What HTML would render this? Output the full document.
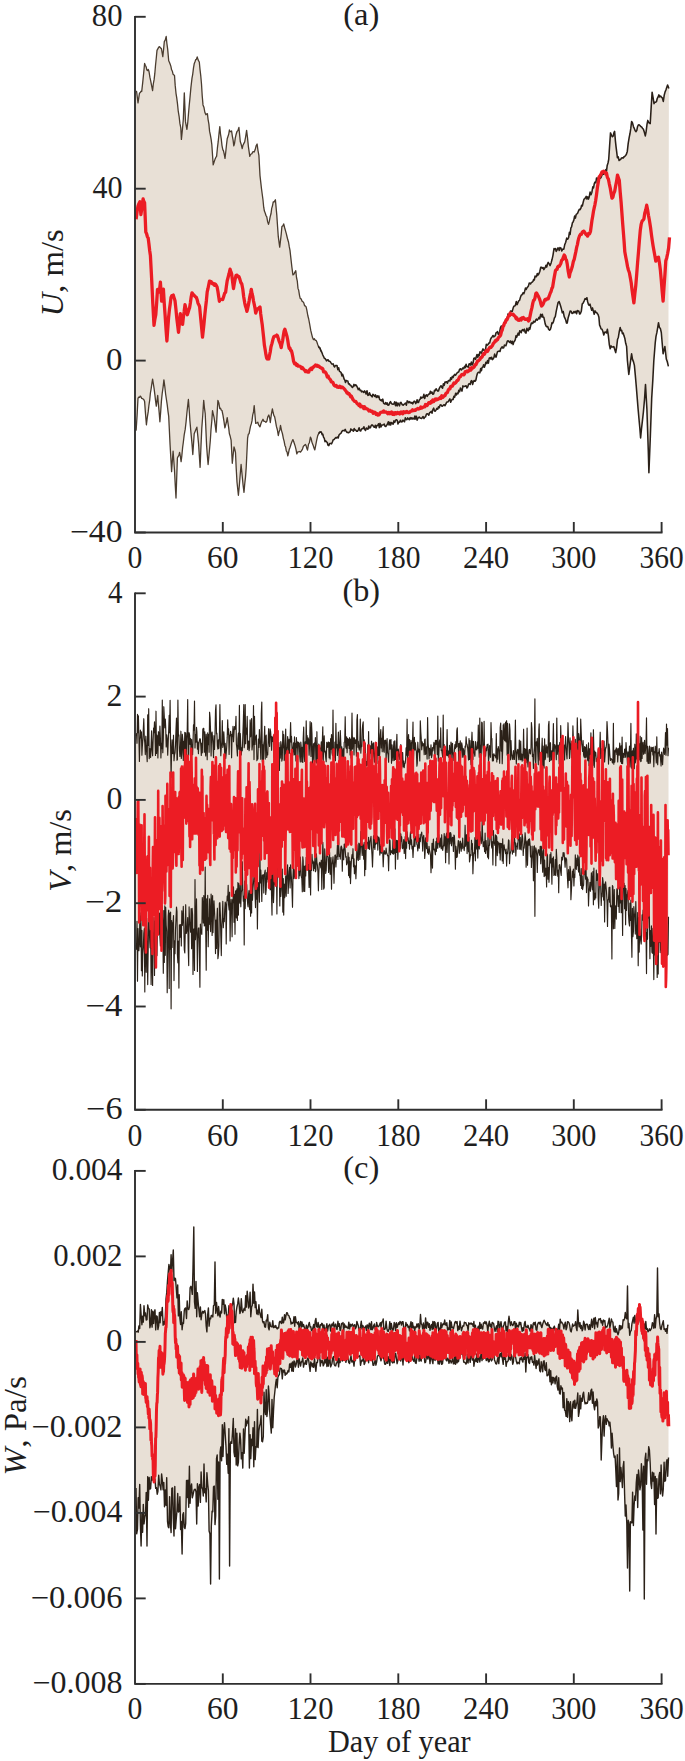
<!DOCTYPE html>
<html><head><meta charset="utf-8"><title>Figure</title>
<style>
html,body{margin:0;padding:0;background:#fff;}
svg{display:block;}
text{font-family:"Liberation Serif","Times New Roman",serif;font-size:31px;fill:#1e1e1e;}
</style></head>
<body>
<svg width="685" height="1761" viewBox="0 0 685 1761">
<rect width="685" height="1761" fill="#fff"/>
<path d="M136,91.5 136.6,91.5 138,102.8 138.8,97.7 139.5,93 140.2,92.7 141,91.2 141.7,91.5 142.7,82.6 143.6,73.7 144.6,63.5 145.3,65.3 146.1,66.7 146.8,69.8 147.5,70.6 148.3,69.5 149,71.5 149.9,77.2 150.8,81.3 151.7,86.2 152.6,90.5 153.3,84 154.1,79.7 154.8,73.7 155.5,65.5 156.3,57.8 157,50.4 157.7,49.1 158.5,47.6 159.2,46.6 159.9,47.1 160.7,48.1 161.4,48.5 162.8,56.6 163.6,49.1 164.3,41.7 165.2,40.2 166.2,36.5 166.9,43.5 167.7,49.4 168.7,60.8 169.4,62.2 170.2,64.2 170.9,66.4 171.6,69.8 172.4,71.3 173.1,74.3 174.5,75.4 175.2,85.4 176,93.3 176.7,97.6 177.5,103.9 178.2,110.8 179.1,116.3 179.9,123.4 180.8,127.9 181.4,139.4 182.4,129.8 183.3,119.5 184.3,92.8 185.5,121.9 186.9,129.4 187.7,123 188.4,114.8 189.2,105.5 189.9,98.6 190.9,87.6 192,78.1 192.7,74.3 193.5,67.9 194.2,63.8 194.9,62 195.7,59.7 196.4,59.4 197.2,56.9 198.2,60.1 199.3,62 200,69.4 200.8,76.2 201.5,84 202.2,95.6 203,104.9 204,107.6 204.9,112.5 205.9,114.7 206.7,113.9 207.4,113.7 208.1,119.6 208.9,124.1 209.6,131.4 210.3,134.6 211.1,139.1 211.8,144.3 213.2,164.9 214,162.3 214.9,159.6 215.8,157.4 216.6,156.4 217.4,148.2 218.2,141.7 219,133.7 219.8,126.6 220.5,134.1 221.3,139.2 222,145.6 222.8,149.6 223.5,150.9 224.2,154 225,158.3 225.7,152.5 226.5,144.7 227.2,138.8 227.9,136.7 228.7,134.3 229.4,130 230.1,131.6 230.9,131.7 231.6,131 232.3,135.8 233.1,140.1 233.8,145.9 234.5,143.6 235.3,137.8 236,134.8 237,131.5 237.9,130.6 238.9,127.4 240.3,141.7 241.2,144.3 242.2,148.7 243,145.2 243.9,143.4 244.7,141.9 245.6,137 246.6,130.3 247.5,137.7 248.4,146.6 249.8,156.3 250.5,154.3 251.3,154 252,153.6 252.7,151.9 253.5,151.7 254.2,152 255.2,149.6 256.1,145.8 257.1,144 258,150.6 258.9,155.4 260,175.6 260.8,182.6 261.5,188.7 262.2,194 263,200 263.7,207.2 264.4,211.1 265.2,213 265.9,215.3 266.8,216.8 267.6,221.6 268.5,224.4 269.3,221.4 270.2,216.6 271,213.8 271.7,208.4 272.5,205.8 273.2,202 273.9,202.1 274.7,201 275.4,199.8 276.8,215.1 277.6,227 278.3,236.7 279.7,247.2 280.4,241.3 281.2,234.4 281.9,226.5 282.8,225.9 283.7,223.9 284.6,227.5 285.6,231.1 286.3,233.6 287.1,237 287.8,239.8 288.5,242 289.3,246.9 290,250.4 291,259.4 291.9,267.3 292.9,274.9 293.9,274.2 294.8,272.4 295.8,270.7 296.5,277.5 297.3,281.2 298,288.4 298.7,290.3 299.5,295.3 300.2,298.4 301.1,298.8 302,301.1 302.9,301.7 303.8,302.9 304.6,305.8 305.3,305.8 306.1,306.9 306.8,309.9 307.8,315.5 308.7,319 309.7,324.4 310.7,330.2 311.6,333.9 312.6,337.8 313.5,339.6 314.4,338.8 315.3,340.4 316.2,340.4 316.9,342 317.7,344.5 318.4,346.2 319.2,347.6 319.9,347.9 320.9,350.7 321.8,352.3 322.8,355 323.5,356.3 324.3,358.2 325,358.5 325.8,359.5 326.5,360.9 327.3,359.9 328,359.7 328.8,361.2 329.5,361.2 330.2,361.6 331,362.9 331.7,363.9 332.4,364.1 333.2,363.9 333.9,366.1 334.6,367 335.4,365.5 336.1,365.5 337,365.5 337.8,369.7 338.7,367.8 339.5,371.4 340.4,371.9 341.1,372.5 341.9,375.9 342.6,374.3 343.3,376.2 344.1,379 344.8,380 345.5,382.5 346.3,380.6 347,380.8 347.8,380.9 348.5,383.9 349.2,383.7 350,385 350.7,385.2 351.5,386.5 352.4,387.4 353.2,386.4 354,384.4 354.8,385.9 355.7,384.7 356.5,385.7 357.4,387.4 358.3,389.6 359.2,388.2 360.1,390.5 360.8,390.2 361.6,391.9 362.3,391.2 363.1,391.7 363.8,392.5 364.6,390.9 365.3,391.9 366.1,394.1 367,390.7 367.9,395.4 368.7,395 369.5,392.8 370.4,395.1 371.2,395.7 372.1,396.9 372.9,394.3 373.8,395.1 374.6,396.4 375.5,394.9 376.3,397.4 377.2,395.8 378,397.4 378.8,396 379.6,399.2 380.5,400.4 381.3,399.8 382,401.1 382.8,399.1 383.5,402.9 384.2,403.7 385,404.2 385.7,402.5 386.5,404.2 387.2,402.9 388,405.3 388.9,405.1 389.7,402.8 390.5,401.6 391.3,403.4 392.2,404 393,404.3 393.8,404 394.7,401.8 395.5,405.7 396.3,402.2 397.1,405.9 398,403 398.8,404.5 399.5,405.9 400.3,402.6 401,402.4 401.8,404 402.5,404.9 403.2,405.2 404,404.3 404.7,403.9 405.5,403.1 406.4,405.2 407.2,400.9 408,401.4 408.8,402.8 409.7,401.6 410.5,402.8 411.2,403.1 412,402.4 412.7,403.9 413.4,402.4 414.2,401.1 414.9,401.4 415.7,403.6 416.4,402.4 417.1,399.8 417.9,402.4 418.6,402.4 419.4,399.7 420.1,399.4 420.8,397 421.6,398.1 422.3,397.4 423.1,397.5 423.9,394.3 424.7,398.5 425.5,395.8 426.4,394.9 427.2,396.4 428,394.8 428.8,394.1 429.6,394 430.4,391.2 431.2,393.1 432,392.1 432.8,394.3 433.7,393.8 434.5,390.2 435.3,390.8 436.1,388.7 436.9,390 437.7,391.1 438.5,390.9 439.3,388.3 440.1,386.9 441,385.7 441.8,387.3 442.6,388.2 443.4,383.7 444.2,385.4 445,382 445.8,382.2 446.6,381.7 447.4,383.3 448.3,380.8 449.1,380.4 449.9,381 450.7,377.8 451.5,379.4 452.3,376.4 453.1,377.5 453.9,375.4 454.7,374.4 455.6,375.2 456.4,373.9 457.2,372.8 458,372.2 458.8,371.8 459.6,369.3 460.5,368.7 461.3,370 462.1,369.2 462.9,367.8 463.8,368.6 464.6,366.2 465.3,367.6 466.1,364.3 466.8,366.6 467.6,366.8 468.3,367.1 469,364 469.8,363.8 470.5,365.1 471.3,362.1 472.2,364.9 473,363.3 473.8,358.5 474.6,358 475.5,359.4 476.3,356.8 477,354.5 477.8,357.4 478.5,354.6 479.2,355.7 480,351.7 480.7,352.4 481.5,353.1 482.2,350.7 483,348.9 483.9,350.2 484.7,350.3 485.5,349.6 486.3,344.3 487.2,345.2 488,344.5 488.8,343.1 489.7,342.9 490.5,339.4 491.3,337.8 492.1,336.9 493,335.5 493.8,336.9 494.5,336.1 495.3,335.7 496,332.8 496.8,332.3 497.5,331.6 498.2,334.1 499,334.1 499.7,331.5 500.5,327.5 501.2,326 502,329.2 502.7,325.4 503.5,325.6 504.3,322 505,321.4 505.8,320.3 506.5,318.6 507.3,317.8 508.1,313.9 508.9,316.2 509.7,315.7 510.5,311.1 511.4,311.3 512.2,311.5 513,308.6 513.8,306.3 514.6,306.1 515.4,305.3 516.3,301.5 517.1,304.6 517.9,302.8 518.7,300.9 519.6,300.4 520.4,297.4 521.2,295.2 522.1,294.8 523,292.8 523.8,293.8 524.6,291.4 525.5,288 526.2,289.5 527,287.7 527.7,286.9 528.4,286.1 529.2,283.1 529.9,283.2 530.6,283.9 531.4,282.4 532.1,282.2 532.9,281.5 533.6,279.5 534.3,280 535.1,276 535.8,276.6 536.5,276.6 537.3,273.5 538,275.1 538.9,273.8 539.8,271.5 540.7,267.3 541.6,267.2 542.3,268.3 543.1,267.6 543.8,269.6 544.5,268.5 545.3,267.1 546,265.2 546.7,267.1 547.5,264 548.2,262.4 549.2,263.9 550.1,265.6 551.1,262.9 552.1,259.3 553,255.1 554,248.6 554.7,249.5 555.5,248.6 556.2,251.4 556.9,250.4 557.7,248.1 558.4,248 559.2,250.5 559.9,247.6 560.9,248 561.8,250.9 562.8,249.1 563.8,249.1 564.7,244.8 565.7,242.2 566.7,238.1 567.6,239.3 568.6,237.7 569.4,232.4 570.1,234.4 570.9,227.9 571.6,226.9 572.4,222.8 573.1,221.9 573.9,219.9 574.6,216.1 575.4,218.1 576.2,214.3 577,213.8 577.7,213.1 578.5,210.9 579.3,209.4 580.1,209.7 580.9,208.2 581.6,205.2 582.4,205.9 583.2,202.2 584,199.1 584.7,198.8 585.5,197.8 586.2,196.4 587,199.1 587.7,196.9 588.5,199.1 589.2,197.1 590.1,192.1 591,194.7 591.9,192.2 592.8,186.9 593.5,187.9 594.3,183.6 595,182 595.8,182.8 596.5,178.1 597.3,178.1 598.1,179.7 598.9,178.1 599.6,176.2 600.4,178.3 601.2,177 602,175 602.8,172.3 603.5,174.2 604.2,172.8 605,170.9 605.8,169.6 606.5,171.2 607.2,165.4 608,163 608.7,159.5 609.6,146 610.5,132.9 611.5,135.4 612.4,136.8 613.1,136.1 613.9,132.9 614.6,131.4 615.4,140.8 616.1,147.1 617.4,157.7 618.2,156.8 619.1,160.5 619.9,159.7 620.7,159.4 621.5,157.9 622.3,157.7 623.1,158.1 623.8,157 624.6,156.5 625.4,155.7 626.3,154.6 627.3,151.4 628.2,143.4 629.2,137.4 630,133.5 630.8,128.4 631.6,121.5 632.5,122.9 633.5,126.8 634.3,128.4 635.2,130.8 636,131.6 636.8,130.3 637.5,126.8 638.3,125 639.1,124.7 639.9,125.5 640.8,126.6 641.6,126.9 642.5,128.2 643.4,129.2 644.3,132.1 645.3,135.9 646.1,131.8 647,124.4 647.8,120.4 648.6,122.6 649.4,122.9 650.2,123.6 651.2,106.9 652.1,92.2 653,97.1 654,103.7 654.8,102.2 655.7,102.3 656.5,101.5 657.3,98.3 658.1,97 658.9,94.9 659.7,96.9 660.6,96.1 661.4,97.1 662.3,97.8 663.3,101.4 664.2,95.3 665.1,91.9 665.9,90 666.8,87.3 667.6,85 668.9,88.5 668.4,366.4 667.3,361.8 666.3,359 664.9,346.5 664,350.1 663.1,353.7 662.2,343.2 661.3,332.5 660.4,328.6 659.4,327.4 658.5,322.7 657.7,327.7 656.9,332.4 656,336.3 655.2,343.2 653.8,361 652.8,380.4 651.7,398.2 650.3,437.5 648.9,472.8 648.3,450.9 646.9,409.1 645.5,384.6 644.5,399.6 643.4,412 642.5,420.1 641.5,428.7 640.6,438 639.8,427.7 638.9,418 638.1,409 637.2,397.9 636.3,386.8 635.3,375.1 634.4,365.4 633.5,361.9 632.5,359.4 631.6,353.8 630.7,360.1 629.7,367.6 628.8,374.4 627.4,360.5 626.6,346.4 625.7,343.3 624.8,338.2 623.9,335.6 623.2,333 622.4,333.7 621.7,330.4 620.9,330.7 620.2,327.5 619.3,331.4 618.4,337.2 617.5,339.6 616.6,347.5 615.7,352.6 614.8,349.8 613.8,346.6 612.9,347 612,347 611.1,345.9 610.2,348.8 609.3,344.5 608.3,335.1 607.4,329.3 606.5,333 605.6,332 604.7,332.3 603.8,335 602.9,331.5 602,329.3 601.1,328.9 600.4,326.9 599.6,325.2 598.9,317.3 598.1,314.6 597.4,313.8 596.6,312.4 595.8,312.5 595,310.8 594.2,314.2 593.4,311.4 592.5,307.9 591.7,310.2 590.8,307.2 590,304.1 589.1,305.3 588.4,304.4 587.6,301.5 586.9,297.7 586.1,299.3 585.1,298.6 584.2,300.8 583.2,302.9 582.2,304.1 581.3,311.3 580.3,313.7 579.6,314 578.8,311 578.1,311.2 577.4,310.6 576.6,313.7 575.9,311.2 574.9,312.7 574,311.5 573,313.2 572,313.4 571.1,311.3 570.1,311.1 569.1,314.7 568.2,317.7 567.2,323 566.5,323.1 565.7,320 565,318.3 564.2,316.7 563.2,311.5 562.3,312.8 561.3,308.4 560.6,306.1 559.8,303.6 559.1,301.5 558.1,302.5 557.2,306.6 556.2,311.3 555.3,316.6 554.4,318 553.5,321.6 552.6,323.5 551.9,322.8 551.1,327 550.4,329.3 549.6,330.3 548.6,329.2 547.7,326.5 546.7,326.8 546,325.9 545.2,323.9 544.5,320.4 543.8,317.2 543,317.2 542.3,314.2 541.5,316.8 540.6,314.3 539.8,318.9 539,317.3 538.2,318.8 537.3,320.2 536.5,319.1 535.8,319.9 535,322 534.3,322.1 533.6,321.3 532.8,323.4 532.1,323.5 531.4,323 530.6,325.8 529.9,329.2 529.2,327.7 528.4,330.8 527.7,330.6 526.9,328.3 526,333.2 525.2,332.7 524.4,329.1 523.6,330.9 522.7,329.6 521.9,330.3 521.2,332.7 520.4,331.1 519.7,330.8 519,335.2 518.2,333.1 517.5,334.8 516.8,337.1 516,335.7 515.3,339.7 514.6,341.1 513.8,342.1 513.1,344.6 512.2,341.2 511.4,343.4 510.5,341 509.7,342.4 508.8,341.6 508.1,340.7 507.3,341.1 506.6,343.6 505.9,345.8 505.1,345.4 504.4,345.1 503.7,347.7 502.9,348.1 502.2,346.9 501.5,347.6 500.7,348.7 500,351.5 499.2,351 498.4,351.4 497.6,351.4 496.8,354.2 496.1,357.1 495.3,356.4 494.6,354.1 493.9,357.6 493.1,358.9 492.4,359.6 491.6,357.2 490.9,359 490.1,357.6 489.2,358.1 488.4,363.1 487.6,360.5 486.8,363.5 485.9,362.2 485.1,365.2 484.4,367.3 483.6,364.7 482.9,367.1 482.1,367.4 481.4,370.8 480.7,368.5 479.9,372.9 479.2,372.4 478.4,372.2 477.5,373.2 476.7,376 475.9,380 475.1,381.3 474.2,380.5 473.4,381.7 472.6,384.5 471.8,380.6 471,381.2 470.2,384.4 469.3,383.7 468.5,384.4 467.7,387 466.9,387.9 466.1,385.7 465.3,386 464.5,386.4 463.7,386.6 462.9,385.9 462,391.1 461.2,389.5 460.4,388 459.6,391.8 458.8,390.2 458,393.8 457.2,393.1 456.4,395 455.6,393.3 454.7,397.2 453.9,396.3 453.1,399.5 452.3,399.4 451.5,400.3 450.7,402.3 449.9,398.8 449.1,400.2 448.3,401.7 447.4,401.9 446.6,402.2 445.8,404.2 445,405.7 444.2,404.7 443.4,405.2 442.6,406.1 441.8,406.1 441,404.8 440.1,404.9 439.3,407.8 438.5,406.7 437.7,409.2 436.9,408.4 436.1,409.9 435.3,411.2 434.5,410.9 433.7,408.1 432.8,409.9 432,413.2 431.2,411.4 430.4,412.3 429.6,412.7 428.8,415.2 428,414 427.2,413.8 426.4,414.2 425.5,416.9 424.7,417.3 423.9,418.5 423.1,416.5 422.3,417.5 421.6,418.5 420.8,418.3 420.1,418.1 419.3,417.1 418.6,417.5 417.9,418.3 417.1,420.2 416.4,416.3 415.6,419 414.9,416 414.1,419.1 413.4,418.3 412.6,419 411.8,417.7 411,419.1 410.2,417.6 409.3,419.7 408.5,418.9 407.7,417.9 406.9,419.7 406.1,419.6 405.3,417.8 404.5,421.8 403.7,420.9 402.9,420.1 402,422 401.2,421.8 400.4,420.2 399.6,422.1 398.8,422.1 398,424 397.2,420.3 396.4,419.7 395.6,420.1 394.7,422.5 393.9,420.9 393.1,424.2 392.3,423.1 391.5,422.5 390.7,425 389.9,422.2 389.1,425 388.3,421.7 387.4,424.2 386.6,425.4 385.8,426.5 385,426.2 384.2,424.1 383.4,424.8 382.6,425 381.8,425.1 381,427 380.1,423.4 379.3,427.6 378.5,423.7 377.7,425.5 376.9,425.6 376.1,428 375.3,425.3 374.5,427.3 373.7,426.8 372.8,425.4 372,424.8 371.2,425.5 370.4,427.7 369.6,427.9 368.8,426 368,429.2 367.2,428.8 366.4,428 365.5,430.5 364.7,429.3 363.9,426.7 363.1,428.6 362.3,428.6 361.5,429.2 360.7,431 359.9,430.5 359.1,427.8 358.2,430.1 357.4,431.3 356.6,431.2 355.8,430.1 355,430 354.2,428.6 353.4,431.2 352.6,430 351.8,430.1 350.9,428.9 350.1,431.7 349.3,432.1 348.5,432.8 347.7,432.3 346.9,432.4 346,431.1 345.2,429.4 344.4,430.9 343.6,430.5 342.7,430.6 341.9,431.3 341.2,433 340.4,433.7 339.7,434.2 339,435 338.2,438 337.5,437 336.6,437.9 335.8,437.6 334.9,438.5 334.1,439.5 333.2,439.7 332.4,442 331.5,443.9 330.6,443.4 329.7,443.5 328.8,445.7 328,445.2 327.3,442.5 326.5,441.9 325.8,440.9 325,441.6 324.3,438.4 323.5,437.1 322.8,434.1 322.1,434.6 321.3,432 320.6,432 319.6,432.2 318.7,433.6 317.7,435.6 316.7,440.1 315.8,444.8 314.8,449.9 314.1,448.2 313.3,445.8 312.6,444 311.9,442.1 311.1,438.5 310.4,437.1 309.4,442.7 308.5,444.3 307.5,450.1 306.8,448.3 306,445.4 305.3,444.4 304.3,445.6 303.4,446.3 302.4,449.4 301.4,450.9 300.5,452.1 299.5,451.5 298.6,451.9 297.7,451.9 296.8,453.9 296,449.3 295.1,445.9 294.4,443.7 293.6,441.3 292.9,439.6 291.9,441.8 291,444.3 290,447.5 289.3,449.2 288.5,453.1 287.8,455.9 287.1,452.2 286.3,451 285.6,446.9 284.9,445.4 284.1,441.1 283.4,438.6 282.4,433.5 281.5,430.6 280.5,425.4 279.8,429.9 279,432 278.3,435.5 277.3,429.5 276.4,426.4 275.4,420.7 274.6,416.7 273.9,415.6 273.1,412.5 272.4,408.8 271.4,414.1 270.3,422.5 269.6,417.7 268.8,415 267.8,416.8 266.9,421.2 265.9,422.4 264.9,421.4 264,421.4 263,419.2 262.2,420.7 261.5,422.1 260.8,424 260,426.8 259.3,425.8 258.5,424.6 257.8,422.2 256.8,423 255.7,423.4 254.9,414 254.2,405.6 253.5,411.9 252.7,415.2 252,420.9 251.3,423.9 250.5,426.4 249.8,429.8 249.1,433.7 248.3,434.3 247.6,438.2 246.2,467.6 245.5,477.1 244.7,484.3 244,492.3 243,484.3 242.1,475 241.1,464.5 240.2,474.8 239.3,485.9 238.4,495.3 237,482.1 236.2,468.3 235.5,452.7 234.8,449.5 234,447 233.2,454.5 232.3,463.3 231.1,440.1 230.2,436.3 229.4,433.8 228.7,427.8 227.9,422.3 227.2,417.6 226.4,422.3 225.7,424.8 224.9,427.8 223.9,420.8 223,415.3 222,410.5 221.3,410.2 220.5,408.3 219.8,408.7 218.9,403.3 217.9,400.4 217,415.6 216.1,432.1 214.7,421.7 214,417.2 213.2,413.8 212.5,410.7 211.8,421.1 211,429.8 210.3,440.8 209.6,448.5 208.8,457.3 208.1,464.5 207.3,454.9 206.6,445.4 205.2,413.6 204.4,407.6 203.7,400.3 202.8,414.7 201.8,428.1 200.9,447.9 200.1,467.4 199.3,455.3 198.6,444.1 197.8,435.9 196.9,427.2 196,429.3 195.1,431.4 194.2,433.7 192.8,454.5 192.1,444.9 191.3,436.4 189.9,420.7 189.2,410 188.4,399.5 187.7,405.5 186.9,413 186.1,421.6 185.2,429.4 184.2,434.9 183.3,442.5 182.6,447.7 181.8,456.1 181.1,461.6 180.3,456 179.6,452.3 178.9,455.3 178.1,456.6 177.4,458.1 176,498 175.2,484.3 174.5,470.4 173.1,451.2 172.3,461.5 171.6,471.6 170.8,457.3 170.1,445.1 168.7,416.4 168,411.4 167.2,404.6 166.5,400 165.6,394 164.8,386.5 163.9,379.8 163.1,387.1 162.2,393.5 161.4,401.4 160.7,411.4 159.9,421.8 159.2,412.8 158.4,404.1 157.7,395.5 156.3,406.2 155.6,401.1 154.8,394.1 154.1,388.7 153.3,383.5 152.6,379.1 151.9,383.3 151.1,389.1 150.4,393 149.7,400.1 148.9,405.5 148.2,411.9 147.3,417.4 146.4,424.8 145.5,413.7 144.6,401.4 143.9,399.7 143.1,399 142.4,398.7 141.7,398.4 140.9,396.7 140.2,396.1 139.5,397.5 138.7,397.2 138,398.3 137.1,415.3 136.1,430.6Z" fill="#e8e0d6" stroke="none"/>
<path d="M136,91.5 136.6,91.5 138,102.8 138.8,97.7 139.5,93 140.2,92.7 141,91.2 141.7,91.5 142.7,82.6 143.6,73.7 144.6,63.5 145.3,65.3 146.1,66.7 146.8,69.8 147.5,70.6 148.3,69.5 149,71.5 149.9,77.2 150.8,81.3 151.7,86.2 152.6,90.5 153.3,84 154.1,79.7 154.8,73.7 155.5,65.5 156.3,57.8 157,50.4 157.7,49.1 158.5,47.6 159.2,46.6 159.9,47.1 160.7,48.1 161.4,48.5 162.8,56.6 163.6,49.1 164.3,41.7 165.2,40.2 166.2,36.5 166.9,43.5 167.7,49.4 168.7,60.8 169.4,62.2 170.2,64.2 170.9,66.4 171.6,69.8 172.4,71.3 173.1,74.3 174.5,75.4 175.2,85.4 176,93.3 176.7,97.6 177.5,103.9 178.2,110.8 179.1,116.3 179.9,123.4 180.8,127.9 181.4,139.4 182.4,129.8 183.3,119.5 184.3,92.8 185.5,121.9 186.9,129.4 187.7,123 188.4,114.8 189.2,105.5 189.9,98.6 190.9,87.6 192,78.1 192.7,74.3 193.5,67.9 194.2,63.8 194.9,62 195.7,59.7 196.4,59.4 197.2,56.9 198.2,60.1 199.3,62 200,69.4 200.8,76.2 201.5,84 202.2,95.6 203,104.9 204,107.6 204.9,112.5 205.9,114.7 206.7,113.9 207.4,113.7 208.1,119.6 208.9,124.1 209.6,131.4 210.3,134.6 211.1,139.1 211.8,144.3 213.2,164.9 214,162.3 214.9,159.6 215.8,157.4 216.6,156.4 217.4,148.2 218.2,141.7 219,133.7 219.8,126.6 220.5,134.1 221.3,139.2 222,145.6 222.8,149.6 223.5,150.9 224.2,154 225,158.3 225.7,152.5 226.5,144.7 227.2,138.8 227.9,136.7 228.7,134.3 229.4,130 230.1,131.6 230.9,131.7 231.6,131 232.3,135.8 233.1,140.1 233.8,145.9 234.5,143.6 235.3,137.8 236,134.8 237,131.5 237.9,130.6 238.9,127.4 240.3,141.7 241.2,144.3 242.2,148.7 243,145.2 243.9,143.4 244.7,141.9 245.6,137 246.6,130.3 247.5,137.7 248.4,146.6 249.8,156.3 250.5,154.3 251.3,154 252,153.6 252.7,151.9 253.5,151.7 254.2,152 255.2,149.6 256.1,145.8 257.1,144 258,150.6 258.9,155.4 260,175.6 260.8,182.6 261.5,188.7 262.2,194 263,200 263.7,207.2 264.4,211.1 265.2,213 265.9,215.3 266.8,216.8 267.6,221.6 268.5,224.4 269.3,221.4 270.2,216.6 271,213.8 271.7,208.4 272.5,205.8 273.2,202 273.9,202.1 274.7,201 275.4,199.8 276.8,215.1 277.6,227 278.3,236.7 279.7,247.2 280.4,241.3 281.2,234.4 281.9,226.5 282.8,225.9 283.7,223.9 284.6,227.5 285.6,231.1 286.3,233.6 287.1,237 287.8,239.8 288.5,242 289.3,246.9 290,250.4 291,259.4 291.9,267.3 292.9,274.9 293.9,274.2 294.8,272.4 295.8,270.7 296.5,277.5 297.3,281.2 298,288.4 298.7,290.3 299.5,295.3 300.2,298.4 301.1,298.8 302,301.1 302.9,301.7 303.8,302.9 304.6,305.8 305.3,305.8 306.1,306.9 306.8,309.9 307.8,315.5 308.7,319 309.7,324.4 310.7,330.2 311.6,333.9 312.6,337.8 313.5,339.6 314.4,338.8 315.3,340.4 316.2,340.4 316.9,342 317.7,344.5 318.4,346.2 319.2,347.6 319.9,347.9 320.9,350.7 321.8,352.3" fill="none" stroke="#4a3c2f" stroke-width="1.3" stroke-linejoin="round"/>
<path d="M318.4,346.2 319.2,347.6 319.9,347.9 320.9,350.7 321.8,352.3 322.8,355 323.5,356.3 324.3,358.2 325,358.5 325.8,359.5 326.5,360.9 327.3,359.9 328,359.7 328.8,361.2 329.5,361.2 330.2,361.6 331,362.9 331.7,363.9 332.4,364.1 333.2,363.9 333.9,366.1 334.6,367 335.4,365.5 336.1,365.5 337,365.5 337.8,369.7 338.7,367.8 339.5,371.4 340.4,371.9 341.1,372.5 341.9,375.9 342.6,374.3 343.3,376.2 344.1,379 344.8,380 345.5,382.5 346.3,380.6 347,380.8 347.8,380.9 348.5,383.9 349.2,383.7 350,385 350.7,385.2 351.5,386.5 352.4,387.4 353.2,386.4 354,384.4 354.8,385.9 355.7,384.7 356.5,385.7 357.4,387.4 358.3,389.6 359.2,388.2 360.1,390.5 360.8,390.2 361.6,391.9 362.3,391.2 363.1,391.7 363.8,392.5 364.6,390.9 365.3,391.9 366.1,394.1 367,390.7 367.9,395.4 368.7,395 369.5,392.8 370.4,395.1 371.2,395.7 372.1,396.9 372.9,394.3 373.8,395.1 374.6,396.4 375.5,394.9 376.3,397.4 377.2,395.8 378,397.4 378.8,396 379.6,399.2 380.5,400.4 381.3,399.8 382,401.1 382.8,399.1 383.5,402.9 384.2,403.7 385,404.2 385.7,402.5 386.5,404.2 387.2,402.9 388,405.3 388.9,405.1 389.7,402.8 390.5,401.6 391.3,403.4 392.2,404 393,404.3 393.8,404 394.7,401.8 395.5,405.7 396.3,402.2 397.1,405.9 398,403 398.8,404.5 399.5,405.9 400.3,402.6 401,402.4 401.8,404 402.5,404.9 403.2,405.2 404,404.3 404.7,403.9 405.5,403.1 406.4,405.2 407.2,400.9 408,401.4 408.8,402.8 409.7,401.6 410.5,402.8 411.2,403.1 412,402.4 412.7,403.9 413.4,402.4 414.2,401.1 414.9,401.4 415.7,403.6 416.4,402.4 417.1,399.8 417.9,402.4 418.6,402.4 419.4,399.7 420.1,399.4 420.8,397 421.6,398.1 422.3,397.4 423.1,397.5 423.9,394.3 424.7,398.5 425.5,395.8 426.4,394.9 427.2,396.4 428,394.8 428.8,394.1 429.6,394 430.4,391.2 431.2,393.1 432,392.1 432.8,394.3 433.7,393.8 434.5,390.2 435.3,390.8 436.1,388.7 436.9,390 437.7,391.1 438.5,390.9 439.3,388.3 440.1,386.9 441,385.7 441.8,387.3 442.6,388.2 443.4,383.7 444.2,385.4 445,382 445.8,382.2 446.6,381.7 447.4,383.3 448.3,380.8 449.1,380.4 449.9,381 450.7,377.8 451.5,379.4 452.3,376.4 453.1,377.5 453.9,375.4 454.7,374.4 455.6,375.2 456.4,373.9 457.2,372.8 458,372.2 458.8,371.8 459.6,369.3 460.5,368.7 461.3,370 462.1,369.2 462.9,367.8 463.8,368.6 464.6,366.2 465.3,367.6 466.1,364.3 466.8,366.6 467.6,366.8 468.3,367.1 469,364 469.8,363.8 470.5,365.1 471.3,362.1 472.2,364.9 473,363.3 473.8,358.5 474.6,358 475.5,359.4 476.3,356.8 477,354.5 477.8,357.4 478.5,354.6 479.2,355.7 480,351.7 480.7,352.4 481.5,353.1 482.2,350.7 483,348.9 483.9,350.2 484.7,350.3 485.5,349.6 486.3,344.3 487.2,345.2 488,344.5 488.8,343.1 489.7,342.9 490.5,339.4 491.3,337.8 492.1,336.9 493,335.5 493.8,336.9 494.5,336.1 495.3,335.7 496,332.8 496.8,332.3 497.5,331.6 498.2,334.1 499,334.1 499.7,331.5 500.5,327.5 501.2,326 502,329.2 502.7,325.4 503.5,325.6 504.3,322 505,321.4 505.8,320.3 506.5,318.6 507.3,317.8 508.1,313.9 508.9,316.2 509.7,315.7 510.5,311.1 511.4,311.3 512.2,311.5 513,308.6 513.8,306.3 514.6,306.1 515.4,305.3 516.3,301.5 517.1,304.6 517.9,302.8 518.7,300.9 519.6,300.4 520.4,297.4 521.2,295.2 522.1,294.8 523,292.8 523.8,293.8 524.6,291.4 525.5,288 526.2,289.5 527,287.7 527.7,286.9 528.4,286.1 529.2,283.1 529.9,283.2 530.6,283.9 531.4,282.4 532.1,282.2 532.9,281.5 533.6,279.5 534.3,280 535.1,276 535.8,276.6 536.5,276.6 537.3,273.5 538,275.1 538.9,273.8 539.8,271.5 540.7,267.3 541.6,267.2 542.3,268.3 543.1,267.6 543.8,269.6 544.5,268.5 545.3,267.1 546,265.2 546.7,267.1 547.5,264 548.2,262.4 549.2,263.9 550.1,265.6 551.1,262.9 552.1,259.3 553,255.1 554,248.6 554.7,249.5 555.5,248.6 556.2,251.4 556.9,250.4 557.7,248.1 558.4,248 559.2,250.5 559.9,247.6 560.9,248 561.8,250.9 562.8,249.1 563.8,249.1 564.7,244.8 565.7,242.2 566.7,238.1 567.6,239.3 568.6,237.7 569.4,232.4 570.1,234.4 570.9,227.9 571.6,226.9 572.4,222.8 573.1,221.9 573.9,219.9 574.6,216.1 575.4,218.1 576.2,214.3 577,213.8 577.7,213.1 578.5,210.9 579.3,209.4 580.1,209.7 580.9,208.2 581.6,205.2 582.4,205.9 583.2,202.2 584,199.1 584.7,198.8 585.5,197.8 586.2,196.4 587,199.1 587.7,196.9 588.5,199.1 589.2,197.1 590.1,192.1 591,194.7 591.9,192.2 592.8,186.9 593.5,187.9 594.3,183.6 595,182 595.8,182.8 596.5,178.1 597.3,178.1 598.1,179.7 598.9,178.1 599.6,176.2 600.4,178.3 601.2,177 602,175 602.8,172.3 603.5,174.2 604.2,172.8 605,170.9 605.8,169.6 606.5,171.2 607.2,165.4 608,163 608.7,159.5 609.6,146 610.5,132.9 611.5,135.4 612.4,136.8 613.1,136.1 613.9,132.9 614.6,131.4 615.4,140.8 616.1,147.1 617.4,157.7 618.2,156.8 619.1,160.5 619.9,159.7 620.7,159.4 621.5,157.9 622.3,157.7 623.1,158.1 623.8,157 624.6,156.5 625.4,155.7 626.3,154.6 627.3,151.4 628.2,143.4 629.2,137.4 630,133.5 630.8,128.4 631.6,121.5 632.5,122.9 633.5,126.8 634.3,128.4 635.2,130.8 636,131.6 636.8,130.3 637.5,126.8 638.3,125 639.1,124.7 639.9,125.5 640.8,126.6 641.6,126.9 642.5,128.2 643.4,129.2 644.3,132.1 645.3,135.9 646.1,131.8 647,124.4 647.8,120.4 648.6,122.6 649.4,122.9 650.2,123.6 651.2,106.9 652.1,92.2 653,97.1 654,103.7 654.8,102.2 655.7,102.3 656.5,101.5 657.3,98.3 658.1,97 658.9,94.9 659.7,96.9 660.6,96.1 661.4,97.1 662.3,97.8 663.3,101.4 664.2,95.3 665.1,91.9 665.9,90 666.8,87.3 667.6,85 668.9,88.5" fill="none" stroke="#2a2018" stroke-width="1.55" stroke-linejoin="round"/>
<path d="M136.1,430.6 137.1,415.3 138,398.3 138.7,397.2 139.5,397.5 140.2,396.1 140.9,396.7 141.7,398.4 142.4,398.7 143.1,399 143.9,399.7 144.6,401.4 145.5,413.7 146.4,424.8 147.3,417.4 148.2,411.9 148.9,405.5 149.7,400.1 150.4,393 151.1,389.1 151.9,383.3 152.6,379.1 153.3,383.5 154.1,388.7 154.8,394.1 155.6,401.1 156.3,406.2 157.7,395.5 158.4,404.1 159.2,412.8 159.9,421.8 160.7,411.4 161.4,401.4 162.2,393.5 163.1,387.1 163.9,379.8 164.8,386.5 165.6,394 166.5,400 167.2,404.6 168,411.4 168.7,416.4 170.1,445.1 170.8,457.3 171.6,471.6 172.3,461.5 173.1,451.2 174.5,470.4 175.2,484.3 176,498 177.4,458.1 178.1,456.6 178.9,455.3 179.6,452.3 180.3,456 181.1,461.6 181.8,456.1 182.6,447.7 183.3,442.5 184.2,434.9 185.2,429.4 186.1,421.6 186.9,413 187.7,405.5 188.4,399.5 189.2,410 189.9,420.7 191.3,436.4 192.1,444.9 192.8,454.5 194.2,433.7 195.1,431.4 196,429.3 196.9,427.2 197.8,435.9 198.6,444.1 199.3,455.3 200.1,467.4 200.9,447.9 201.8,428.1 202.8,414.7 203.7,400.3 204.4,407.6 205.2,413.6 206.6,445.4 207.3,454.9 208.1,464.5 208.8,457.3 209.6,448.5 210.3,440.8 211,429.8 211.8,421.1 212.5,410.7 213.2,413.8 214,417.2 214.7,421.7 216.1,432.1 217,415.6 217.9,400.4 218.9,403.3 219.8,408.7 220.5,408.3 221.3,410.2 222,410.5 223,415.3 223.9,420.8 224.9,427.8 225.7,424.8 226.4,422.3 227.2,417.6 227.9,422.3 228.7,427.8 229.4,433.8 230.2,436.3 231.1,440.1 232.3,463.3 233.2,454.5 234,447 234.8,449.5 235.5,452.7 236.2,468.3 237,482.1 238.4,495.3 239.3,485.9 240.2,474.8 241.1,464.5 242.1,475 243,484.3 244,492.3 244.7,484.3 245.5,477.1 246.2,467.6 247.6,438.2 248.3,434.3 249.1,433.7 249.8,429.8 250.5,426.4 251.3,423.9 252,420.9 252.7,415.2 253.5,411.9 254.2,405.6 254.9,414 255.7,423.4 256.8,423 257.8,422.2 258.5,424.6 259.3,425.8 260,426.8 260.8,424 261.5,422.1 262.2,420.7 263,419.2 264,421.4 264.9,421.4 265.9,422.4 266.9,421.2 267.8,416.8 268.8,415 269.6,417.7 270.3,422.5 271.4,414.1 272.4,408.8 273.1,412.5 273.9,415.6 274.6,416.7 275.4,420.7 276.4,426.4 277.3,429.5 278.3,435.5 279,432 279.8,429.9 280.5,425.4 281.5,430.6 282.4,433.5 283.4,438.6 284.1,441.1 284.9,445.4 285.6,446.9 286.3,451 287.1,452.2 287.8,455.9 288.5,453.1 289.3,449.2 290,447.5 291,444.3 291.9,441.8 292.9,439.6 293.6,441.3 294.4,443.7 295.1,445.9 296,449.3 296.8,453.9 297.7,451.9 298.6,451.9 299.5,451.5 300.5,452.1 301.4,450.9 302.4,449.4 303.4,446.3 304.3,445.6 305.3,444.4 306,445.4 306.8,448.3 307.5,450.1 308.5,444.3 309.4,442.7 310.4,437.1 311.1,438.5 311.9,442.1 312.6,444 313.3,445.8 314.1,448.2 314.8,449.9 315.8,444.8 316.7,440.1 317.7,435.6 318.7,433.6 319.6,432.2 320.6,432 321.3,432" fill="none" stroke="#4a3c2f" stroke-width="1.3" stroke-linejoin="round"/>
<path d="M318.7,433.6 319.6,432.2 320.6,432 321.3,432 322.1,434.6 322.8,434.1 323.5,437.1 324.3,438.4 325,441.6 325.8,440.9 326.5,441.9 327.3,442.5 328,445.2 328.8,445.7 329.7,443.5 330.6,443.4 331.5,443.9 332.4,442 333.2,439.7 334.1,439.5 334.9,438.5 335.8,437.6 336.6,437.9 337.5,437 338.2,438 339,435 339.7,434.2 340.4,433.7 341.2,433 341.9,431.3 342.7,430.6 343.6,430.5 344.4,430.9 345.2,429.4 346,431.1 346.9,432.4 347.7,432.3 348.5,432.8 349.3,432.1 350.1,431.7 350.9,428.9 351.8,430.1 352.6,430 353.4,431.2 354.2,428.6 355,430 355.8,430.1 356.6,431.2 357.4,431.3 358.2,430.1 359.1,427.8 359.9,430.5 360.7,431 361.5,429.2 362.3,428.6 363.1,428.6 363.9,426.7 364.7,429.3 365.5,430.5 366.4,428 367.2,428.8 368,429.2 368.8,426 369.6,427.9 370.4,427.7 371.2,425.5 372,424.8 372.8,425.4 373.7,426.8 374.5,427.3 375.3,425.3 376.1,428 376.9,425.6 377.7,425.5 378.5,423.7 379.3,427.6 380.1,423.4 381,427 381.8,425.1 382.6,425 383.4,424.8 384.2,424.1 385,426.2 385.8,426.5 386.6,425.4 387.4,424.2 388.3,421.7 389.1,425 389.9,422.2 390.7,425 391.5,422.5 392.3,423.1 393.1,424.2 393.9,420.9 394.7,422.5 395.6,420.1 396.4,419.7 397.2,420.3 398,424 398.8,422.1 399.6,422.1 400.4,420.2 401.2,421.8 402,422 402.9,420.1 403.7,420.9 404.5,421.8 405.3,417.8 406.1,419.6 406.9,419.7 407.7,417.9 408.5,418.9 409.3,419.7 410.2,417.6 411,419.1 411.8,417.7 412.6,419 413.4,418.3 414.1,419.1 414.9,416 415.6,419 416.4,416.3 417.1,420.2 417.9,418.3 418.6,417.5 419.3,417.1 420.1,418.1 420.8,418.3 421.6,418.5 422.3,417.5 423.1,416.5 423.9,418.5 424.7,417.3 425.5,416.9 426.4,414.2 427.2,413.8 428,414 428.8,415.2 429.6,412.7 430.4,412.3 431.2,411.4 432,413.2 432.8,409.9 433.7,408.1 434.5,410.9 435.3,411.2 436.1,409.9 436.9,408.4 437.7,409.2 438.5,406.7 439.3,407.8 440.1,404.9 441,404.8 441.8,406.1 442.6,406.1 443.4,405.2 444.2,404.7 445,405.7 445.8,404.2 446.6,402.2 447.4,401.9 448.3,401.7 449.1,400.2 449.9,398.8 450.7,402.3 451.5,400.3 452.3,399.4 453.1,399.5 453.9,396.3 454.7,397.2 455.6,393.3 456.4,395 457.2,393.1 458,393.8 458.8,390.2 459.6,391.8 460.4,388 461.2,389.5 462,391.1 462.9,385.9 463.7,386.6 464.5,386.4 465.3,386 466.1,385.7 466.9,387.9 467.7,387 468.5,384.4 469.3,383.7 470.2,384.4 471,381.2 471.8,380.6 472.6,384.5 473.4,381.7 474.2,380.5 475.1,381.3 475.9,380 476.7,376 477.5,373.2 478.4,372.2 479.2,372.4 479.9,372.9 480.7,368.5 481.4,370.8 482.1,367.4 482.9,367.1 483.6,364.7 484.4,367.3 485.1,365.2 485.9,362.2 486.8,363.5 487.6,360.5 488.4,363.1 489.2,358.1 490.1,357.6 490.9,359 491.6,357.2 492.4,359.6 493.1,358.9 493.9,357.6 494.6,354.1 495.3,356.4 496.1,357.1 496.8,354.2 497.6,351.4 498.4,351.4 499.2,351 500,351.5 500.7,348.7 501.5,347.6 502.2,346.9 502.9,348.1 503.7,347.7 504.4,345.1 505.1,345.4 505.9,345.8 506.6,343.6 507.3,341.1 508.1,340.7 508.8,341.6 509.7,342.4 510.5,341 511.4,343.4 512.2,341.2 513.1,344.6 513.8,342.1 514.6,341.1 515.3,339.7 516,335.7 516.8,337.1 517.5,334.8 518.2,333.1 519,335.2 519.7,330.8 520.4,331.1 521.2,332.7 521.9,330.3 522.7,329.6 523.6,330.9 524.4,329.1 525.2,332.7 526,333.2 526.9,328.3 527.7,330.6 528.4,330.8 529.2,327.7 529.9,329.2 530.6,325.8 531.4,323 532.1,323.5 532.8,323.4 533.6,321.3 534.3,322.1 535,322 535.8,319.9 536.5,319.1 537.3,320.2 538.2,318.8 539,317.3 539.8,318.9 540.6,314.3 541.5,316.8 542.3,314.2 543,317.2 543.8,317.2 544.5,320.4 545.2,323.9 546,325.9 546.7,326.8 547.7,326.5 548.6,329.2 549.6,330.3 550.4,329.3 551.1,327 551.9,322.8 552.6,323.5 553.5,321.6 554.4,318 555.3,316.6 556.2,311.3 557.2,306.6 558.1,302.5 559.1,301.5 559.8,303.6 560.6,306.1 561.3,308.4 562.3,312.8 563.2,311.5 564.2,316.7 565,318.3 565.7,320 566.5,323.1 567.2,323 568.2,317.7 569.1,314.7 570.1,311.1 571.1,311.3 572,313.4 573,313.2 574,311.5 574.9,312.7 575.9,311.2 576.6,313.7 577.4,310.6 578.1,311.2 578.8,311 579.6,314 580.3,313.7 581.3,311.3 582.2,304.1 583.2,302.9 584.2,300.8 585.1,298.6 586.1,299.3 586.9,297.7 587.6,301.5 588.4,304.4 589.1,305.3 590,304.1 590.8,307.2 591.7,310.2 592.5,307.9 593.4,311.4 594.2,314.2 595,310.8 595.8,312.5 596.6,312.4 597.4,313.8 598.1,314.6 598.9,317.3 599.6,325.2 600.4,326.9 601.1,328.9 602,329.3 602.9,331.5 603.8,335 604.7,332.3 605.6,332 606.5,333 607.4,329.3 608.3,335.1 609.3,344.5 610.2,348.8 611.1,345.9 612,347 612.9,347 613.8,346.6 614.8,349.8 615.7,352.6 616.6,347.5 617.5,339.6 618.4,337.2 619.3,331.4 620.2,327.5 620.9,330.7 621.7,330.4 622.4,333.7 623.2,333 623.9,335.6 624.8,338.2 625.7,343.3 626.6,346.4 627.4,360.5 628.8,374.4 629.7,367.6 630.7,360.1 631.6,353.8 632.5,359.4 633.5,361.9 634.4,365.4 635.3,375.1 636.3,386.8 637.2,397.9 638.1,409 638.9,418 639.8,427.7 640.6,438 641.5,428.7 642.5,420.1 643.4,412 644.5,399.6 645.5,384.6 646.9,409.1 648.3,450.9 648.9,472.8 650.3,437.5 651.7,398.2 652.8,380.4 653.8,361 655.2,343.2 656,336.3 656.9,332.4 657.7,327.7 658.5,322.7 659.4,327.4 660.4,328.6 661.3,332.5 662.2,343.2 663.1,353.7 664,350.1 664.9,346.5 666.3,359 667.3,361.8 668.4,366.4" fill="none" stroke="#2a2018" stroke-width="1.55" stroke-linejoin="round"/>
<path d="M136.1,219.3 137.1,211.5 138,206 138.9,203.7 139.9,201.7 140.9,214.5 141.6,210 142.4,203.6 143.1,199 143.8,201.3 144.6,202.8 145.8,232.1 146.6,233.7 147.4,236.7 148.2,238.1 148.9,243.8 149.7,250.7 150.4,255.5 151.7,279.9 152.8,303.3 154,325.3 154.9,319.1 155.8,314.7 156.7,302.5 157.5,289.3 158.4,291.2 159.3,292 160.4,282.2 161.6,301.1 162.5,296.2 163.4,289.1 164.2,302.6 165.1,315.1 166,328.9 166.9,341 167.8,328.4 168.6,317.5 169.4,309.8 170.2,304 171,297.4 171.8,295.7 172.5,295.7 173.3,295.1 174.2,298.1 175,300.8 175.9,308.9 176.8,318.4 177.7,325.5 178.5,332.4 179.4,323.6 180.3,313.7 181.1,316.4 181.8,320.5 182.6,324.3 183.4,316.9 184.2,311.3 185,304.6 185.8,308.1 186.5,312 187.3,314.7 188.1,312.4 188.8,310 189.6,307.7 190.4,302.7 191.2,296.8 192,292.8 193,294.2 193.9,295.1 194.9,296.3 195.7,297 196.4,297.6 197.2,299.8 198,303.2 198.8,304.7 199.6,306.7 200.6,317.4 201.5,326.3 202.5,337.2 203.3,330.1 204,323.5 204.8,314.9 205.6,307.4 206.4,300.5 207.2,291.9 208,288.5 208.7,285 209.5,281.1 210.3,281.5 211.1,281.6 212,283.4 212.8,284 213.6,283.4 214.5,285.4 215.3,284.1 216.2,285.3 217.1,287 217.9,291.2 218.6,296 219.4,301.3 220.2,299.8 221.1,299.5 221.9,299.2 222.7,299.6 223.7,296.4 224.6,293.4 225.6,292.2 226.4,286.3 227.2,280.7 228.2,277 229.1,273.5 230.1,269.2 230.8,271.7 231.6,273.6 232.6,281.7 233.5,288.5 234.3,283.4 235.2,279 236,275.3 237,275.1 237.9,276.5 238.9,276.6 239.9,279.4 240.8,282.5 241.8,284 242.8,289.3 243.7,296.8 244.7,302.8 245.4,305.9 246.2,308.3 246.9,311.3 247.6,308.7 248.4,304.8 249.1,301.1 249.8,296.8 250.6,293.1 251.3,289.4 252,293.5 252.8,296.5 253.5,301 254.2,304.2 255,308.1 255.7,313.1 256.8,309.9 257.8,308.6 258.5,308.8 259.3,307.6 260,307 260.7,313.9 261.5,319.8 262.2,324.4 262.9,330.9 263.7,338.3 264.4,345.3 265.1,349.2 265.9,354.4 266.6,358 267.3,359 268.1,358.3 268.8,358.9 269.5,355.5 270.3,351.6 271,346.8 272,343.4 272.9,339.6 273.9,336.5 274.9,336.2 275.8,336.2 276.8,335.1 277.5,335.9 278.3,338.5 279,340.8 279.7,342.5 280.5,344.8 281.2,347.6 281.9,343.8 282.7,340.3 283.4,335.2 284.1,331.1 284.9,329.2 285.9,332.6 287,336.5 287.7,340 288.5,345.2 289.2,348.4 289.9,347.9 290.7,350.4 291.4,350.6 292.1,353.2 292.9,357.3 293.6,361.4 294.6,363.8 295.5,363.2 296.5,365.4 297.2,364.6 298,366.1 298.7,366.2 299.4,366.2 300.2,366.3 300.9,367.2 301.6,368.4 302.4,367.6 303.1,368.5 303.9,369.6 304.6,370.1 305.5,371.6 306.3,370.7 307.1,371.9 308,372 308.8,372 309.5,369.7 310.3,369.1 311.1,368.2 311.8,369.5 312.6,367.5 313.3,367.3 314.1,366.1 314.8,366.2 315.5,365.1 316.3,366 317,365.2 317.7,366.3 318.5,366 319.2,366.3 319.9,367.5 320.7,367.7 321.4,368.3 322.1,368.2 322.9,369.1 323.6,371.9 324.4,371.7 325.1,371.8 325.9,373 326.6,374.7 327.3,376.9 328.1,376 328.8,378 329.6,378.8 330.5,379.8 331.3,381.9 332.1,382 332.9,382.4 333.8,384.7 334.6,385.8 335.4,386.1 336.3,385.4 337.1,387.1 337.9,387 338.7,387.4 339.6,386.2 340.4,386.6 341.2,387.7 342.1,387.1 342.9,387.5 343.8,388.5 344.6,389.2 345.5,390.5 346.2,391.3 347,393.1 347.7,392.8 348.5,394.1 349.2,393.8 350,395.1 350.7,396.9 351.5,396.3 352.4,398.4 353.2,399.9 354,400.7 354.8,401.4 355.7,401.4 356.5,402.7 357.3,403.9 358.2,404.4 359,405.6 359.8,404.1 360.6,406.7 361.5,406 362.3,407 363,406.7 363.8,408.6 364.5,406.8 365.2,408.5 366,408.1 366.7,408.8 367.5,409.1 368.2,409.9 369,411 369.9,410.3 370.7,411.4 371.5,411.1 372.3,411.3 373.2,413.3 374,412.6 374.7,412.1 375.5,413 376.2,414.4 376.9,413.5 377.7,415.1 378.4,414.9 379.1,414.8 379.9,413.2 380.6,412.5 381.3,412.1 382.1,412.1 382.8,412 383.6,410.9 384.5,412.2 385.3,412.1 386.1,412 386.9,412.6 387.8,413.7 388.6,412.5 389.4,413.7 390.2,412.4 391,413.5 391.8,412.1 392.7,414.3 393.5,413 394.3,414.4 395.1,412.6 395.9,413.3 396.6,413.8 397.4,412.5 398.1,412.6 398.9,413.5 399.6,414 400.3,412.4 401.1,412 401.8,412.6 402.6,413.8 403.5,411.7 404.3,412.7 405.1,412 405.9,412.5 406.8,411.4 407.6,412.1 408.4,412.7 409.3,412.4 410.1,411.7 410.9,411.2 411.7,411.1 412.6,409.8 413.4,410.7 414.1,410.7 414.9,409.9 415.6,410.2 416.4,409.3 417.1,409 417.9,408.4 418.6,409 419.3,408.7 420.1,408.4 420.8,407 421.6,408.1 422.3,407.6 423.1,407.3 423.9,406.7 424.7,406.9 425.5,404.5 426.4,404.7 427.2,405.4 428,404.2 428.8,402.6 429.6,402.7 430.4,403.3 431.2,401.4 432,402.1 432.8,400 433.7,401.6 434.5,400 435.3,399 436.1,400 436.9,398.9 437.7,399.5 438.5,398.9 439.3,398.5 440.1,397.5 441,398.4 441.8,395.8 442.6,397.4 443.4,396.7 444.2,395.7 445,395.6 445.8,393.7 446.6,392.8 447.4,392.6 448.3,389.9 449.1,389 449.9,388.9 450.7,386.4 451.5,386.4 452.3,386.2 453.1,384.6 453.9,383.1 454.7,383.6 455.6,382.8 456.4,381.7 457.2,380.3 458,380.3 458.8,378.6 459.6,376.8 460.4,376.6 461.2,375.2 462,374.4 462.9,374.4 463.7,374.9 464.5,374.1 465.3,371.6 466.1,371.6 466.9,371 467.7,371.7 468.5,370.6 469.3,370.8 470.2,368.3 471,370 471.8,367.7 472.6,368.2 473.4,367.7 474.2,366.9 475.1,364.6 475.9,364.7 476.7,363.1 477.5,361 478.4,360.8 479.2,360 479.9,359.5 480.7,357.7 481.4,357.6 482.1,356.9 482.9,354.8 483.6,353.7 484.4,354.2 485.1,352.8 485.9,351.1 486.8,350.2 487.6,351.4 488.4,349.7 489.2,348.3 490.1,347.1 490.9,347.4 491.6,346.5 492.4,345.7 493.1,343.9 493.9,342.9 494.6,342.2 495.3,340.7 496.1,340.9 496.8,339.6 497.6,339.5 498.4,337.6 499.2,336.8 500,336 500.7,335 501.5,331.4 502.2,330.2 502.9,327 503.7,325.7 504.4,323.2 505.2,322.8 506.1,320 506.9,319.9 507.7,318 508.5,316 509.4,315.7 510.2,313.1 510.9,314.3 511.7,314.4 512.4,314.5 513.1,314.1 513.9,315.4 514.6,315.9 515.3,316.7 516.1,318.7 516.8,317.8 517.5,319.5 518.3,320.2 519,320.3 519.7,319.8 520.5,318.7 521.2,320 521.9,318 522.7,317.9 523.4,317.5 524.2,318.8 525.1,319.3 525.9,319.1 526.7,319.4 527.5,318.7 528.4,321 529.2,320.2 530.1,315.8 531,311.4 531.9,307.9 532.8,303.1 533.5,300.6 534.3,299.9 535,298 535.8,293.7 536.5,292.9 537.5,294.7 538.4,296.3 539.4,298.6 540.1,300.6 540.9,303.9 541.6,306 542.6,305.1 543.5,303.2 544.5,300.5 545.2,299.4 546,299.9 546.7,299 547.4,298.6 548.2,298.9 548.9,296.9 549.6,295 550.4,292.8 551.1,291.4 551.9,288.3 552.6,287.3 553.6,280.9 554.5,275.9 555.5,270.6 556.2,269.7 557,269.5 557.7,267 558.4,266.2 559.2,266.3 559.9,265.1 560.8,263.5 561.6,260.3 562.5,259.6 563.3,257.4 564.2,255 565,256.1 565.7,259.1 566.5,260.2 567.2,263.9 568.2,271.2 569.3,277 570,273 570.8,271.2 571.5,269.1 572.3,266.5 573.3,261.7 574.2,259.4 575.2,254.7 575.9,251.4 576.7,247.1 577.4,244.6 578.1,240.8 578.9,237.7 579.6,235.8 580.5,234.2 581.4,234.3 582.3,232 583.2,231.4 583.9,231.1 584.7,232.3 585.4,233.5 586.1,234.5 586.9,235 587.6,236.1 588.6,233.4 589.5,233.8 590.5,231.3 591.9,220.7 592.7,216.2 593.4,211.7 594.2,207.9 595,204.3 595.7,200.3 596.5,194.8 597.4,187.6 598.3,181.9 599.2,176.8 600.1,175.7 601.1,174.1 602,171.9 602.8,172.3 603.5,171.3 604.2,171.6 605,172.2 605.8,174 606.5,173.1 607.4,177.5 608.4,179.2 609.3,183.8 610.2,187.8 611.1,193.1 612,198.2 612.9,197.1 613.8,193.2 614.7,191.2 615.6,186.1 616.6,181.2 617.5,175.1 618.4,177.7 619.3,180.3 620.2,192.2 621.1,202.1 621.8,211.7 622.6,222.7 623.3,231.4 624.1,241.6 624.8,251.8 625.7,256.7 626.6,261.3 627.5,266.4 628.4,270 629.4,272.7 630.3,277.6 631.2,282.7 632.1,290.3 633,296.7 633.9,302.9 634.8,294.1 635.7,286.3 636.7,274.4 637.6,262.7 638.5,251.8 639.4,240.3 640.3,230.2 641.2,224.1 642.1,221.1 643,220.2 643.9,218.9 644.8,212.9 645.8,209.7 646.7,205.2 647.6,209.7 648.5,215.5 649.4,220.3 650.5,227.2 651.5,235.1 652.3,240.7 653.1,245.9 654,251 654.9,256 655.8,261.2 656.7,258.7 657.6,257.6 658.5,257.2 659.5,263.2 660.4,270.3 661.3,280.3 662.2,291.7 663.1,301.1 664,287.3 664.9,274.8 665.8,260.7 666.7,257.9 667.7,253.3 668.6,248.1 669.5,237.3" fill="none" stroke="#ec1c24" stroke-width="3.3" stroke-linejoin="round"/>
<path d="M136,736.2 136.5,733.5 137,743.3 137.5,714.3 138,732.7 138.4,715.8 138.9,737.2 139.4,761.4 139.9,742.3 140.4,730 140.9,737.9 141.4,731.8 141.9,755.2 142.3,747.1 142.8,739.9 143.3,729.4 143.8,718.7 144.3,738.1 144.8,742.9 145.3,754.6 145.8,736.2 146.2,745.9 146.7,753 147.2,761.6 147.7,714.7 148.2,745.4 148.7,708.7 149.2,758.6 149.7,752.6 150.1,748.7 150.6,757.4 151.1,744.9 151.6,730.8 152.1,750.3 152.6,755.8 153.1,740.8 153.6,728.2 154,732.7 154.5,721.8 155,734.7 155.5,755.5 156,711.2 156.5,753.4 157,735.1 157.5,737.8 157.9,758 158.4,731.7 158.9,733.7 159.4,745.6 159.9,726 160.4,738.3 160.9,757.9 161.4,743.2 161.8,748.6 162.3,700 162.8,752.7 163.3,739.4 163.8,706.7 164.3,717.4 164.8,727.8 165.3,719 165.7,727.1 166.2,746.9 166.7,734.9 167.2,738.8 167.7,755.2 168.2,742.6 168.7,730 169.2,715.3 169.6,732.8 170.1,700.3 170.6,745.6 171.1,777.5 171.6,750.8 172.1,739.8 172.6,753.4 173.1,753.7 173.5,735.2 174,760.7 174.5,754.9 175,752.8 175.5,745.5 176,729.3 176.5,718.1 177,760.3 177.4,759.7 177.9,700.1 178.4,735.8 178.9,735 179.4,749.2 179.9,756.4 180.4,750.1 180.9,731.2 181.3,758.5 181.8,753.2 182.3,734.2 182.8,739.2 183.3,760.4 183.8,741.4 184.3,752.1 184.8,732.3 185.2,758.1 185.7,732.9 186.2,760.3 186.7,739.2 187.2,731.6 187.7,699.5 188.2,757.4 188.7,755 189.1,732.7 189.6,735 190.1,744.4 190.6,738.6 191.1,754.6 191.6,739.6 192.1,754.3 192.6,754.7 193,741.9 193.5,724.9 194,730.3 194.5,701.1 195,748 195.5,734.8 196,742.2 196.5,727.3 196.9,731.9 197.4,749.1 197.9,742.1 198.4,753.6 198.9,743.8 199.4,740.5 199.9,738.6 200.4,739.6 200.9,747.1 201.3,755.4 201.8,743.2 202.3,752.8 202.8,729.5 203.3,728.3 203.8,728.6 204.3,752.2 204.8,731.8 205.2,748.6 205.7,755.9 206.2,734.2 206.7,740.2 207.2,759.7 207.7,732.8 208.2,744.7 208.7,734.6 209.1,752.3 209.6,712.2 210.1,718 210.6,731.9 211.1,755.9 211.6,733.9 212.1,732 212.6,739.6 213,744.6 213.5,757.6 214,735.7 214.5,749.5 215,733.8 215.5,710.9 216,704.8 216.5,733.8 216.9,733.2 217.4,745.9 217.9,749.1 218.4,739.9 218.9,748.3 219.4,734.8 219.9,704.5 220.4,741.3 220.8,755.7 221.3,747 221.8,741.7 222.3,720.6 222.8,747.4 223.3,744.4 223.8,731.8 224.3,741.9 224.7,754.4 225.2,743.4 225.7,758.4 226.2,753.3 226.7,746.8 227.2,737.4 227.7,719.8 228.2,734.5 228.6,728.9 229.1,754.4 229.6,735.4 230.1,735.8 230.6,731.4 231.1,734.8 231.6,757.8 232.1,734.3 232.5,736.4 233,726.4 233.5,741.7 234,732.9 234.5,726.6 235,729.4 235.5,728 236,716.3 236.4,744.2 236.9,748.6 237.4,756 237.9,738.5 238.4,733.1 238.9,749.2 239.4,705.4 239.9,752.5 240.3,733.5 240.8,745.3 241.3,754.9 241.8,747.8 242.3,750.8 242.8,736 243.3,721.9 243.8,704.6 244.2,747.7 244.7,742.9 245.2,704.5 245.7,743.7 246.2,728.4 246.7,734.1 247.2,716.3 247.7,749.5 248.1,741.6 248.6,741.2 249.1,750.6 249.6,746.9 250.1,719.9 250.6,736.8 251.1,727.9 251.6,718.5 252,750 252.5,745.4 253,744.2 253.5,705.5 254,759.6 254.5,716.3 255,744.4 255.5,737 255.9,737.1 256.4,735.1 256.9,760.7 257.4,756.8 257.9,759.1 258.4,739.1 258.9,747.4 259.4,729.5 259.9,742.3 260.3,743.8 260.8,759.3 261.3,713.3 261.8,702 262.3,761.3 262.8,744.9 263.3,763.7 263.8,743.8 264.2,740.6 264.7,726.3 265.2,759.1 265.7,738.2 266.2,735.1 266.7,757.4 267.2,752.5 267.7,755 268.1,743.7 268.6,728.7 269.1,740.6 269.6,746.4 270.1,728.9 270.6,731.5 271.1,738.3 271.6,750.3 272,736.7 272.5,738.4 273,741.6 273.5,735.2 274,757.3 274.5,737.7 275,760.5 275.5,735.9 275.9,734.6 276.4,734.7 276.9,739.7 277.4,757.8 277.9,744.4 278.4,747.7 278.9,742.6 279.4,770.4 279.8,747.7 280.3,758.1 280.8,741.5 281.3,745.3 281.8,761.1 282.3,758.9 282.8,731 283.3,747.8 283.7,734.6 284.2,760.6 284.7,758.6 285.2,741.8 285.7,729 286.2,761.2 286.7,753.1 287.2,747.9 287.6,736.5 288.1,741.9 288.6,753.3 289.1,739.2 289.6,753.2 290.1,739 290.6,722.6 291.1,742.1 291.5,736.4 292,748.6 292.5,753.5 293,749 293.5,742.9 294,755.1 294.5,736.9 295,754.3 295.4,743.3 295.9,761 296.4,737.5 296.9,747.7 297.4,741.9 297.9,756.2 298.4,742.2 298.9,745.1 299.3,743 299.8,756.9 300.3,761.9 300.8,742 301.3,748 301.8,761.8 302.3,747.4 302.8,762.5 303.2,738.6 303.7,727 304.2,756.3 304.7,761.4 305.2,741.8 305.7,756.1 306.2,720.9 306.7,744.6 307.1,735.6 307.6,744.2 308.1,737.9 308.6,739.6 309.1,755.2 309.6,744.8 310.1,721.6 310.6,738.2 311,756.5 311.5,722.7 312,734.6 312.5,763.6 313,753.7 313.5,743.7 314,760.3 314.5,742.9 314.9,745 315.4,737.5 315.9,761.7 316.4,762.8 316.9,731.7 317.4,763.7 317.9,745.7 318.4,752 318.8,744 319.3,758.4 319.8,759.4 320.3,748 320.8,748.9 321.3,741.8 321.8,759.3 322.3,741.6 322.8,726.8 323.2,763 323.7,747.1 324.2,735.8 324.7,751.9 325.2,751.1 325.7,757.6 326.2,761.7 326.7,742.4 327.1,746.2 327.6,747.4 328.1,742 328.6,742.3 329.1,757.8 329.6,742.6 330.1,759 330.6,738.7 331,749.1 331.5,734.6 332,753 332.5,755.6 333,710 333.5,758 334,757.6 334.5,756.8 334.9,742.1 335.4,760.7 335.9,723.3 336.4,747.8 336.9,744.5 337.4,755.4 337.9,745.8 338.4,732.1 338.8,749.2 339.3,761.6 339.8,742.6 340.3,730.6 340.8,742.8 341.3,757.9 341.8,746.8 342.3,763.5 342.7,753.1 343.2,748.7 343.7,763.1 344.2,742.2 344.7,742 345.2,716.7 345.7,746.9 346.2,748.3 346.6,736.8 347.1,752.7 347.6,738.3 348.1,745.3 348.6,739.2 349.1,748.5 349.6,737.6 350.1,755 350.5,739.1 351,757.9 351.5,745.9 352,713 352.5,749.1 353,737.3 353.5,738.9 354,754.9 354.4,737.9 354.9,743.5 355.4,743.1 355.9,739.6 356.4,756.2 356.9,719.9 357.4,714.6 357.9,747.3 358.3,741.1 358.8,748.2 359.3,750.1 359.8,744.5 360.3,719 360.8,753.1 361.3,745.7 361.8,746.6 362.2,730.1 362.7,724.8 363.2,721.9 363.7,757.3 364.2,739.7 364.7,748.6 365.2,743.1 365.7,765.6 366.1,761.4 366.6,765.9 367.1,765.3 367.6,745.1 368.1,764.6 368.6,731.6 369.1,763.6 369.6,761.4 370,753.4 370.5,745.8 371,753.2 371.5,741.2 372,744.3 372.5,757.4 373,744.3 373.5,742.9 373.9,756.2 374.4,762.2 374.9,754.6 375.4,742.2 375.9,755.2 376.4,759 376.9,763.4 377.4,746.8 377.8,748.3 378.3,755.4 378.8,717.9 379.3,760.6 379.8,752.1 380.3,735.1 380.8,729.6 381.3,748 381.8,738.4 382.2,751.8 382.7,732.9 383.2,726.5 383.7,751.1 384.2,752.3 384.7,740.3 385.2,743.4 385.7,740 386.1,759.9 386.6,748.3 387.1,738.6 387.6,752.7 388.1,754.8 388.6,762.2 389.1,744.9 389.6,739.8 390,749.2 390.5,740.6 391,739.6 391.5,763.3 392,744.8 392.5,752.7 393,760.7 393.5,748.1 393.9,741.6 394.4,760.3 394.9,740.7 395.4,759.4 395.9,759.5 396.4,746.7 396.9,734.3 397.4,760.5 397.8,763.3 398.3,749.1 398.8,753.8 399.3,756.4 399.8,759.7 400.3,749.3 400.8,744.5 401.3,750.2 401.7,768.2 402.2,752.6 402.7,752.5 403.2,766.8 403.7,761 404.2,767.6 404.7,763.5 405.2,763.2 405.6,759.1 406.1,747.9 406.6,755.2 407.1,719.2 407.6,768.2 408.1,741.7 408.6,734.6 409.1,755.4 409.5,739.6 410,747.2 410.5,758.9 411,740.3 411.5,762.1 412,742.2 412.5,742.8 413,722 413.4,761.7 413.9,748.5 414.4,737.3 414.9,750 415.4,742.7 415.9,749.3 416.4,751.4 416.9,766.2 417.3,763.1 417.8,742.2 418.3,751.9 418.8,749.1 419.3,753.4 419.8,760.9 420.3,720.8 420.8,732 421.2,737.9 421.7,749.8 422.2,741.8 422.7,745.8 423.2,743.6 423.7,744.2 424.2,754.6 424.7,739.8 425.1,739 425.6,754.4 426.1,752.6 426.6,746.9 427.1,759.1 427.6,717.6 428.1,743.3 428.6,749.2 429,758.8 429.5,748.2 430,755.5 430.5,752.8 431,744.8 431.5,757.7 432,755.2 432.5,747.6 432.9,751 433.4,748.1 433.9,742.4 434.4,744 434.9,757.5 435.4,740.3 435.9,744.5 436.4,740.4 436.8,741.1 437.3,754.6 437.8,716 438.3,761.1 438.8,755.1 439.3,741.9 439.8,739.9 440.3,747.2 440.7,727.8 441.2,750.5 441.7,749.9 442.2,753.6 442.7,757.2 443.2,715 443.7,757.6 444.2,744.6 444.7,760.9 445.1,756.5 445.6,756.1 446.1,750.7 446.6,755.2 447.1,729.5 447.6,755.7 448.1,750.8 448.6,755.9 449,757.5 449.5,745.4 450,760.3 450.5,753.2 451,742 451.5,745 452,764.3 452.5,743.3 452.9,754 453.4,753 453.9,760.5 454.4,749.8 454.9,744.5 455.4,748.7 455.9,741.7 456.4,747.2 456.8,730.6 457.3,727.8 457.8,746.7 458.3,743.6 458.8,761.3 459.3,743.3 459.8,747.5 460.3,740.9 460.7,757.6 461.2,749 461.7,742.9 462.2,745.9 462.7,757.2 463.2,748.4 463.7,750.3 464.2,757.3 464.6,757.7 465.1,746 465.6,747.2 466.1,736.8 466.6,743.7 467.1,744.3 467.6,747.4 468.1,753.2 468.5,759.9 469,738.5 469.5,759.5 470,740.6 470.5,752.9 471,764.6 471.5,743.5 472,732.2 472.4,745.8 472.9,759.6 473.4,741.3 473.9,752.1 474.4,753.5 474.9,756.3 475.4,741.6 475.9,749.6 476.3,747.2 476.8,750 477.3,742 477.8,748.3 478.3,725 478.8,748.3 479.3,757.3 479.8,718.1 480.2,752.5 480.7,745.4 481.2,759.9 481.7,722.2 482.2,722.8 482.7,744.8 483.2,749.3 483.7,759 484.1,721.3 484.6,758.3 485.1,748.8 485.6,756.1 486.1,747.9 486.6,750.8 487.1,744.5 487.6,747.3 488,744.1 488.5,761.5 489,757.1 489.5,745.6 490,752.4 490.5,757.3 491,722.5 491.5,739.5 491.9,738.6 492.4,761 492.9,754.6 493.4,760.8 493.9,753.7 494.4,755.7 494.9,755.5 495.4,755.3 495.8,757.9 496.3,733.6 496.8,762 497.3,748.8 497.8,759.2 498.3,746.5 498.8,750.6 499.3,750.9 499.7,763.3 500.2,727.6 500.7,723.1 501.2,751.1 501.7,730.5 502.2,763.7 502.7,749.5 503.2,724.9 503.7,739.1 504.1,723.5 504.6,740.3 505.1,741 505.6,722 506.1,742 506.6,720.7 507.1,755.1 507.6,723.4 508,760.2 508.5,761.2 509,738.2 509.5,723.8 510,730.3 510.5,759.8 511,740.6 511.5,753.5 511.9,756.2 512.4,759.4 512.9,755.9 513.4,750.5 513.9,759.5 514.4,759.4 514.9,747.4 515.4,720.1 515.8,748.4 516.3,764 516.8,754.8 517.3,750.6 517.8,749.3 518.3,754.7 518.8,759.7 519.3,740.1 519.7,750.3 520.2,759.8 520.7,741 521.2,759.7 521.7,754 522.2,761.1 522.7,757.4 523.2,749.6 523.6,729.2 524.1,760.5 524.6,748.5 525.1,759.9 525.6,749 526.1,762.7 526.6,756 527.1,728.1 527.5,759.4 528,766.9 528.5,756.9 529,749.8 529.5,749.3 530,753.3 530.5,753.8 531,747.2 531.4,722.5 531.9,728.6 532.4,756.5 532.9,754.2 533.4,768.4 533.9,752.7 534.4,747 534.9,698.9 535.3,759.2 535.8,764.1 536.3,741.9 536.8,745.7 537.3,738.4 537.8,753.3 538.3,764.7 538.8,730 539.2,723.9 539.7,759.6 540.2,760.7 540.7,755.7 541.2,768.4 541.7,750.6 542.2,738.2 542.7,767 543.1,746.1 543.6,761.8 544.1,768.1 544.6,738.8 545.1,759.7 545.6,757.1 546.1,744.9 546.6,748.1 547,753 547.5,746.8 548,757.1 548.5,725.3 549,721.4 549.5,761.4 550,743.8 550.5,742.7 550.9,760.4 551.4,750.8 551.9,759.4 552.4,754.4 552.9,744.4 553.4,723.5 553.9,759.4 554.4,748.2 554.8,744.6 555.3,746 555.8,749.7 556.3,759.7 556.8,718 557.3,754.3 557.8,750 558.3,745.1 558.7,748 559.2,763.7 559.7,742.5 560.2,762.1 560.7,725.5 561.2,741.7 561.7,749.8 562.2,741.8 562.6,754.6 563.1,752.4 563.6,747.1 564.1,745 564.6,760 565.1,745.8 565.6,736.6 566.1,746.8 566.6,754.5 567,758.8 567.5,743.6 568,722.7 568.5,739.4 569,745.9 569.5,758.5 570,737.9 570.5,749.1 570.9,744 571.4,757.7 571.9,741.6 572.4,752 572.9,725.8 573.4,740.6 573.9,757.5 574.4,745.5 574.8,747 575.3,739.3 575.8,761 576.3,750.3 576.8,750.9 577.3,717.8 577.8,740.3 578.3,757.7 578.7,733.5 579.2,738.1 579.7,751.6 580.2,754.6 580.7,719 581.2,732.6 581.7,744 582.2,747 582.6,751.5 583.1,740.6 583.6,755.2 584.1,757.2 584.6,746.6 585.1,757.9 585.6,747.4 586.1,757.2 586.5,744.7 587,750.1 587.5,759.9 588,760.8 588.5,742.8 589,765.6 589.5,748.7 590,758.5 590.4,756.2 590.9,732.9 591.4,772.9 591.9,766.5 592.4,763.5 592.9,765.5 593.4,729.7 593.9,751 594.3,767.3 594.8,751 595.3,755.8 595.8,752.5 596.3,761.6 596.8,760.5 597.3,758.6 597.8,757.5 598.2,749.7 598.7,749.1 599.2,755.7 599.7,751.3 600.2,732.2 600.7,758.4 601.2,748.6 601.7,754.5 602.1,757.6 602.6,749.6 603.1,746.9 603.6,750.5 604.1,741 604.6,761.9 605.1,754.3 605.6,747.5 606,747.8 606.5,744.4 607,721.6 607.5,730.6 608,743 608.5,764.1 609,744 609.5,748.9 609.9,755.5 610.4,760.5 610.9,758.5 611.4,759 611.9,759.6 612.4,762.9 612.9,761.8 613.4,723.3 613.8,764.2 614.3,750.7 614.8,762.1 615.3,749.9 615.8,751.9 616.3,747.9 616.8,754.5 617.3,748.7 617.7,762 618.2,751.9 618.7,748.4 619.2,755.2 619.7,743 620.2,748.9 620.7,761.8 621.2,745.8 621.6,763.5 622.1,737.1 622.6,763.6 623.1,753.9 623.6,753.3 624.1,757.5 624.6,749.2 625.1,749 625.6,757.2 626,742.6 626.5,750.3 627,754.8 627.5,764.9 628,751.9 628.5,766.3 629,754.8 629.5,746.1 629.9,766.9 630.4,755.5 630.9,723.4 631.4,768.2 631.9,754 632.4,750.9 632.9,756.4 633.4,748.2 633.8,758.8 634.3,768.6 634.8,744.2 635.3,762.9 635.8,760.1 636.3,733.9 636.8,758.9 637.3,754.3 637.7,748.1 638.2,754.6 638.7,755.5 639.2,743.8 639.7,760 640.2,736.2 640.7,761.6 641.2,761.1 641.6,737.6 642.1,758.4 642.6,744.3 643.1,742.2 643.6,754.3 644.1,750.7 644.6,740.4 645.1,753.6 645.5,749.8 646,744.8 646.5,717.9 647,761.3 647.5,746.2 648,763.3 648.5,763.4 649,749.6 649.4,746 649.9,763.5 650.4,762.1 650.9,747 651.4,748.1 651.9,751.5 652.4,747.5 652.9,755 653.3,747 653.8,766.8 654.3,751.8 654.8,752.7 655.3,746.2 655.8,753.9 656.3,763 656.8,736.8 657.2,755.7 657.7,764.7 658.2,752.7 658.7,753.1 659.2,748.5 659.7,755.9 660.2,754.5 660.7,760.9 661.1,765.9 661.6,752.1 662.1,758.1 662.6,764.6 663.1,754.8 663.6,748 664.1,750.4 664.6,754.5 665,749.3 665.5,732.6 666,755.3 666.5,724.1 667,745.1 667.5,728.5 668,755.7 668.5,747.6 668.5,916.7 668,954.5 667.5,955.3 667,952.3 666.5,910.3 666,952.9 665.5,949.9 665,934.6 664.6,917.1 664.1,934.5 663.6,952.7 663.1,939 662.6,933 662.1,941.4 661.6,921.2 661.1,949.9 660.7,924.5 660.2,952.6 659.7,917.6 659.2,942.1 658.7,925.2 658.2,973.9 657.7,930.4 657.2,977.5 656.8,954.2 656.3,945.3 655.8,931.2 655.3,924.9 654.8,954.9 654.3,937.4 653.8,979.6 653.3,940.4 652.9,928.4 652.4,953.3 651.9,952.2 651.4,925.9 650.9,946.3 650.4,930.6 649.9,958.7 649.4,918.7 649,895.6 648.5,918.1 648,915.9 647.5,939.3 647,920.2 646.5,973.6 646,932.6 645.5,936.2 645.1,910.8 644.6,940 644.1,919.1 643.6,918.6 643.1,910.1 642.6,920.1 642.1,914.8 641.6,934.9 641.2,944.1 640.7,940.9 640.2,933.9 639.7,928.7 639.2,952.1 638.7,917.6 638.2,965.8 637.7,912.5 637.3,935 636.8,938.7 636.3,924.9 635.8,901.5 635.3,934.1 634.8,916.6 634.3,913.3 633.8,906.5 633.4,932 632.9,936.6 632.4,908.2 631.9,957.3 631.4,932.4 630.9,900.1 630.4,920.4 629.9,903 629.5,925.9 629,922.3 628.5,914.6 628,890.4 627.5,893.7 627,896 626.5,910.5 626,888.5 625.6,924.8 625.1,885.6 624.6,908.8 624.1,883.3 623.6,884.7 623.1,884.4 622.6,935.4 622.1,891.9 621.6,897.6 621.2,912.7 620.7,882.7 620.2,903 619.7,884.7 619.2,912.5 618.7,895.7 618.2,906.4 617.7,896.6 617.3,888.2 616.8,889.5 616.3,919.1 615.8,907.3 615.3,905.8 614.8,928.4 614.3,889.6 613.8,911.8 613.4,928.8 612.9,886.7 612.4,885.5 611.9,959 611.4,908.2 610.9,905.3 610.4,906.6 609.9,887.1 609.5,902.2 609,887.6 608.5,899.7 608,899.9 607.5,926.5 607,901.4 606.5,891.9 606,886.1 605.6,881.8 605.1,884 604.6,921.9 604.1,884.2 603.6,900.1 603.1,881.4 602.6,877.6 602.1,896.7 601.7,893.2 601.2,905.5 600.7,886.4 600.2,874.8 599.7,878.2 599.2,889.9 598.7,908.2 598.2,898.6 597.8,873.5 597.3,877.7 596.8,880.4 596.3,870 595.8,898 595.3,893 594.8,899.8 594.3,898.9 593.9,868.1 593.4,904.8 592.9,871.6 592.4,889.8 591.9,882.3 591.4,872.8 590.9,886.2 590.4,891.3 590,882.3 589.5,887.8 589,891.3 588.5,906 588,879.3 587.5,878.5 587,876.8 586.5,892.6 586.1,870.3 585.6,879.1 585.1,869.5 584.6,874.2 584.1,871.7 583.6,885.2 583.1,886.3 582.6,889.6 582.2,875.8 581.7,888.5 581.2,868.5 580.7,885.4 580.2,875.9 579.7,875.1 579.2,856.7 578.7,872.1 578.3,869.8 577.8,855.1 577.3,865.7 576.8,858.2 576.3,869.5 575.8,866.7 575.3,854.9 574.8,877.4 574.4,874.2 573.9,886 573.4,869 572.9,877.1 572.4,871.2 571.9,880.1 571.4,890.4 570.9,899.7 570.5,869.9 570,866.3 569.5,880.2 569,880.5 568.5,869.6 568,887.8 567.5,878.6 567,869.2 566.6,859.5 566.1,858.1 565.6,857.8 565.1,867.1 564.6,859.3 564.1,852.7 563.6,856.1 563.1,852.5 562.6,859.9 562.2,859.3 561.7,857.2 561.2,875.5 560.7,871.8 560.2,867.2 559.7,864.6 559.2,865.4 558.7,892.7 558.3,870 557.8,876.3 557.3,872.1 556.8,858 556.3,849.4 555.8,875.4 555.3,859.6 554.8,874.9 554.4,873.6 553.9,875.4 553.4,856.8 552.9,867 552.4,858.3 551.9,884.2 551.4,864.2 550.9,852.5 550.5,862.9 550,854.5 549.5,866.5 549,882.3 548.5,867.6 548,879.2 547.5,855.3 547,853.9 546.6,887 546.1,868.4 545.6,868.2 545.1,875.8 544.6,860.1 544.1,876.6 543.6,849.5 543.1,851.6 542.7,872.2 542.2,861.7 541.7,848.3 541.2,846.2 540.7,863.8 540.2,846.3 539.7,855.5 539.2,853.1 538.8,849.8 538.3,849.9 537.8,853.3 537.3,872.4 536.8,856.3 536.3,850.3 535.8,847.8 535.3,852.7 534.9,916.3 534.4,845.9 533.9,856.6 533.4,880.8 532.9,846.2 532.4,856.9 531.9,856.1 531.4,867.5 531,846.2 530.5,857 530,843.6 529.5,838.8 529,845.2 528.5,839.4 528,847 527.5,865.3 527.1,840.9 526.6,842.7 526.1,867.2 525.6,839.3 525.1,832.7 524.6,842.1 524.1,848.2 523.6,847.7 523.2,855.5 522.7,838.6 522.2,834.4 521.7,839.1 521.2,849.9 520.7,848.5 520.2,837.3 519.7,849.2 519.3,833.9 518.8,840 518.3,835.8 517.8,849.2 517.3,843.2 516.8,846.3 516.3,846.3 515.8,856 515.4,843 514.9,841.9 514.4,837.3 513.9,852.4 513.4,851.9 512.9,842 512.4,854.1 511.9,834.9 511.5,839.8 511,850.7 510.5,852.3 510,854.3 509.5,863.6 509,840.5 508.5,839.9 508,848.7 507.6,853.8 507.1,852.3 506.6,866.1 506.1,849 505.6,853.7 505.1,850.4 504.6,849.3 504.1,844.8 503.7,848.3 503.2,863.5 502.7,838.8 502.2,861 501.7,843.5 501.2,847.4 500.7,843.4 500.2,860 499.7,843.3 499.3,853 498.8,842.9 498.3,844.3 497.8,841.5 497.3,855.6 496.8,837.2 496.3,835.6 495.8,865.7 495.4,834.9 494.9,845.3 494.4,842.5 493.9,843.1 493.4,830.6 492.9,865 492.4,841.7 491.9,848.2 491.5,846.2 491,832.9 490.5,831.2 490,836.7 489.5,845.2 489,846.1 488.5,858.8 488,832.5 487.6,857.2 487.1,848.1 486.6,850 486.1,840.5 485.6,853.5 485.1,833.1 484.6,851.6 484.1,841.7 483.7,845.4 483.2,846.6 482.7,839.4 482.2,818.5 481.7,839.7 481.2,843.7 480.7,839.5 480.2,832.1 479.8,831.4 479.3,849 478.8,833.6 478.3,839.9 477.8,858.1 477.3,842 476.8,831.9 476.3,849.1 475.9,833 475.4,860.8 474.9,837.7 474.4,853.5 473.9,852.6 473.4,858.7 472.9,873.8 472.4,843.5 472,849.2 471.5,840.2 471,855.6 470.5,854.6 470,858.3 469.5,862 469,837.2 468.5,851.8 468.1,841.1 467.6,833.5 467.1,853.6 466.6,834.7 466.1,836.5 465.6,846.2 465.1,825.2 464.6,846 464.2,850.7 463.7,847.3 463.2,846.9 462.7,838.1 462.2,848.6 461.7,843.8 461.2,851.3 460.7,842.3 460.3,841.1 459.8,847.7 459.3,853.3 458.8,841.7 458.3,840.5 457.8,846.2 457.3,856.5 456.8,857.5 456.4,850.9 455.9,846.2 455.4,869.2 454.9,845.3 454.4,835.8 453.9,835.1 453.4,851.5 452.9,837.6 452.5,837.3 452,839.4 451.5,845.7 451,834.1 450.5,832.5 450,843.8 449.5,832.8 449,863.9 448.6,838.5 448.1,832.9 447.6,839.1 447.1,852.4 446.6,833 446.1,835.5 445.6,862.7 445.1,836.7 444.7,846 444.2,833.5 443.7,844.7 443.2,846.9 442.7,850.4 442.2,847.5 441.7,834.7 441.2,848.8 440.7,838 440.3,841.2 439.8,847.3 439.3,844.1 438.8,834.9 438.3,836.6 437.8,848.3 437.3,845.4 436.8,838 436.4,851.4 435.9,841.6 435.4,854.8 434.9,851.6 434.4,849 433.9,849.8 433.4,839 432.9,845.9 432.5,868.1 432,843.3 431.5,858.5 431,872.7 430.5,855.3 430,852.3 429.5,850.1 429,846.3 428.6,854.1 428.1,849.4 427.6,852.8 427.1,842.7 426.6,848.6 426.1,843.8 425.6,837.8 425.1,853 424.7,858.4 424.2,840.8 423.7,835.3 423.2,837.5 422.7,851.1 422.2,839 421.7,832.1 421.2,834.5 420.8,834.4 420.3,841.7 419.8,838.2 419.3,848.2 418.8,834.4 418.3,845.4 417.8,851 417.3,845.1 416.9,844.5 416.4,839.8 415.9,837.1 415.4,836.8 414.9,846.4 414.4,831.9 413.9,843 413.4,849.2 413,857.4 412.5,846.2 412,849 411.5,839.9 411,844.6 410.5,831.8 410,838 409.5,849.1 409.1,841.2 408.6,843.4 408.1,837.8 407.6,839.4 407.1,831.7 406.6,848.2 406.1,837.5 405.6,858.6 405.2,836.6 404.7,845.7 404.2,853.5 403.7,839.6 403.2,845.6 402.7,848.7 402.2,847.9 401.7,836.7 401.3,841.1 400.8,833.7 400.3,848.9 399.8,834 399.3,832 398.8,834.4 398.3,846.2 397.8,859.3 397.4,840.5 396.9,852.5 396.4,840.3 395.9,845.8 395.4,869.1 394.9,828.9 394.4,853.2 393.9,849.1 393.5,854.1 393,838.6 392.5,853.7 392,850.6 391.5,852.5 391,850.8 390.5,854.8 390,840.7 389.6,839.8 389.1,853.1 388.6,870.8 388.1,855.5 387.6,855.9 387.1,854 386.6,853 386.1,848 385.7,852.9 385.2,854.3 384.7,852.4 384.2,850.5 383.7,854.9 383.2,866.8 382.7,850.8 382.2,847.2 381.8,847.4 381.3,853.3 380.8,844.6 380.3,851 379.8,855.1 379.3,838.8 378.8,837.1 378.3,837.4 377.8,850.1 377.4,836 376.9,843.1 376.4,834.3 375.9,844.3 375.4,841.7 374.9,849.4 374.4,835.2 373.9,847.6 373.5,835.8 373,852 372.5,867 372,854.9 371.5,846.9 371,836.3 370.5,839.4 370,841.4 369.6,849.4 369.1,847.8 368.6,837.4 368.1,848.6 367.6,842.9 367.1,842.2 366.6,842.2 366.1,849.4 365.7,869.5 365.2,850.5 364.7,875.7 364.2,842.3 363.7,859.2 363.2,847.2 362.7,843.8 362.2,855.5 361.8,848.6 361.3,843.8 360.8,831.5 360.3,851.8 359.8,859.5 359.3,843.6 358.8,843.2 358.3,860.4 357.9,859.8 357.4,853.4 356.9,844.6 356.4,866.1 355.9,878.8 355.4,866.7 354.9,865.4 354.4,873.8 354,858.9 353.5,866.8 353,848.7 352.5,858.3 352,854.7 351.5,858.7 351,869.6 350.5,883.6 350.1,861.2 349.6,877.6 349.1,857.2 348.6,875.6 348.1,852.7 347.6,862.3 347.1,863.2 346.6,864.8 346.2,856.4 345.7,857.1 345.2,850.1 344.7,844 344.2,844.3 343.7,859.8 343.2,849.1 342.7,852.9 342.3,871.2 341.8,847.6 341.3,846 340.8,847.5 340.3,859.1 339.8,854.8 339.3,856.4 338.8,847.1 338.4,827.3 337.9,859.4 337.4,845.4 336.9,856 336.4,857.2 335.9,867 335.4,855 334.9,855.5 334.5,863.9 334,883.3 333.5,865.4 333,856.8 332.5,861.5 332,865 331.5,889.2 331,857.6 330.6,874.3 330.1,874.2 329.6,852.5 329.1,863.9 328.6,872.4 328.1,857.5 327.6,855.9 327.1,848.3 326.7,856.5 326.2,870.3 325.7,873.5 325.2,858.2 324.7,848.8 324.2,887.6 323.7,889.1 323.2,850.8 322.8,842.2 322.3,869.3 321.8,889.5 321.3,860.2 320.8,867.8 320.3,863.9 319.8,862.3 319.3,863.6 318.8,873.8 318.4,890.8 317.9,872 317.4,865.1 316.9,862 316.4,853.8 315.9,870.2 315.4,871.7 314.9,857.5 314.5,868.3 314,862.2 313.5,870.6 313,861 312.5,863.1 312,854.3 311.5,870.4 311,865.2 310.6,894.9 310.1,876.9 309.6,862.7 309.1,887.5 308.6,869.6 308.1,853.9 307.6,863 307.1,860 306.7,863.6 306.2,857.3 305.7,875.9 305.2,865.9 304.7,891.5 304.2,866.2 303.7,891.3 303.2,860.6 302.8,856.8 302.3,891.8 301.8,878.2 301.3,876.8 300.8,865.8 300.3,857 299.8,875.6 299.3,866.9 298.9,878.6 298.4,857.5 297.9,866.4 297.4,865 296.9,858.9 296.4,858 295.9,870.8 295.4,873.1 295,869.6 294.5,876.4 294,878.6 293.5,864.5 293,876.7 292.5,907.3 292,890.9 291.5,878.9 291.1,872.8 290.6,864.9 290.1,888 289.6,867.4 289.1,871.5 288.6,883.3 288.1,893.4 287.6,864.9 287.2,869.5 286.7,877.4 286.2,896.3 285.7,875.9 285.2,888.8 284.7,897.6 284.2,884 283.7,915.1 283.3,878.5 282.8,912.1 282.3,869.1 281.8,872.2 281.3,889.6 280.8,896.5 280.3,875.6 279.8,905.9 279.4,878.5 278.9,866 278.4,866 277.9,863.8 277.4,862.6 276.9,914 276.4,861.4 275.9,865.7 275.5,859.4 275,884.6 274.5,859.6 274,888.2 273.5,902.6 273,882.1 272.5,862.7 272,915.1 271.6,899.3 271.1,870.1 270.6,889.6 270.1,889.8 269.6,873 269.1,868.1 268.6,881.1 268.1,882.1 267.7,867.5 267.2,879.2 266.7,872.7 266.2,889.6 265.7,894.4 265.2,870 264.7,872.6 264.2,876.1 263.8,893 263.3,874.7 262.8,876.2 262.3,875.1 261.8,901.4 261.3,882.4 260.8,870.1 260.3,882.9 259.9,848.9 259.4,902.2 258.9,886.4 258.4,882.6 257.9,888.9 257.4,929 256.9,877.3 256.4,899.2 255.9,877.5 255.5,907.6 255,893.4 254.5,865.9 254,876.6 253.5,882.4 253,888.2 252.5,900.2 252,876.2 251.6,913 251.1,888.3 250.6,916.3 250.1,891.1 249.6,909.6 249.1,890.4 248.6,893.7 248.1,907 247.7,904.5 247.2,898 246.7,884.6 246.2,886.3 245.7,883.9 245.2,908.6 244.7,881.1 244.2,945 243.8,896.2 243.3,901.1 242.8,889.9 242.3,861.7 241.8,889.6 241.3,892.4 240.8,906.8 240.3,885 239.9,903.2 239.4,899.5 238.9,883.5 238.4,915.1 237.9,882.5 237.4,920.5 236.9,888.9 236.4,917.9 236,890.5 235.5,891.8 235,934.3 234.5,894.4 234,922.3 233.5,886.8 233,902.6 232.5,899.7 232.1,936.8 231.6,909.9 231.1,899.4 230.6,908.8 230.1,941 229.6,892.2 229.1,909.9 228.6,905 228.2,885.3 227.7,900.6 227.2,896.1 226.7,906.9 226.2,944 225.7,904.2 225.2,902.1 224.7,909.7 224.3,921.7 223.8,918.5 223.3,927.7 222.8,901.4 222.3,918 221.8,924.8 221.3,955.6 220.8,935.7 220.4,914.7 219.9,902.7 219.4,903.4 218.9,945.9 218.4,955 217.9,958.7 217.4,908.2 216.9,918.9 216.5,948.4 216,920.1 215.5,953.6 215,921.7 214.5,911.8 214,900.9 213.5,912.2 213,932.6 212.6,895.6 212.1,935.5 211.6,900.9 211.1,894 210.6,931.6 210.1,918.2 209.6,898.8 209.1,924.4 208.7,917.5 208.2,946.7 207.7,895.4 207.2,930.3 206.7,898.8 206.2,970.2 205.7,928.8 205.2,867.1 204.8,925.1 204.3,925.9 203.8,895.6 203.3,923 202.8,906.2 202.3,897.5 201.8,934.5 201.3,932.2 200.9,933 200.4,924 199.9,987.2 199.4,951 198.9,927.9 198.4,928.3 197.9,938.3 197.4,971.5 196.9,928.3 196.5,898.9 196,930.7 195.5,939.7 195,879.6 194.5,970.4 194,929 193.5,929.2 193,974.5 192.6,915.3 192.1,908.4 191.6,948.7 191.1,908.7 190.6,932.1 190.1,924.4 189.6,922 189.1,906.9 188.7,965.6 188.2,948.3 187.7,917.5 187.2,926.9 186.7,931.5 186.2,933.5 185.7,904.7 185.2,934.2 184.8,953 184.3,949.7 183.8,926.2 183.3,906.4 182.8,920.4 182.3,925.5 181.8,910.8 181.3,946 180.9,925.4 180.4,924.6 179.9,937.4 179.4,924.9 178.9,988.1 178.4,941.1 177.9,962.8 177.4,954.7 177,911.5 176.5,907 176,918.9 175.5,929.7 175,953.7 174.5,940.8 174,980.6 173.5,915.6 173.1,922.6 172.6,922.6 172.1,947.5 171.6,920.5 171.1,1008.8 170.6,912.1 170.1,949.1 169.6,913 169.2,988.4 168.7,910.2 168.2,916.1 167.7,953.5 167.2,992.7 166.7,931.5 166.2,925.3 165.7,907.2 165.3,955.3 164.8,905.7 164.3,962.4 163.8,910.5 163.3,973.3 162.8,926.5 162.3,912.8 161.8,905.5 161.4,922.5 160.9,909.1 160.4,945.9 159.9,936.9 159.4,913 158.9,934.3 158.4,922.4 157.9,911.9 157.5,920.7 157,955.6 156.5,932.5 156,917.2 155.5,942.7 155,921.1 154.5,975.4 154,917.6 153.6,938.4 153.1,933.4 152.6,985.5 152.1,944.7 151.6,953.4 151.1,984.6 150.6,928 150.1,947.8 149.7,940.4 149.2,926.5 148.7,909.4 148.2,948.4 147.7,984.6 147.2,945.4 146.7,918.3 146.2,972.3 145.8,940.2 145.3,912 144.8,991.9 144.3,928.7 143.8,933.3 143.3,947.7 142.8,953.8 142.3,976 141.9,930.4 141.4,970.7 140.9,912.8 140.4,946.8 139.9,915.7 139.4,940.5 138.9,950.7 138.4,942.9 138,928.5 137.5,981.3 137,921.3 136.5,949.3 136,945Z" fill="#e8e0d6" stroke="none"/>
<path d="M136,736.2 136.5,733.5 137,743.3 137.5,714.3 138,732.7 138.4,715.8 138.9,737.2 139.4,761.4 139.9,742.3 140.4,730 140.9,737.9 141.4,731.8 141.9,755.2 142.3,747.1 142.8,739.9 143.3,729.4 143.8,718.7 144.3,738.1 144.8,742.9 145.3,754.6 145.8,736.2 146.2,745.9 146.7,753 147.2,761.6 147.7,714.7 148.2,745.4 148.7,708.7 149.2,758.6 149.7,752.6 150.1,748.7 150.6,757.4 151.1,744.9 151.6,730.8 152.1,750.3 152.6,755.8 153.1,740.8 153.6,728.2 154,732.7 154.5,721.8 155,734.7 155.5,755.5 156,711.2 156.5,753.4 157,735.1 157.5,737.8 157.9,758 158.4,731.7 158.9,733.7 159.4,745.6 159.9,726 160.4,738.3 160.9,757.9 161.4,743.2 161.8,748.6 162.3,700 162.8,752.7 163.3,739.4 163.8,706.7 164.3,717.4 164.8,727.8 165.3,719 165.7,727.1 166.2,746.9 166.7,734.9 167.2,738.8 167.7,755.2 168.2,742.6 168.7,730 169.2,715.3 169.6,732.8 170.1,700.3 170.6,745.6 171.1,777.5 171.6,750.8 172.1,739.8 172.6,753.4 173.1,753.7 173.5,735.2 174,760.7 174.5,754.9 175,752.8 175.5,745.5 176,729.3 176.5,718.1 177,760.3 177.4,759.7 177.9,700.1 178.4,735.8 178.9,735 179.4,749.2 179.9,756.4 180.4,750.1 180.9,731.2 181.3,758.5 181.8,753.2 182.3,734.2 182.8,739.2 183.3,760.4 183.8,741.4 184.3,752.1 184.8,732.3 185.2,758.1 185.7,732.9 186.2,760.3 186.7,739.2 187.2,731.6 187.7,699.5 188.2,757.4 188.7,755 189.1,732.7 189.6,735 190.1,744.4 190.6,738.6 191.1,754.6 191.6,739.6 192.1,754.3 192.6,754.7 193,741.9 193.5,724.9 194,730.3 194.5,701.1 195,748 195.5,734.8 196,742.2 196.5,727.3 196.9,731.9 197.4,749.1 197.9,742.1 198.4,753.6 198.9,743.8 199.4,740.5 199.9,738.6 200.4,739.6 200.9,747.1 201.3,755.4 201.8,743.2 202.3,752.8 202.8,729.5 203.3,728.3 203.8,728.6 204.3,752.2 204.8,731.8 205.2,748.6 205.7,755.9 206.2,734.2 206.7,740.2 207.2,759.7 207.7,732.8 208.2,744.7 208.7,734.6 209.1,752.3 209.6,712.2 210.1,718 210.6,731.9 211.1,755.9 211.6,733.9 212.1,732 212.6,739.6 213,744.6 213.5,757.6 214,735.7 214.5,749.5 215,733.8 215.5,710.9 216,704.8 216.5,733.8 216.9,733.2 217.4,745.9 217.9,749.1 218.4,739.9 218.9,748.3 219.4,734.8 219.9,704.5 220.4,741.3 220.8,755.7 221.3,747 221.8,741.7 222.3,720.6 222.8,747.4 223.3,744.4 223.8,731.8 224.3,741.9 224.7,754.4 225.2,743.4 225.7,758.4 226.2,753.3 226.7,746.8 227.2,737.4 227.7,719.8 228.2,734.5 228.6,728.9 229.1,754.4 229.6,735.4 230.1,735.8 230.6,731.4 231.1,734.8 231.6,757.8 232.1,734.3 232.5,736.4 233,726.4 233.5,741.7 234,732.9 234.5,726.6 235,729.4 235.5,728 236,716.3 236.4,744.2 236.9,748.6 237.4,756 237.9,738.5 238.4,733.1 238.9,749.2 239.4,705.4 239.9,752.5 240.3,733.5 240.8,745.3 241.3,754.9 241.8,747.8 242.3,750.8 242.8,736 243.3,721.9 243.8,704.6 244.2,747.7 244.7,742.9 245.2,704.5 245.7,743.7 246.2,728.4 246.7,734.1 247.2,716.3 247.7,749.5 248.1,741.6 248.6,741.2 249.1,750.6 249.6,746.9 250.1,719.9 250.6,736.8 251.1,727.9 251.6,718.5 252,750 252.5,745.4 253,744.2 253.5,705.5 254,759.6 254.5,716.3 255,744.4 255.5,737 255.9,737.1 256.4,735.1 256.9,760.7 257.4,756.8 257.9,759.1 258.4,739.1 258.9,747.4 259.4,729.5 259.9,742.3 260.3,743.8 260.8,759.3 261.3,713.3 261.8,702 262.3,761.3 262.8,744.9 263.3,763.7 263.8,743.8 264.2,740.6 264.7,726.3 265.2,759.1 265.7,738.2 266.2,735.1 266.7,757.4 267.2,752.5 267.7,755 268.1,743.7 268.6,728.7 269.1,740.6 269.6,746.4 270.1,728.9 270.6,731.5 271.1,738.3 271.6,750.3 272,736.7 272.5,738.4 273,741.6 273.5,735.2 274,757.3 274.5,737.7 275,760.5 275.5,735.9 275.9,734.6 276.4,734.7 276.9,739.7 277.4,757.8 277.9,744.4 278.4,747.7 278.9,742.6 279.4,770.4 279.8,747.7 280.3,758.1 280.8,741.5 281.3,745.3 281.8,761.1 282.3,758.9 282.8,731 283.3,747.8 283.7,734.6 284.2,760.6 284.7,758.6 285.2,741.8 285.7,729 286.2,761.2 286.7,753.1 287.2,747.9 287.6,736.5 288.1,741.9 288.6,753.3 289.1,739.2 289.6,753.2 290.1,739 290.6,722.6 291.1,742.1 291.5,736.4 292,748.6 292.5,753.5 293,749 293.5,742.9 294,755.1 294.5,736.9 295,754.3 295.4,743.3 295.9,761 296.4,737.5 296.9,747.7 297.4,741.9 297.9,756.2 298.4,742.2 298.9,745.1 299.3,743 299.8,756.9 300.3,761.9 300.8,742 301.3,748 301.8,761.8 302.3,747.4 302.8,762.5 303.2,738.6 303.7,727 304.2,756.3 304.7,761.4 305.2,741.8 305.7,756.1 306.2,720.9 306.7,744.6 307.1,735.6 307.6,744.2 308.1,737.9 308.6,739.6 309.1,755.2 309.6,744.8 310.1,721.6 310.6,738.2 311,756.5 311.5,722.7 312,734.6 312.5,763.6 313,753.7 313.5,743.7 314,760.3 314.5,742.9 314.9,745 315.4,737.5 315.9,761.7 316.4,762.8 316.9,731.7 317.4,763.7 317.9,745.7 318.4,752 318.8,744 319.3,758.4 319.8,759.4 320.3,748 320.8,748.9 321.3,741.8 321.8,759.3 322.3,741.6 322.8,726.8 323.2,763 323.7,747.1 324.2,735.8 324.7,751.9 325.2,751.1 325.7,757.6 326.2,761.7 326.7,742.4 327.1,746.2 327.6,747.4 328.1,742 328.6,742.3 329.1,757.8 329.6,742.6 330.1,759 330.6,738.7 331,749.1 331.5,734.6 332,753 332.5,755.6 333,710 333.5,758 334,757.6 334.5,756.8 334.9,742.1 335.4,760.7 335.9,723.3 336.4,747.8 336.9,744.5 337.4,755.4 337.9,745.8 338.4,732.1 338.8,749.2 339.3,761.6 339.8,742.6 340.3,730.6 340.8,742.8 341.3,757.9 341.8,746.8 342.3,763.5 342.7,753.1 343.2,748.7 343.7,763.1 344.2,742.2 344.7,742 345.2,716.7 345.7,746.9 346.2,748.3 346.6,736.8 347.1,752.7 347.6,738.3 348.1,745.3 348.6,739.2 349.1,748.5 349.6,737.6 350.1,755 350.5,739.1 351,757.9 351.5,745.9 352,713 352.5,749.1 353,737.3 353.5,738.9 354,754.9 354.4,737.9 354.9,743.5 355.4,743.1 355.9,739.6 356.4,756.2 356.9,719.9 357.4,714.6 357.9,747.3 358.3,741.1 358.8,748.2 359.3,750.1 359.8,744.5 360.3,719 360.8,753.1 361.3,745.7 361.8,746.6 362.2,730.1 362.7,724.8 363.2,721.9 363.7,757.3 364.2,739.7 364.7,748.6 365.2,743.1 365.7,765.6 366.1,761.4 366.6,765.9 367.1,765.3 367.6,745.1 368.1,764.6 368.6,731.6 369.1,763.6 369.6,761.4 370,753.4 370.5,745.8 371,753.2 371.5,741.2 372,744.3 372.5,757.4 373,744.3 373.5,742.9 373.9,756.2 374.4,762.2 374.9,754.6 375.4,742.2 375.9,755.2 376.4,759 376.9,763.4 377.4,746.8 377.8,748.3 378.3,755.4 378.8,717.9 379.3,760.6 379.8,752.1 380.3,735.1 380.8,729.6 381.3,748 381.8,738.4 382.2,751.8 382.7,732.9 383.2,726.5 383.7,751.1 384.2,752.3 384.7,740.3 385.2,743.4 385.7,740 386.1,759.9 386.6,748.3 387.1,738.6 387.6,752.7 388.1,754.8 388.6,762.2 389.1,744.9 389.6,739.8 390,749.2 390.5,740.6 391,739.6 391.5,763.3 392,744.8 392.5,752.7 393,760.7 393.5,748.1 393.9,741.6 394.4,760.3 394.9,740.7 395.4,759.4 395.9,759.5 396.4,746.7 396.9,734.3 397.4,760.5 397.8,763.3 398.3,749.1 398.8,753.8 399.3,756.4 399.8,759.7 400.3,749.3 400.8,744.5 401.3,750.2 401.7,768.2 402.2,752.6 402.7,752.5 403.2,766.8 403.7,761 404.2,767.6 404.7,763.5 405.2,763.2 405.6,759.1 406.1,747.9 406.6,755.2 407.1,719.2 407.6,768.2 408.1,741.7 408.6,734.6 409.1,755.4 409.5,739.6 410,747.2 410.5,758.9 411,740.3 411.5,762.1 412,742.2 412.5,742.8 413,722 413.4,761.7 413.9,748.5 414.4,737.3 414.9,750 415.4,742.7 415.9,749.3 416.4,751.4 416.9,766.2 417.3,763.1 417.8,742.2 418.3,751.9 418.8,749.1 419.3,753.4 419.8,760.9 420.3,720.8 420.8,732 421.2,737.9 421.7,749.8 422.2,741.8 422.7,745.8 423.2,743.6 423.7,744.2 424.2,754.6 424.7,739.8 425.1,739 425.6,754.4 426.1,752.6 426.6,746.9 427.1,759.1 427.6,717.6 428.1,743.3 428.6,749.2 429,758.8 429.5,748.2 430,755.5 430.5,752.8 431,744.8 431.5,757.7 432,755.2 432.5,747.6 432.9,751 433.4,748.1 433.9,742.4 434.4,744 434.9,757.5 435.4,740.3 435.9,744.5 436.4,740.4 436.8,741.1 437.3,754.6 437.8,716 438.3,761.1 438.8,755.1 439.3,741.9 439.8,739.9 440.3,747.2 440.7,727.8 441.2,750.5 441.7,749.9 442.2,753.6 442.7,757.2 443.2,715 443.7,757.6 444.2,744.6 444.7,760.9 445.1,756.5 445.6,756.1 446.1,750.7 446.6,755.2 447.1,729.5 447.6,755.7 448.1,750.8 448.6,755.9 449,757.5 449.5,745.4 450,760.3 450.5,753.2 451,742 451.5,745 452,764.3 452.5,743.3 452.9,754 453.4,753 453.9,760.5 454.4,749.8 454.9,744.5 455.4,748.7 455.9,741.7 456.4,747.2 456.8,730.6 457.3,727.8 457.8,746.7 458.3,743.6 458.8,761.3 459.3,743.3 459.8,747.5 460.3,740.9 460.7,757.6 461.2,749 461.7,742.9 462.2,745.9 462.7,757.2 463.2,748.4 463.7,750.3 464.2,757.3 464.6,757.7 465.1,746 465.6,747.2 466.1,736.8 466.6,743.7 467.1,744.3 467.6,747.4 468.1,753.2 468.5,759.9 469,738.5 469.5,759.5 470,740.6 470.5,752.9 471,764.6 471.5,743.5 472,732.2 472.4,745.8 472.9,759.6 473.4,741.3 473.9,752.1 474.4,753.5 474.9,756.3 475.4,741.6 475.9,749.6 476.3,747.2 476.8,750 477.3,742 477.8,748.3 478.3,725 478.8,748.3 479.3,757.3 479.8,718.1 480.2,752.5 480.7,745.4 481.2,759.9 481.7,722.2 482.2,722.8 482.7,744.8 483.2,749.3 483.7,759 484.1,721.3 484.6,758.3 485.1,748.8 485.6,756.1 486.1,747.9 486.6,750.8 487.1,744.5 487.6,747.3 488,744.1 488.5,761.5 489,757.1 489.5,745.6 490,752.4 490.5,757.3 491,722.5 491.5,739.5 491.9,738.6 492.4,761 492.9,754.6 493.4,760.8 493.9,753.7 494.4,755.7 494.9,755.5 495.4,755.3 495.8,757.9 496.3,733.6 496.8,762 497.3,748.8 497.8,759.2 498.3,746.5 498.8,750.6 499.3,750.9 499.7,763.3 500.2,727.6 500.7,723.1 501.2,751.1 501.7,730.5 502.2,763.7 502.7,749.5 503.2,724.9 503.7,739.1 504.1,723.5 504.6,740.3 505.1,741 505.6,722 506.1,742 506.6,720.7 507.1,755.1 507.6,723.4 508,760.2 508.5,761.2 509,738.2 509.5,723.8 510,730.3 510.5,759.8 511,740.6 511.5,753.5 511.9,756.2 512.4,759.4 512.9,755.9 513.4,750.5 513.9,759.5 514.4,759.4 514.9,747.4 515.4,720.1 515.8,748.4 516.3,764 516.8,754.8 517.3,750.6 517.8,749.3 518.3,754.7 518.8,759.7 519.3,740.1 519.7,750.3 520.2,759.8 520.7,741 521.2,759.7 521.7,754 522.2,761.1 522.7,757.4 523.2,749.6 523.6,729.2 524.1,760.5 524.6,748.5 525.1,759.9 525.6,749 526.1,762.7 526.6,756 527.1,728.1 527.5,759.4 528,766.9 528.5,756.9 529,749.8 529.5,749.3 530,753.3 530.5,753.8 531,747.2 531.4,722.5 531.9,728.6 532.4,756.5 532.9,754.2 533.4,768.4 533.9,752.7 534.4,747 534.9,698.9 535.3,759.2 535.8,764.1 536.3,741.9 536.8,745.7 537.3,738.4 537.8,753.3 538.3,764.7 538.8,730 539.2,723.9 539.7,759.6 540.2,760.7 540.7,755.7 541.2,768.4 541.7,750.6 542.2,738.2 542.7,767 543.1,746.1 543.6,761.8 544.1,768.1 544.6,738.8 545.1,759.7 545.6,757.1 546.1,744.9 546.6,748.1 547,753 547.5,746.8 548,757.1 548.5,725.3 549,721.4 549.5,761.4 550,743.8 550.5,742.7 550.9,760.4 551.4,750.8 551.9,759.4 552.4,754.4 552.9,744.4 553.4,723.5 553.9,759.4 554.4,748.2 554.8,744.6 555.3,746 555.8,749.7 556.3,759.7 556.8,718 557.3,754.3 557.8,750 558.3,745.1 558.7,748 559.2,763.7 559.7,742.5 560.2,762.1 560.7,725.5 561.2,741.7 561.7,749.8 562.2,741.8 562.6,754.6 563.1,752.4 563.6,747.1 564.1,745 564.6,760 565.1,745.8 565.6,736.6 566.1,746.8 566.6,754.5 567,758.8 567.5,743.6 568,722.7 568.5,739.4 569,745.9 569.5,758.5 570,737.9 570.5,749.1 570.9,744 571.4,757.7 571.9,741.6 572.4,752 572.9,725.8 573.4,740.6 573.9,757.5 574.4,745.5 574.8,747 575.3,739.3 575.8,761 576.3,750.3 576.8,750.9 577.3,717.8 577.8,740.3 578.3,757.7 578.7,733.5 579.2,738.1 579.7,751.6 580.2,754.6 580.7,719 581.2,732.6 581.7,744 582.2,747 582.6,751.5 583.1,740.6 583.6,755.2 584.1,757.2 584.6,746.6 585.1,757.9 585.6,747.4 586.1,757.2 586.5,744.7 587,750.1 587.5,759.9 588,760.8 588.5,742.8 589,765.6 589.5,748.7 590,758.5 590.4,756.2 590.9,732.9 591.4,772.9 591.9,766.5 592.4,763.5 592.9,765.5 593.4,729.7 593.9,751 594.3,767.3 594.8,751 595.3,755.8 595.8,752.5 596.3,761.6 596.8,760.5 597.3,758.6 597.8,757.5 598.2,749.7 598.7,749.1 599.2,755.7 599.7,751.3 600.2,732.2 600.7,758.4 601.2,748.6 601.7,754.5 602.1,757.6 602.6,749.6 603.1,746.9 603.6,750.5 604.1,741 604.6,761.9 605.1,754.3 605.6,747.5 606,747.8 606.5,744.4 607,721.6 607.5,730.6 608,743 608.5,764.1 609,744 609.5,748.9 609.9,755.5 610.4,760.5 610.9,758.5 611.4,759 611.9,759.6 612.4,762.9 612.9,761.8 613.4,723.3 613.8,764.2 614.3,750.7 614.8,762.1 615.3,749.9 615.8,751.9 616.3,747.9 616.8,754.5 617.3,748.7 617.7,762 618.2,751.9 618.7,748.4 619.2,755.2 619.7,743 620.2,748.9 620.7,761.8 621.2,745.8 621.6,763.5 622.1,737.1 622.6,763.6 623.1,753.9 623.6,753.3 624.1,757.5 624.6,749.2 625.1,749 625.6,757.2 626,742.6 626.5,750.3 627,754.8 627.5,764.9 628,751.9 628.5,766.3 629,754.8 629.5,746.1 629.9,766.9 630.4,755.5 630.9,723.4 631.4,768.2 631.9,754 632.4,750.9 632.9,756.4 633.4,748.2 633.8,758.8 634.3,768.6 634.8,744.2 635.3,762.9 635.8,760.1 636.3,733.9 636.8,758.9 637.3,754.3 637.7,748.1 638.2,754.6 638.7,755.5 639.2,743.8 639.7,760 640.2,736.2 640.7,761.6 641.2,761.1 641.6,737.6 642.1,758.4 642.6,744.3 643.1,742.2 643.6,754.3 644.1,750.7 644.6,740.4 645.1,753.6 645.5,749.8 646,744.8 646.5,717.9 647,761.3 647.5,746.2 648,763.3 648.5,763.4 649,749.6 649.4,746 649.9,763.5 650.4,762.1 650.9,747 651.4,748.1 651.9,751.5 652.4,747.5 652.9,755 653.3,747 653.8,766.8 654.3,751.8 654.8,752.7 655.3,746.2 655.8,753.9 656.3,763 656.8,736.8 657.2,755.7 657.7,764.7 658.2,752.7 658.7,753.1 659.2,748.5 659.7,755.9 660.2,754.5 660.7,760.9 661.1,765.9 661.6,752.1 662.1,758.1 662.6,764.6 663.1,754.8 663.6,748 664.1,750.4 664.6,754.5 665,749.3 665.5,732.6 666,755.3 666.5,724.1 667,745.1 667.5,728.5 668,755.7 668.5,747.6" fill="none" stroke="#2b2118" stroke-width="1.15" stroke-linejoin="round"/>
<path d="M136,945 136.5,949.3 137,921.3 137.5,981.3 138,928.5 138.4,942.9 138.9,950.7 139.4,940.5 139.9,915.7 140.4,946.8 140.9,912.8 141.4,970.7 141.9,930.4 142.3,976 142.8,953.8 143.3,947.7 143.8,933.3 144.3,928.7 144.8,991.9 145.3,912 145.8,940.2 146.2,972.3 146.7,918.3 147.2,945.4 147.7,984.6 148.2,948.4 148.7,909.4 149.2,926.5 149.7,940.4 150.1,947.8 150.6,928 151.1,984.6 151.6,953.4 152.1,944.7 152.6,985.5 153.1,933.4 153.6,938.4 154,917.6 154.5,975.4 155,921.1 155.5,942.7 156,917.2 156.5,932.5 157,955.6 157.5,920.7 157.9,911.9 158.4,922.4 158.9,934.3 159.4,913 159.9,936.9 160.4,945.9 160.9,909.1 161.4,922.5 161.8,905.5 162.3,912.8 162.8,926.5 163.3,973.3 163.8,910.5 164.3,962.4 164.8,905.7 165.3,955.3 165.7,907.2 166.2,925.3 166.7,931.5 167.2,992.7 167.7,953.5 168.2,916.1 168.7,910.2 169.2,988.4 169.6,913 170.1,949.1 170.6,912.1 171.1,1008.8 171.6,920.5 172.1,947.5 172.6,922.6 173.1,922.6 173.5,915.6 174,980.6 174.5,940.8 175,953.7 175.5,929.7 176,918.9 176.5,907 177,911.5 177.4,954.7 177.9,962.8 178.4,941.1 178.9,988.1 179.4,924.9 179.9,937.4 180.4,924.6 180.9,925.4 181.3,946 181.8,910.8 182.3,925.5 182.8,920.4 183.3,906.4 183.8,926.2 184.3,949.7 184.8,953 185.2,934.2 185.7,904.7 186.2,933.5 186.7,931.5 187.2,926.9 187.7,917.5 188.2,948.3 188.7,965.6 189.1,906.9 189.6,922 190.1,924.4 190.6,932.1 191.1,908.7 191.6,948.7 192.1,908.4 192.6,915.3 193,974.5 193.5,929.2 194,929 194.5,970.4 195,879.6 195.5,939.7 196,930.7 196.5,898.9 196.9,928.3 197.4,971.5 197.9,938.3 198.4,928.3 198.9,927.9 199.4,951 199.9,987.2 200.4,924 200.9,933 201.3,932.2 201.8,934.5 202.3,897.5 202.8,906.2 203.3,923 203.8,895.6 204.3,925.9 204.8,925.1 205.2,867.1 205.7,928.8 206.2,970.2 206.7,898.8 207.2,930.3 207.7,895.4 208.2,946.7 208.7,917.5 209.1,924.4 209.6,898.8 210.1,918.2 210.6,931.6 211.1,894 211.6,900.9 212.1,935.5 212.6,895.6 213,932.6 213.5,912.2 214,900.9 214.5,911.8 215,921.7 215.5,953.6 216,920.1 216.5,948.4 216.9,918.9 217.4,908.2 217.9,958.7 218.4,955 218.9,945.9 219.4,903.4 219.9,902.7 220.4,914.7 220.8,935.7 221.3,955.6 221.8,924.8 222.3,918 222.8,901.4 223.3,927.7 223.8,918.5 224.3,921.7 224.7,909.7 225.2,902.1 225.7,904.2 226.2,944 226.7,906.9 227.2,896.1 227.7,900.6 228.2,885.3 228.6,905 229.1,909.9 229.6,892.2 230.1,941 230.6,908.8 231.1,899.4 231.6,909.9 232.1,936.8 232.5,899.7 233,902.6 233.5,886.8 234,922.3 234.5,894.4 235,934.3 235.5,891.8 236,890.5 236.4,917.9 236.9,888.9 237.4,920.5 237.9,882.5 238.4,915.1 238.9,883.5 239.4,899.5 239.9,903.2 240.3,885 240.8,906.8 241.3,892.4 241.8,889.6 242.3,861.7 242.8,889.9 243.3,901.1 243.8,896.2 244.2,945 244.7,881.1 245.2,908.6 245.7,883.9 246.2,886.3 246.7,884.6 247.2,898 247.7,904.5 248.1,907 248.6,893.7 249.1,890.4 249.6,909.6 250.1,891.1 250.6,916.3 251.1,888.3 251.6,913 252,876.2 252.5,900.2 253,888.2 253.5,882.4 254,876.6 254.5,865.9 255,893.4 255.5,907.6 255.9,877.5 256.4,899.2 256.9,877.3 257.4,929 257.9,888.9 258.4,882.6 258.9,886.4 259.4,902.2 259.9,848.9 260.3,882.9 260.8,870.1 261.3,882.4 261.8,901.4 262.3,875.1 262.8,876.2 263.3,874.7 263.8,893 264.2,876.1 264.7,872.6 265.2,870 265.7,894.4 266.2,889.6 266.7,872.7 267.2,879.2 267.7,867.5 268.1,882.1 268.6,881.1 269.1,868.1 269.6,873 270.1,889.8 270.6,889.6 271.1,870.1 271.6,899.3 272,915.1 272.5,862.7 273,882.1 273.5,902.6 274,888.2 274.5,859.6 275,884.6 275.5,859.4 275.9,865.7 276.4,861.4 276.9,914 277.4,862.6 277.9,863.8 278.4,866 278.9,866 279.4,878.5 279.8,905.9 280.3,875.6 280.8,896.5 281.3,889.6 281.8,872.2 282.3,869.1 282.8,912.1 283.3,878.5 283.7,915.1 284.2,884 284.7,897.6 285.2,888.8 285.7,875.9 286.2,896.3 286.7,877.4 287.2,869.5 287.6,864.9 288.1,893.4 288.6,883.3 289.1,871.5 289.6,867.4 290.1,888 290.6,864.9 291.1,872.8 291.5,878.9 292,890.9 292.5,907.3 293,876.7 293.5,864.5 294,878.6 294.5,876.4 295,869.6 295.4,873.1 295.9,870.8 296.4,858 296.9,858.9 297.4,865 297.9,866.4 298.4,857.5 298.9,878.6 299.3,866.9 299.8,875.6 300.3,857 300.8,865.8 301.3,876.8 301.8,878.2 302.3,891.8 302.8,856.8 303.2,860.6 303.7,891.3 304.2,866.2 304.7,891.5 305.2,865.9 305.7,875.9 306.2,857.3 306.7,863.6 307.1,860 307.6,863 308.1,853.9 308.6,869.6 309.1,887.5 309.6,862.7 310.1,876.9 310.6,894.9 311,865.2 311.5,870.4 312,854.3 312.5,863.1 313,861 313.5,870.6 314,862.2 314.5,868.3 314.9,857.5 315.4,871.7 315.9,870.2 316.4,853.8 316.9,862 317.4,865.1 317.9,872 318.4,890.8 318.8,873.8 319.3,863.6 319.8,862.3 320.3,863.9 320.8,867.8 321.3,860.2 321.8,889.5 322.3,869.3 322.8,842.2 323.2,850.8 323.7,889.1 324.2,887.6 324.7,848.8 325.2,858.2 325.7,873.5 326.2,870.3 326.7,856.5 327.1,848.3 327.6,855.9 328.1,857.5 328.6,872.4 329.1,863.9 329.6,852.5 330.1,874.2 330.6,874.3 331,857.6 331.5,889.2 332,865 332.5,861.5 333,856.8 333.5,865.4 334,883.3 334.5,863.9 334.9,855.5 335.4,855 335.9,867 336.4,857.2 336.9,856 337.4,845.4 337.9,859.4 338.4,827.3 338.8,847.1 339.3,856.4 339.8,854.8 340.3,859.1 340.8,847.5 341.3,846 341.8,847.6 342.3,871.2 342.7,852.9 343.2,849.1 343.7,859.8 344.2,844.3 344.7,844 345.2,850.1 345.7,857.1 346.2,856.4 346.6,864.8 347.1,863.2 347.6,862.3 348.1,852.7 348.6,875.6 349.1,857.2 349.6,877.6 350.1,861.2 350.5,883.6 351,869.6 351.5,858.7 352,854.7 352.5,858.3 353,848.7 353.5,866.8 354,858.9 354.4,873.8 354.9,865.4 355.4,866.7 355.9,878.8 356.4,866.1 356.9,844.6 357.4,853.4 357.9,859.8 358.3,860.4 358.8,843.2 359.3,843.6 359.8,859.5 360.3,851.8 360.8,831.5 361.3,843.8 361.8,848.6 362.2,855.5 362.7,843.8 363.2,847.2 363.7,859.2 364.2,842.3 364.7,875.7 365.2,850.5 365.7,869.5 366.1,849.4 366.6,842.2 367.1,842.2 367.6,842.9 368.1,848.6 368.6,837.4 369.1,847.8 369.6,849.4 370,841.4 370.5,839.4 371,836.3 371.5,846.9 372,854.9 372.5,867 373,852 373.5,835.8 373.9,847.6 374.4,835.2 374.9,849.4 375.4,841.7 375.9,844.3 376.4,834.3 376.9,843.1 377.4,836 377.8,850.1 378.3,837.4 378.8,837.1 379.3,838.8 379.8,855.1 380.3,851 380.8,844.6 381.3,853.3 381.8,847.4 382.2,847.2 382.7,850.8 383.2,866.8 383.7,854.9 384.2,850.5 384.7,852.4 385.2,854.3 385.7,852.9 386.1,848 386.6,853 387.1,854 387.6,855.9 388.1,855.5 388.6,870.8 389.1,853.1 389.6,839.8 390,840.7 390.5,854.8 391,850.8 391.5,852.5 392,850.6 392.5,853.7 393,838.6 393.5,854.1 393.9,849.1 394.4,853.2 394.9,828.9 395.4,869.1 395.9,845.8 396.4,840.3 396.9,852.5 397.4,840.5 397.8,859.3 398.3,846.2 398.8,834.4 399.3,832 399.8,834 400.3,848.9 400.8,833.7 401.3,841.1 401.7,836.7 402.2,847.9 402.7,848.7 403.2,845.6 403.7,839.6 404.2,853.5 404.7,845.7 405.2,836.6 405.6,858.6 406.1,837.5 406.6,848.2 407.1,831.7 407.6,839.4 408.1,837.8 408.6,843.4 409.1,841.2 409.5,849.1 410,838 410.5,831.8 411,844.6 411.5,839.9 412,849 412.5,846.2 413,857.4 413.4,849.2 413.9,843 414.4,831.9 414.9,846.4 415.4,836.8 415.9,837.1 416.4,839.8 416.9,844.5 417.3,845.1 417.8,851 418.3,845.4 418.8,834.4 419.3,848.2 419.8,838.2 420.3,841.7 420.8,834.4 421.2,834.5 421.7,832.1 422.2,839 422.7,851.1 423.2,837.5 423.7,835.3 424.2,840.8 424.7,858.4 425.1,853 425.6,837.8 426.1,843.8 426.6,848.6 427.1,842.7 427.6,852.8 428.1,849.4 428.6,854.1 429,846.3 429.5,850.1 430,852.3 430.5,855.3 431,872.7 431.5,858.5 432,843.3 432.5,868.1 432.9,845.9 433.4,839 433.9,849.8 434.4,849 434.9,851.6 435.4,854.8 435.9,841.6 436.4,851.4 436.8,838 437.3,845.4 437.8,848.3 438.3,836.6 438.8,834.9 439.3,844.1 439.8,847.3 440.3,841.2 440.7,838 441.2,848.8 441.7,834.7 442.2,847.5 442.7,850.4 443.2,846.9 443.7,844.7 444.2,833.5 444.7,846 445.1,836.7 445.6,862.7 446.1,835.5 446.6,833 447.1,852.4 447.6,839.1 448.1,832.9 448.6,838.5 449,863.9 449.5,832.8 450,843.8 450.5,832.5 451,834.1 451.5,845.7 452,839.4 452.5,837.3 452.9,837.6 453.4,851.5 453.9,835.1 454.4,835.8 454.9,845.3 455.4,869.2 455.9,846.2 456.4,850.9 456.8,857.5 457.3,856.5 457.8,846.2 458.3,840.5 458.8,841.7 459.3,853.3 459.8,847.7 460.3,841.1 460.7,842.3 461.2,851.3 461.7,843.8 462.2,848.6 462.7,838.1 463.2,846.9 463.7,847.3 464.2,850.7 464.6,846 465.1,825.2 465.6,846.2 466.1,836.5 466.6,834.7 467.1,853.6 467.6,833.5 468.1,841.1 468.5,851.8 469,837.2 469.5,862 470,858.3 470.5,854.6 471,855.6 471.5,840.2 472,849.2 472.4,843.5 472.9,873.8 473.4,858.7 473.9,852.6 474.4,853.5 474.9,837.7 475.4,860.8 475.9,833 476.3,849.1 476.8,831.9 477.3,842 477.8,858.1 478.3,839.9 478.8,833.6 479.3,849 479.8,831.4 480.2,832.1 480.7,839.5 481.2,843.7 481.7,839.7 482.2,818.5 482.7,839.4 483.2,846.6 483.7,845.4 484.1,841.7 484.6,851.6 485.1,833.1 485.6,853.5 486.1,840.5 486.6,850 487.1,848.1 487.6,857.2 488,832.5 488.5,858.8 489,846.1 489.5,845.2 490,836.7 490.5,831.2 491,832.9 491.5,846.2 491.9,848.2 492.4,841.7 492.9,865 493.4,830.6 493.9,843.1 494.4,842.5 494.9,845.3 495.4,834.9 495.8,865.7 496.3,835.6 496.8,837.2 497.3,855.6 497.8,841.5 498.3,844.3 498.8,842.9 499.3,853 499.7,843.3 500.2,860 500.7,843.4 501.2,847.4 501.7,843.5 502.2,861 502.7,838.8 503.2,863.5 503.7,848.3 504.1,844.8 504.6,849.3 505.1,850.4 505.6,853.7 506.1,849 506.6,866.1 507.1,852.3 507.6,853.8 508,848.7 508.5,839.9 509,840.5 509.5,863.6 510,854.3 510.5,852.3 511,850.7 511.5,839.8 511.9,834.9 512.4,854.1 512.9,842 513.4,851.9 513.9,852.4 514.4,837.3 514.9,841.9 515.4,843 515.8,856 516.3,846.3 516.8,846.3 517.3,843.2 517.8,849.2 518.3,835.8 518.8,840 519.3,833.9 519.7,849.2 520.2,837.3 520.7,848.5 521.2,849.9 521.7,839.1 522.2,834.4 522.7,838.6 523.2,855.5 523.6,847.7 524.1,848.2 524.6,842.1 525.1,832.7 525.6,839.3 526.1,867.2 526.6,842.7 527.1,840.9 527.5,865.3 528,847 528.5,839.4 529,845.2 529.5,838.8 530,843.6 530.5,857 531,846.2 531.4,867.5 531.9,856.1 532.4,856.9 532.9,846.2 533.4,880.8 533.9,856.6 534.4,845.9 534.9,916.3 535.3,852.7 535.8,847.8 536.3,850.3 536.8,856.3 537.3,872.4 537.8,853.3 538.3,849.9 538.8,849.8 539.2,853.1 539.7,855.5 540.2,846.3 540.7,863.8 541.2,846.2 541.7,848.3 542.2,861.7 542.7,872.2 543.1,851.6 543.6,849.5 544.1,876.6 544.6,860.1 545.1,875.8 545.6,868.2 546.1,868.4 546.6,887 547,853.9 547.5,855.3 548,879.2 548.5,867.6 549,882.3 549.5,866.5 550,854.5 550.5,862.9 550.9,852.5 551.4,864.2 551.9,884.2 552.4,858.3 552.9,867 553.4,856.8 553.9,875.4 554.4,873.6 554.8,874.9 555.3,859.6 555.8,875.4 556.3,849.4 556.8,858 557.3,872.1 557.8,876.3 558.3,870 558.7,892.7 559.2,865.4 559.7,864.6 560.2,867.2 560.7,871.8 561.2,875.5 561.7,857.2 562.2,859.3 562.6,859.9 563.1,852.5 563.6,856.1 564.1,852.7 564.6,859.3 565.1,867.1 565.6,857.8 566.1,858.1 566.6,859.5 567,869.2 567.5,878.6 568,887.8 568.5,869.6 569,880.5 569.5,880.2 570,866.3 570.5,869.9 570.9,899.7 571.4,890.4 571.9,880.1 572.4,871.2 572.9,877.1 573.4,869 573.9,886 574.4,874.2 574.8,877.4 575.3,854.9 575.8,866.7 576.3,869.5 576.8,858.2 577.3,865.7 577.8,855.1 578.3,869.8 578.7,872.1 579.2,856.7 579.7,875.1 580.2,875.9 580.7,885.4 581.2,868.5 581.7,888.5 582.2,875.8 582.6,889.6 583.1,886.3 583.6,885.2 584.1,871.7 584.6,874.2 585.1,869.5 585.6,879.1 586.1,870.3 586.5,892.6 587,876.8 587.5,878.5 588,879.3 588.5,906 589,891.3 589.5,887.8 590,882.3 590.4,891.3 590.9,886.2 591.4,872.8 591.9,882.3 592.4,889.8 592.9,871.6 593.4,904.8 593.9,868.1 594.3,898.9 594.8,899.8 595.3,893 595.8,898 596.3,870 596.8,880.4 597.3,877.7 597.8,873.5 598.2,898.6 598.7,908.2 599.2,889.9 599.7,878.2 600.2,874.8 600.7,886.4 601.2,905.5 601.7,893.2 602.1,896.7 602.6,877.6 603.1,881.4 603.6,900.1 604.1,884.2 604.6,921.9 605.1,884 605.6,881.8 606,886.1 606.5,891.9 607,901.4 607.5,926.5 608,899.9 608.5,899.7 609,887.6 609.5,902.2 609.9,887.1 610.4,906.6 610.9,905.3 611.4,908.2 611.9,959 612.4,885.5 612.9,886.7 613.4,928.8 613.8,911.8 614.3,889.6 614.8,928.4 615.3,905.8 615.8,907.3 616.3,919.1 616.8,889.5 617.3,888.2 617.7,896.6 618.2,906.4 618.7,895.7 619.2,912.5 619.7,884.7 620.2,903 620.7,882.7 621.2,912.7 621.6,897.6 622.1,891.9 622.6,935.4 623.1,884.4 623.6,884.7 624.1,883.3 624.6,908.8 625.1,885.6 625.6,924.8 626,888.5 626.5,910.5 627,896 627.5,893.7 628,890.4 628.5,914.6 629,922.3 629.5,925.9 629.9,903 630.4,920.4 630.9,900.1 631.4,932.4 631.9,957.3 632.4,908.2 632.9,936.6 633.4,932 633.8,906.5 634.3,913.3 634.8,916.6 635.3,934.1 635.8,901.5 636.3,924.9 636.8,938.7 637.3,935 637.7,912.5 638.2,965.8 638.7,917.6 639.2,952.1 639.7,928.7 640.2,933.9 640.7,940.9 641.2,944.1 641.6,934.9 642.1,914.8 642.6,920.1 643.1,910.1 643.6,918.6 644.1,919.1 644.6,940 645.1,910.8 645.5,936.2 646,932.6 646.5,973.6 647,920.2 647.5,939.3 648,915.9 648.5,918.1 649,895.6 649.4,918.7 649.9,958.7 650.4,930.6 650.9,946.3 651.4,925.9 651.9,952.2 652.4,953.3 652.9,928.4 653.3,940.4 653.8,979.6 654.3,937.4 654.8,954.9 655.3,924.9 655.8,931.2 656.3,945.3 656.8,954.2 657.2,977.5 657.7,930.4 658.2,973.9 658.7,925.2 659.2,942.1 659.7,917.6 660.2,952.6 660.7,924.5 661.1,949.9 661.6,921.2 662.1,941.4 662.6,933 663.1,939 663.6,952.7 664.1,934.5 664.6,917.1 665,934.6 665.5,949.9 666,952.9 666.5,910.3 667,952.3 667.5,955.3 668,954.5 668.5,916.7" fill="none" stroke="#2b2118" stroke-width="1.15" stroke-linejoin="round"/>
<path d="M136,818 136.3,823.4 136.6,873 136.9,828.5 137.2,863.7 137.5,835.2 137.8,802.1 138,810.6 138.3,801 138.6,851.5 138.9,844.2 139.2,922.5 139.5,824.6 139.8,858.6 140.1,905.4 140.4,835.9 140.7,875.8 141,888.2 141.3,904.8 141.6,825.3 141.9,910 142.1,919.9 142.4,862 142.7,862.8 143,880.3 143.3,925.2 143.6,894.9 143.9,867.5 144.2,855.4 144.5,814.4 144.8,885.2 145.1,905.3 145.4,892 145.7,868.1 145.9,952.4 146.2,876.5 146.5,897.1 146.8,910.5 147.1,868.2 147.4,856.5 147.7,905.6 148,881.9 148.3,867.4 148.6,875.6 148.9,836.7 149.2,921.3 149.5,892.3 149.8,876.2 150,867.7 150.3,918.4 150.6,897.2 150.9,929.1 151.2,919 151.5,910 151.8,947.6 152.1,882 152.4,953.9 152.7,870.8 153,847 153.3,881.8 153.6,878.3 153.8,863.4 154.1,914.6 154.4,861 154.7,879.4 155,817.2 155.3,876.8 155.6,939.7 155.9,967.4 156.2,928.9 156.5,872.5 156.8,898.9 157.1,840.1 157.4,844.5 157.6,907.6 157.9,934.6 158.2,790.9 158.5,898.6 158.8,822.4 159.1,909.1 159.4,817.9 159.7,875.2 160,907.1 160.3,904 160.6,861.6 160.9,857.2 161.2,826.4 161.5,950.7 161.7,891.6 162,891 162.3,879.8 162.6,806 162.9,861.8 163.2,876.2 163.5,826.2 163.8,834.3 164.1,868.4 164.4,825.6 164.7,870 165,903.5 165.3,896 165.5,795.9 165.8,809.5 166.1,834.8 166.4,871.4 166.7,824.3 167,865.4 167.3,783.9 167.6,835.7 167.9,814.8 168.2,836.4 168.5,821 168.8,853.4 169.1,836.2 169.4,809.1 169.6,895.9 169.9,833.4 170.2,844.1 170.5,772.5 170.8,907 171.1,831.1 171.4,843.5 171.7,846.7 172,796.3 172.3,810.7 172.6,868.5 172.9,864.1 173.2,772.5 173.4,826.6 173.7,826.3 174,852 174.3,804.2 174.6,801.5 174.9,803.9 175.2,792 175.5,835.8 175.8,836.4 176.1,854.5 176.4,865.7 176.7,798.5 177,798.6 177.3,806.6 177.5,821.9 177.8,809.9 178.1,824.9 178.4,843.9 178.7,853.9 179,796.7 179.3,842.1 179.6,792.9 179.9,791.9 180.2,811.5 180.5,847.7 180.8,838 181.1,768.5 181.3,847 181.6,866.8 181.9,766.6 182.2,823.5 182.5,787.6 182.8,859.9 183.1,793.7 183.4,815.1 183.7,818 184,816.4 184.3,774.9 184.6,765.8 184.9,790.9 185.2,750 185.4,758.5 185.7,809.7 186,789.4 186.3,823.6 186.6,807 186.9,790.1 187.2,757 187.5,820.9 187.8,755.7 188.1,787.6 188.4,810.7 188.7,810.5 189,761.9 189.2,809.1 189.5,836.4 189.8,775.7 190.1,847 190.4,816.5 190.7,804.3 191,809.4 191.3,748.9 191.6,766.4 191.9,790.3 192.2,839.3 192.5,805.4 192.8,810.4 193,784.8 193.3,795.9 193.6,829.1 193.9,820.1 194.2,819.4 194.5,833.4 194.8,778.4 195.1,815.9 195.4,810.1 195.7,822.9 196,757.8 196.3,833.4 196.6,786.7 196.9,832.4 197.1,794.6 197.4,788 197.7,788.5 198,793.3 198.3,825.8 198.6,834.6 198.9,829.6 199.2,819.3 199.5,865.5 199.8,792.7 200.1,873.8 200.4,820.1 200.7,836.3 200.9,835.3 201.2,828.1 201.5,820.1 201.8,769.9 202.1,792.7 202.4,776.4 202.7,870.1 203,843.7 203.3,829.2 203.6,813.1 203.9,849.1 204.2,818 204.5,835.6 204.8,830 205,859.8 205.3,827.9 205.6,834.4 205.9,824.4 206.2,858.5 206.5,795.9 206.8,852.6 207.1,804.8 207.4,825.7 207.7,822 208,821.3 208.3,835.7 208.6,813.6 208.8,813.4 209.1,852.4 209.4,808.7 209.7,835.2 210,857.1 210.3,865 210.6,788 210.9,777 211.2,787 211.5,801.4 211.8,814.5 212.1,804.9 212.4,762 212.7,820.2 212.9,818.1 213.2,798.1 213.5,801.2 213.8,833.8 214.1,830.4 214.4,859.4 214.7,765.6 215,781.9 215.3,794.3 215.6,844.9 215.9,757.2 216.2,795.8 216.5,822.5 216.7,819.5 217,787.1 217.3,838.3 217.6,820.3 217.9,781.8 218.2,825.6 218.5,806.1 218.8,790.7 219.1,766 219.4,803.2 219.7,836.6 220,764.4 220.3,799.3 220.5,826 220.8,788.4 221.1,767.9 221.4,811.1 221.7,831 222,793.2 222.3,790.5 222.6,779.2 222.9,777.5 223.2,829.4 223.5,788.1 223.8,810.3 224.1,823.8 224.4,754.6 224.6,820.2 224.9,818.1 225.2,811.9 225.5,825.7 225.8,777.7 226.1,832 226.4,800.8 226.7,775.5 227,774.9 227.3,782.2 227.6,769.9 227.9,799.7 228.2,838.1 228.4,828 228.7,812 229,824.9 229.3,766 229.6,848.8 229.9,805.2 230.2,819.3 230.5,823.8 230.8,851.8 231.1,804.1 231.4,838.4 231.7,844 232,895.7 232.3,837.4 232.5,846.5 232.8,858 233.1,833.5 233.4,816.1 233.7,814.9 234,797 234.3,806.4 234.6,849.9 234.9,828 235.2,825.1 235.5,798.2 235.8,872.4 236.1,839.1 236.3,849 236.6,866.6 236.9,832.9 237.2,825.2 237.5,850.2 237.8,792.1 238.1,771.2 238.4,808.3 238.7,826 239,788.6 239.3,800.4 239.6,832.2 239.9,829.5 240.2,751.7 240.4,823.7 240.7,837.4 241,884.3 241.3,810.7 241.6,858.8 241.9,819.8 242.2,798.2 242.5,844.9 242.8,841.6 243.1,853.5 243.4,848 243.7,828.9 244,849.2 244.2,843 244.5,832.2 244.8,858.7 245.1,869.9 245.4,798.9 245.7,897.8 246,858.8 246.3,837.9 246.6,787.2 246.9,854.7 247.2,874.6 247.5,792.9 247.8,830.5 248.1,822.2 248.3,792.8 248.6,763.4 248.9,868 249.2,859.6 249.5,782 249.8,803.9 250.1,817.6 250.4,815 250.7,806 251,892.7 251.3,822.3 251.6,843.2 251.9,839.4 252.1,804.3 252.4,825.5 252.7,867.4 253,872.7 253.3,831.6 253.6,876.2 253.9,844.3 254.2,828.9 254.5,827.3 254.8,808 255.1,803.7 255.4,850.6 255.7,826.2 255.9,888.7 256.2,825.2 256.5,830.8 256.8,886.3 257.1,813.3 257.4,830.9 257.7,866.2 258,789.4 258.3,828.1 258.6,820.7 258.9,822.7 259.2,836.3 259.5,764 259.8,816.2 260,852.3 260.3,844.1 260.6,837.2 260.9,859.5 261.2,781.5 261.5,817 261.8,812.5 262.1,809.4 262.4,771.1 262.7,835.6 263,760.7 263.3,820.8 263.6,805.9 263.8,766.5 264.1,840.7 264.4,770.6 264.7,858.7 265,838.2 265.3,795.9 265.6,817.7 265.9,833.2 266.2,811.5 266.5,852.9 266.8,832.2 267.1,792.5 267.4,791.4 267.7,812.9 267.9,844.4 268.2,852.8 268.5,821 268.8,803 269.1,887.8 269.4,858.9 269.7,868.7 270,857 270.3,878 270.6,829.5 270.9,817.3 271.2,868.7 271.5,843.2 271.7,827.4 272,873.8 272.3,764.2 272.6,831.4 272.9,810.7 273.2,838 273.5,826.8 273.8,814.1 274.1,871.5 274.4,734.7 274.7,881.2 275,845.5 275.3,717.7 275.6,855.7 275.8,885.6 276.1,702.8 276.4,769.1 276.7,712.9 277,804.7 277.3,776.2 277.6,731 277.9,857.6 278.2,821.9 278.5,876.4 278.8,804.3 279.1,830.6 279.4,849.3 279.6,825.8 279.9,824.2 280.2,832.4 280.5,886.8 280.8,822.3 281.1,788.1 281.4,827.9 281.7,846.8 282,781.5 282.3,793.5 282.6,811 282.9,822.3 283.2,804.8 283.5,839.7 283.7,784.9 284,817.7 284.3,802.9 284.6,801.5 284.9,790.1 285.2,874 285.5,843.6 285.8,824.1 286.1,755.4 286.4,778.1 286.7,796.4 287,800.4 287.3,753.8 287.5,751.2 287.8,808.2 288.1,829.5 288.4,826 288.7,807.8 289,805.9 289.3,805.8 289.6,782.5 289.9,831.9 290.2,815.3 290.5,806.1 290.8,793.8 291.1,753.9 291.3,778 291.6,779.2 291.9,750 292.2,832.3 292.5,828.7 292.8,867.8 293.1,839.4 293.4,850.2 293.7,779.4 294,794.2 294.3,803.8 294.6,788.4 294.9,819.3 295.2,814.2 295.4,768.9 295.7,847.9 296,877.9 296.3,791.5 296.6,779.4 296.9,811.3 297.2,756 297.5,756.8 297.8,865.2 298.1,812.7 298.4,787.7 298.7,805.6 299,813.6 299.2,869.6 299.5,789.8 299.8,782.3 300.1,804.8 300.4,786.4 300.7,818.2 301,840.4 301.3,825.7 301.6,783.7 301.9,769.8 302.2,837.9 302.5,847.4 302.8,806.2 303.1,838.7 303.3,823.7 303.6,818.3 303.9,798.6 304.2,842.8 304.5,846.9 304.8,829.1 305.1,835.3 305.4,799.7 305.7,805.1 306,795.9 306.3,745.1 306.6,799 306.9,781.5 307.1,869.6 307.4,794.7 307.7,863.1 308,806.4 308.3,799.4 308.6,857.7 308.9,788.4 309.2,822.1 309.5,794.4 309.8,843.7 310.1,868.9 310.4,786.9 310.7,822.2 311,762.6 311.2,801.9 311.5,808.9 311.8,828.9 312.1,804.4 312.4,811.6 312.7,764.6 313,790 313.3,846 313.6,797.7 313.9,804.6 314.2,833.6 314.5,761.1 314.8,789.6 315,800.4 315.3,856.7 315.6,821 315.9,823.4 316.2,767.1 316.5,812.7 316.8,789.7 317.1,809.4 317.4,787.7 317.7,760.4 318,832.7 318.3,774.1 318.6,815.1 318.8,845.4 319.1,745.8 319.4,788.8 319.7,804.1 320,853.2 320.3,803.8 320.6,799 320.9,817.9 321.2,752.6 321.5,843.2 321.8,769.8 322.1,802.2 322.4,768.7 322.7,812.7 322.9,820.3 323.2,804.8 323.5,761.9 323.8,804.2 324.1,827.3 324.4,793.2 324.7,786.8 325,765.8 325.3,791.8 325.6,819.7 325.9,805.3 326.2,778.2 326.5,803.6 326.7,822 327,826.3 327.3,854.8 327.6,833.2 327.9,766.1 328.2,791.1 328.5,796.1 328.8,853.6 329.1,802.1 329.4,788.9 329.7,826.6 330,784.2 330.3,847.3 330.6,811.5 330.8,825.1 331.1,814 331.4,762.6 331.7,802.2 332,806.7 332.3,798.4 332.6,801.5 332.9,820 333.2,839.9 333.5,749.6 333.8,778 334.1,777.9 334.4,808 334.6,814 334.9,797.3 335.2,816.8 335.5,834.9 335.8,821.7 336.1,795.4 336.4,810.5 336.7,763.7 337,809.5 337.3,776.6 337.6,773.3 337.9,777.1 338.2,844 338.5,779.5 338.7,816.1 339,830.8 339.3,760.8 339.6,821.3 339.9,806.5 340.2,749.6 340.5,783.8 340.8,804.9 341.1,821.7 341.4,790.2 341.7,762.5 342,796.8 342.3,836.5 342.5,757.9 342.8,799.1 343.1,773.7 343.4,789.6 343.7,807.3 344,800.9 344.3,784.5 344.6,837 344.9,757.9 345.2,822.3 345.5,789.1 345.8,785.8 346.1,846.6 346.4,795.8 346.6,813.9 346.9,788.3 347.2,814.8 347.5,792.1 347.8,761.3 348.1,844.4 348.4,843.2 348.7,783.8 349,841.7 349.3,813.7 349.6,801.8 349.9,772.2 350.2,804.8 350.4,775.9 350.7,766.3 351,792.7 351.3,844.6 351.6,751.8 351.9,800.8 352.2,782.4 352.5,814.8 352.8,790.3 353.1,828.7 353.4,788.7 353.7,807.5 354,799.2 354.2,804.6 354.5,789.7 354.8,767 355.1,811.5 355.4,814.6 355.7,773.9 356,849.9 356.3,766.4 356.6,792.7 356.9,817.1 357.2,798 357.5,764.5 357.8,753.4 358.1,815.1 358.3,771.8 358.6,759.4 358.9,801.9 359.2,808.8 359.5,791 359.8,795.2 360.1,766.5 360.4,764.7 360.7,818.7 361,803.7 361.3,785 361.6,844.8 361.9,784.4 362.1,824.8 362.4,768.9 362.7,767.3 363,759.3 363.3,838.2 363.6,766.3 363.9,831 364.2,742.4 364.5,835.3 364.8,800.3 365.1,754.1 365.4,806 365.7,828.9 366,848.3 366.2,793.4 366.5,814.6 366.8,768.6 367.1,806.7 367.4,801 367.7,821.6 368,804.3 368.3,793.7 368.6,745.5 368.9,745.5 369.2,815.6 369.5,827.5 369.8,782.5 370,760.2 370.3,828.4 370.6,781.4 370.9,785.5 371.2,823.8 371.5,817 371.8,794 372.1,750.2 372.4,782.9 372.7,766 373,771.3 373.3,766.5 373.6,782.7 373.9,787.6 374.1,766.5 374.4,817.3 374.7,838.2 375,800.1 375.3,792.9 375.6,811.1 375.9,743 376.2,841.6 376.5,793.1 376.8,800.1 377.1,809.1 377.4,786.9 377.7,774.2 377.9,795.6 378.2,792 378.5,818.8 378.8,782.1 379.1,761.5 379.4,810.8 379.7,757 380,771.5 380.3,807 380.6,798.1 380.9,789.9 381.2,787 381.5,845.1 381.8,812.1 382,850.9 382.3,785.1 382.6,798.5 382.9,809.7 383.2,823.6 383.5,845.4 383.8,809.9 384.1,790.3 384.4,802.7 384.7,780.3 385,783 385.3,807.8 385.6,758.9 385.8,822.7 386.1,812.9 386.4,799 386.7,786.9 387,831.6 387.3,842.8 387.6,836.5 387.9,812.3 388.2,792.8 388.5,813.4 388.8,828.3 389.1,818.2 389.4,837.4 389.6,810.7 389.9,820.7 390.2,803.7 390.5,817.4 390.8,827.5 391.1,786 391.4,807 391.7,804.7 392,779.3 392.3,838.3 392.6,827.8 392.9,781.1 393.2,767.2 393.5,805.3 393.7,778.2 394,791.2 394.3,847.6 394.6,769.6 394.9,799.7 395.2,780 395.5,818.5 395.8,798.3 396.1,770.2 396.4,779 396.7,809.4 397,805.4 397.3,752.2 397.5,819.8 397.8,786.3 398.1,780.1 398.4,787.6 398.7,789.7 399,762.5 399.3,851.3 399.6,795.4 399.9,825.6 400.2,763.6 400.5,812.7 400.8,746.4 401.1,773.8 401.4,794.2 401.6,808.5 401.9,810.9 402.2,778.6 402.5,783.8 402.8,800.5 403.1,815 403.4,786.7 403.7,786.3 404,830.4 404.3,791.2 404.6,781.7 404.9,791.2 405.2,800.9 405.4,783 405.7,794.9 406,774.5 406.3,840.5 406.6,779.6 406.9,824.3 407.2,802.4 407.5,804.1 407.8,779.6 408.1,758.5 408.4,823.2 408.7,817.6 409,783.8 409.3,770.5 409.5,788.4 409.8,819.5 410.1,751.7 410.4,811.9 410.7,771.7 411,780.3 411.3,823.1 411.6,832.8 411.9,823.3 412.2,813.9 412.5,800 412.8,750.4 413.1,830.2 413.3,783.4 413.6,773.2 413.9,785.4 414.2,837.3 414.5,824 414.8,780.1 415.1,811.7 415.4,824.9 415.7,824.2 416,788.9 416.3,772.9 416.6,791.3 416.9,818.9 417.2,774.3 417.4,841.1 417.7,824.1 418,816.8 418.3,797.5 418.6,829 418.9,817.2 419.2,783.6 419.5,807.6 419.8,795.3 420.1,809.4 420.4,822.6 420.7,823.6 421,808 421.2,772.6 421.5,811.1 421.8,798.5 422.1,812.4 422.4,772.6 422.7,814.5 423,812.5 423.3,770.6 423.6,823.3 423.9,779.7 424.2,793.4 424.5,799.9 424.8,789 425,819.8 425.3,763.5 425.6,814.9 425.9,797.5 426.2,822.5 426.5,782.7 426.8,793.2 427.1,841 427.4,834 427.7,832.2 428,790.6 428.3,808.5 428.6,813.8 428.9,766.2 429.1,815.1 429.4,819.3 429.7,793.3 430,788.2 430.3,760.7 430.6,810.8 430.9,802.3 431.2,782 431.5,781.1 431.8,790 432.1,786.9 432.4,761.2 432.7,800.7 432.9,798.7 433.2,782 433.5,786 433.8,801.9 434.1,795.9 434.4,799.3 434.7,755.3 435,786.3 435.3,801.9 435.6,758.5 435.9,785.2 436.2,799.8 436.5,799.4 436.8,810.6 437,779.4 437.3,806.3 437.6,781 437.9,783.4 438.2,841.8 438.5,834.2 438.8,797.8 439.1,804.4 439.4,768.6 439.7,759 440,814.8 440.3,782.8 440.6,782.7 440.8,758.4 441.1,808.1 441.4,762.7 441.7,782.6 442,778.5 442.3,767.6 442.6,787 442.9,765.7 443.2,785.9 443.5,796.2 443.8,788.9 444.1,749.1 444.4,775.5 444.7,746.7 444.9,822.3 445.2,765.4 445.5,808.7 445.8,806.9 446.1,762.7 446.4,786.2 446.7,806.8 447,803.6 447.3,806 447.6,809.9 447.9,837.3 448.2,799.1 448.5,824.7 448.7,800.6 449,812.3 449.3,762.3 449.6,786.3 449.9,755.6 450.2,794.2 450.5,816 450.8,789.1 451.1,778.2 451.4,825.3 451.7,759 452,810.4 452.3,784.2 452.5,805.7 452.8,779.5 453.1,774.1 453.4,777.2 453.7,797.3 454,795.5 454.3,800.6 454.6,796.2 454.9,753.3 455.2,764.2 455.5,771.2 455.8,806.9 456.1,773.2 456.4,775 456.6,792.3 456.9,817.4 457.2,784.4 457.5,762.9 457.8,809.2 458.1,818.6 458.4,791.5 458.7,802.6 459,792.3 459.3,837.1 459.6,792.1 459.9,751.9 460.2,788.1 460.4,765 460.7,782.7 461,816.7 461.3,796.7 461.6,796.5 461.9,766.7 462.2,787.5 462.5,811.6 462.8,808.7 463.1,785.7 463.4,805 463.7,791 464,797.2 464.3,776.9 464.5,777.4 464.8,778.5 465.1,756.3 465.4,799.2 465.7,776.6 466,816.1 466.3,786.8 466.6,796.9 466.9,780.8 467.2,787.8 467.5,785 467.8,790.8 468.1,808.4 468.3,840.5 468.6,812 468.9,791.5 469.2,797.6 469.5,813.3 469.8,806.3 470.1,816.3 470.4,770.5 470.7,787.7 471,831.5 471.3,812.4 471.6,822.9 471.9,749.3 472.2,792.8 472.4,830.7 472.7,798.3 473,792 473.3,811.6 473.6,768.1 473.9,781.5 474.2,770.6 474.5,776 474.8,792.1 475.1,791.3 475.4,799.5 475.7,811.1 476,785.8 476.2,830.8 476.5,838.6 476.8,798.4 477.1,830.9 477.4,776.4 477.7,801.3 478,807.8 478.3,777.3 478.6,798.8 478.9,772.9 479.2,845 479.5,765.6 479.8,772.8 480.1,806 480.3,767.6 480.6,754.5 480.9,790.8 481.2,820.5 481.5,787.7 481.8,801.5 482.1,780.6 482.4,779.3 482.7,784.6 483,793.7 483.3,805.5 483.6,824.2 483.9,792.8 484.1,778.2 484.4,746.7 484.7,820.6 485,794.5 485.3,788.8 485.6,812.6 485.9,781.7 486.2,775.9 486.5,810.6 486.8,800.1 487.1,786.4 487.4,812.6 487.7,771.7 487.9,789.1 488.2,836.2 488.5,800.8 488.8,762.3 489.1,786.9 489.4,809.4 489.7,807 490,838.2 490.3,782.6 490.6,812.3 490.9,784.5 491.2,827.3 491.5,787.5 491.8,834.8 492,773.2 492.3,783.9 492.6,808 492.9,816.1 493.2,776.1 493.5,795 493.8,807.7 494.1,790.4 494.4,797.4 494.7,802.3 495,792.1 495.3,783.4 495.6,819.7 495.8,781 496.1,789.8 496.4,791.6 496.7,829 497,812.2 497.3,796.5 497.6,778.2 497.9,833 498.2,797.9 498.5,828 498.8,807 499.1,800.5 499.4,799.5 499.7,823.7 499.9,795.5 500.2,811.5 500.5,791.2 500.8,798.2 501.1,824.6 501.4,795.5 501.7,811.4 502,807.5 502.3,780.7 502.6,803.3 502.9,778.5 503.2,783 503.5,828.8 503.7,806.4 504,771.5 504.3,797 504.6,803.5 504.9,788.9 505.2,776.9 505.5,802.1 505.8,779 506.1,792.8 506.4,816.5 506.7,790.7 507,792.8 507.3,771.4 507.6,792.5 507.8,827.1 508.1,792.8 508.4,755.1 508.7,802.8 509,796.6 509.3,829 509.6,820.2 509.9,790 510.2,796.6 510.5,808.3 510.8,788.5 511.1,806.8 511.4,809.7 511.6,782.5 511.9,775.7 512.2,818.6 512.5,849.1 512.8,790.3 513.1,814.8 513.4,806.3 513.7,836 514,824.8 514.3,812.7 514.6,822.6 514.9,837 515.2,790.3 515.5,766.7 515.7,781.2 516,789.1 516.3,799 516.6,792 516.9,801.4 517.2,799.4 517.5,823.9 517.8,838.2 518.1,823.9 518.4,764.2 518.7,827.1 519,799.7 519.3,819.5 519.5,800.4 519.8,830.3 520.1,807.8 520.4,801.7 520.7,812.7 521,833.9 521.3,795.3 521.6,766.6 521.9,817.9 522.2,765.3 522.5,811.3 522.8,807.9 523.1,787 523.3,811.3 523.6,793.5 523.9,768.3 524.2,801.9 524.5,825.3 524.8,821.3 525.1,759.9 525.4,788.8 525.7,822.2 526,807.6 526.3,779.6 526.6,772.4 526.9,797.2 527.2,820.7 527.4,784.5 527.7,827.2 528,788.3 528.3,818 528.6,832.5 528.9,827.5 529.2,814.5 529.5,791.7 529.8,762.8 530.1,820.7 530.4,792.4 530.7,776.8 531,787 531.2,800.7 531.5,786.2 531.8,821.7 532.1,834.8 532.4,797.9 532.7,839.4 533,808.6 533.3,791.8 533.6,815.4 533.9,818 534.2,830.5 534.5,798.9 534.8,773.9 535.1,786.8 535.3,809.2 535.6,764.3 535.9,799.3 536.2,767.3 536.5,793.8 536.8,780.9 537.1,804.9 537.4,777.7 537.7,806.5 538,804.3 538.3,774.9 538.6,788.3 538.9,772.6 539.1,777.4 539.4,806.8 539.7,793.3 540,802.9 540.3,777 540.6,829.3 540.9,753.1 541.2,777.4 541.5,840.1 541.8,806.6 542.1,831.3 542.4,766.7 542.7,831.2 543,786.5 543.2,813.4 543.5,848 543.8,790.5 544.1,826.2 544.4,831.3 544.7,809.3 545,825.3 545.3,819.3 545.6,832.2 545.9,855.1 546.2,770.5 546.5,767.4 546.8,817.1 547,810.9 547.3,811.2 547.6,835.3 547.9,821.6 548.2,797.6 548.5,803.4 548.8,801.7 549.1,847.4 549.4,782.6 549.7,776.9 550,797.6 550.3,831.6 550.6,825.9 550.9,796.4 551.1,794.3 551.4,790.5 551.7,823.6 552,850.1 552.3,806.2 552.6,815 552.9,799.4 553.2,804.6 553.5,753 553.8,806.1 554.1,812.3 554.4,802.5 554.7,782 554.9,780.1 555.2,798 555.5,807.3 555.8,834.1 556.1,777.6 556.4,825.4 556.7,784.1 557,790.6 557.3,786.3 557.6,800.6 557.9,801.9 558.2,818.4 558.5,808.1 558.7,791.7 559,812.5 559.3,767.5 559.6,791.1 559.9,790.2 560.2,746.3 560.5,778.2 560.8,756.6 561.1,790.4 561.4,739.1 561.7,781.5 562,773.5 562.3,781.2 562.6,736 562.8,842.9 563.1,807.5 563.4,804.3 563.7,804.9 564,839.6 564.3,788.8 564.6,811.1 564.9,788 565.2,798.5 565.5,796.9 565.8,773.6 566.1,826.3 566.4,825.6 566.6,792.4 566.9,781.9 567.2,826.9 567.5,800.6 567.8,853.2 568.1,785.6 568.4,817.1 568.7,807.8 569,839 569.3,801.3 569.6,828.4 569.9,826.4 570.2,814.2 570.5,845.8 570.7,811.6 571,794.8 571.3,805.8 571.6,836 571.9,799.5 572.2,786.3 572.5,741.2 572.8,797.3 573.1,765 573.4,737.2 573.7,765.8 574,788.6 574.3,753.8 574.5,777.4 574.8,822.2 575.1,840.1 575.4,816.6 575.7,812.9 576,743.8 576.3,814.3 576.6,844.7 576.9,761.2 577.2,824.7 577.5,751 577.8,789.8 578.1,808.2 578.4,838.5 578.6,822.2 578.9,827.9 579.2,832.9 579.5,741.6 579.8,798 580.1,853.5 580.4,773.8 580.7,856.1 581,780.6 581.3,836.2 581.6,837 581.9,850.2 582.2,793.8 582.4,824.6 582.7,842.6 583,856.6 583.3,873.7 583.6,785.3 583.9,799.7 584.2,798.6 584.5,861.9 584.8,858.2 585.1,798.1 585.4,760.5 585.7,818.5 586,827.8 586.2,869.3 586.5,844 586.8,805.3 587.1,825.8 587.4,789.9 587.7,805.5 588,820.1 588.3,803.6 588.6,825.8 588.9,835 589.2,778.6 589.5,773.3 589.8,764.2 590.1,827.2 590.3,766.4 590.6,846.4 590.9,755.9 591.2,821.1 591.5,863.6 591.8,737.9 592.1,802 592.4,803.9 592.7,811.7 593,778.4 593.3,837.4 593.6,830.5 593.9,799.9 594.1,781.8 594.4,832.3 594.7,798.5 595,815.8 595.3,842.3 595.6,860.8 595.9,846.4 596.2,825.8 596.5,852.5 596.8,822.2 597.1,841.2 597.4,820.3 597.7,758.8 598,782.2 598.2,826.9 598.5,794.1 598.8,748.6 599.1,791.4 599.4,854.7 599.7,885 600,871.2 600.3,801.3 600.6,812.4 600.9,813.5 601.2,823.3 601.5,860.4 601.8,811.1 602,831.8 602.3,770.7 602.6,741.2 602.9,865.3 603.2,801.3 603.5,787.2 603.8,789.5 604.1,781.3 604.4,800.8 604.7,810.9 605,812.6 605.3,789.8 605.6,821.3 605.9,769.2 606.1,858.2 606.4,797.4 606.7,860.1 607,824.8 607.3,843.3 607.6,821 607.9,782.4 608.2,860.3 608.5,783.1 608.8,824 609.1,783.7 609.4,844 609.7,855.3 609.9,778.8 610.2,821.7 610.5,816 610.8,808.3 611.1,853 611.4,835.7 611.7,800.3 612,830.3 612.3,820.6 612.6,858.4 612.9,793.7 613.2,852.6 613.5,805.4 613.8,815.7 614,842.9 614.3,824.9 614.6,856.3 614.9,862.1 615.2,854 615.5,822.7 615.8,850.5 616.1,879.1 616.4,876.3 616.7,868.9 617,833.9 617.3,832.7 617.6,824.2 617.8,876.2 618.1,845.2 618.4,888.2 618.7,800.8 619,876.6 619.3,825.8 619.6,829.3 619.9,885.4 620.2,767.6 620.5,835.4 620.8,766.3 621.1,789.6 621.4,826.8 621.6,898.9 621.9,792.9 622.2,779.5 622.5,847 622.8,829.4 623.1,886.7 623.4,865.5 623.7,829.7 624,829.9 624.3,811.6 624.6,831 624.9,857.9 625.2,813.1 625.5,847.5 625.7,842.9 626,839.4 626.3,840.4 626.6,864.2 626.9,848.2 627.2,851.8 627.5,766.2 627.8,802.8 628.1,872.6 628.4,758.5 628.7,813.6 629,899 629.3,861.7 629.5,810.4 629.8,844.4 630.1,857.9 630.4,895.7 630.7,869.6 631,829.9 631.3,834.8 631.6,785.7 631.9,827.8 632.2,820.6 632.5,901.6 632.8,757.4 633.1,858.6 633.4,894.1 633.6,784 633.9,839.7 634.2,874.1 634.5,792.2 634.8,856.5 635.1,852 635.4,863.2 635.7,835.7 636,861.6 636.3,866.8 636.6,796.4 636.9,778.6 637.2,841.7 637.4,766.1 637.7,834.3 638,702.1 638.3,823.4 638.6,862.3 638.9,870.6 639.2,853.5 639.5,934.8 639.8,815.4 640.1,864.5 640.4,845.6 640.7,884.5 641,884.3 641.3,836.4 641.5,777.6 641.8,853.7 642.1,859.4 642.4,826.7 642.7,841 643,900.9 643.3,839.2 643.6,850 643.9,893.6 644.2,936.3 644.5,941 644.8,796 645.1,791 645.3,815.7 645.6,849.2 645.9,777 646.2,820 646.5,845.1 646.8,882.8 647.1,927.4 647.4,775.7 647.7,848.7 648,841.1 648.3,850.7 648.6,915.4 648.9,827.4 649.2,868.8 649.4,827.1 649.7,883.6 650,868 650.3,838.2 650.6,862.8 650.9,893 651.2,805 651.5,887.9 651.8,876.1 652.1,885 652.4,826.9 652.7,819.3 653,868.6 653.2,828.9 653.5,814.9 653.8,858.8 654.1,940.6 654.4,858.7 654.7,867.8 655,839.1 655.3,837.6 655.6,904 655.9,921 656.2,964 656.5,922.3 656.8,849.2 657,954.6 657.3,917.9 657.6,883.2 657.9,812.4 658.2,891.2 658.5,852.7 658.8,905.5 659.1,862.1 659.4,941.2 659.7,847 660,868.6 660.3,887.9 660.6,910.6 660.9,840.5 661.1,898.2 661.4,886.3 661.7,859.1 662,963.7 662.3,859.6 662.6,922.4 662.9,892.3 663.2,966.6 663.5,927.8 663.8,901.7 664.1,857.2 664.4,947 664.7,857.8 664.9,910.1 665.2,933.4 665.5,805.1 665.8,986.9 666.1,979.9 666.4,964.6 666.7,827.3 667,832 667.3,838 667.6,820.3 667.9,840.2 668.2,830 668.5,855.3" fill="none" stroke="#ec1c24" stroke-width="2.6" stroke-linejoin="round"/>
<path d="M136,1331.6 136.7,1331.7 137.5,1330.9 138.2,1332.2 138.9,1325.9 139.7,1328.5 140.4,1304.4 141.1,1314.2 141.9,1324.7 142.6,1316.1 143.3,1322.1 144,1305.7 144.8,1315.7 145.5,1313 146.2,1320 147,1319.7 147.7,1305 148.4,1308.3 149.2,1309.1 149.9,1327.7 150.6,1324.5 151.4,1309.7 152.1,1327.1 152.8,1311.1 153.6,1323.5 154.3,1312.1 155,1309.8 155.7,1329.9 156.5,1315.9 157.2,1316.5 157.9,1329.5 158.7,1325.5 159.4,1312.5 160.1,1322.7 160.9,1311.6 161.6,1315.6 162.3,1307.4 163.1,1325.2 163.8,1321.7 164.5,1324.2 165.3,1317 166,1298.8 166.7,1292.9 167.5,1280.7 168.2,1272.5 168.9,1264.5 169.6,1267.9 170.4,1273.4 171.1,1254.8 171.8,1271.9 172.6,1260.5 173.3,1250 174,1280.8 174.8,1278.1 175.5,1278.8 176.2,1287.3 177,1297.9 177.7,1285 178.4,1315.9 179.2,1294.7 179.9,1318.5 180.6,1324.5 181.3,1311.8 182.1,1329.8 182.8,1322.9 183.5,1323.4 184.3,1310.2 185,1308.3 185.7,1308 186.5,1318.5 187.2,1300.9 187.9,1308.7 188.7,1309.6 189.4,1307.1 190.1,1287.8 190.9,1286.3 191.6,1288.8 192.3,1294.4 193,1268.1 193.8,1227 194.5,1301.9 195.2,1308.3 196,1281.4 196.7,1316.7 197.4,1292.7 198.2,1302.3 198.9,1309.8 199.6,1316.7 200.4,1306.9 201.1,1319.7 201.8,1314.1 202.6,1311.3 203.3,1313.1 204,1311.5 204.8,1310.6 205.5,1314 206.2,1326 206.9,1331.9 207.7,1314.6 208.4,1307.9 209.1,1326.1 209.9,1318.2 210.6,1318.8 211.3,1315.5 212.1,1315.5 212.8,1317 213.5,1305.7 214.3,1304.9 215,1262 215.7,1313.3 216.5,1302.4 217.2,1310.1 217.9,1315.7 218.6,1306.5 219.4,1314.8 220.1,1317.1 220.8,1311.3 221.6,1312.9 222.3,1299.4 223,1304.2 223.8,1299.7 224.5,1313.8 225.2,1304.9 226,1309 226.7,1317.2 227.4,1315.2 228.2,1316.8 228.9,1305.8 229.6,1308.2 230.4,1314.3 231.1,1312 231.8,1306.2 232.5,1304.8 233.3,1298.2 234,1303.5 234.7,1322.7 235.5,1322.4 236.2,1311.4 236.9,1307 237.7,1303.7 238.4,1298 239.1,1303.7 239.9,1313.5 240.6,1311 241.3,1298.6 242.1,1310.4 242.8,1312.5 243.5,1310.2 244.2,1308.3 245,1310.5 245.7,1295.6 246.4,1307.1 247.2,1291.3 247.9,1298.2 248.6,1308 249.4,1305.4 250.1,1292.2 250.8,1316.7 251.6,1307.1 252.3,1305.2 253,1284.1 253.8,1303.2 254.5,1292 255.2,1307.6 255.9,1301.8 256.7,1313.9 257.4,1310.1 258.1,1314.6 258.9,1304.7 259.6,1312.2 260.3,1314.9 261.1,1317.6 261.8,1309.2 262.5,1320.9 263.3,1322.9 264,1321.6 264.7,1326.8 265.5,1327.2 266.2,1320.2 266.9,1320.8 267.7,1314.8 268.4,1327.5 269.1,1329.9 269.8,1322.3 270.6,1326.2 271.3,1326.7 272,1326.8 272.8,1320.7 273.5,1327.6 274.2,1326 275,1327.4 275.7,1325.4 276.4,1327.6 277.2,1328.9 277.9,1327.5 278.6,1328 279.4,1322.1 280.1,1321.2 280.8,1322.4 281.5,1323.5 282.3,1317.1 283,1323 283.7,1322.2 284.5,1314.7 285.2,1319.8 285.9,1315.9 286.7,1312.6 287.4,1312.9 288.1,1315.4 288.9,1315.6 289.6,1318 290.3,1318.8 291.1,1324.1 291.8,1322.3 292.5,1323.5 293.3,1322.4 294,1316.7 294.7,1326.3 295.4,1316.7 296.2,1322.4 296.9,1322.5 297.6,1324 298.4,1321.7 299.1,1328.6 299.8,1324.7 300.6,1321.4 301.3,1327.1 302,1322 302.8,1326.5 303.5,1324.4 304.2,1326.8 305,1330.6 305.7,1329.2 306.4,1325.2 307.1,1329.2 307.9,1327.5 308.6,1324.7 309.3,1322.4 310.1,1327 310.8,1326.7 311.5,1330.6 312.3,1330.7 313,1327.1 313.7,1324.5 314.5,1330 315.2,1321 315.9,1318.4 316.7,1326.7 317.4,1327.2 318.1,1322.4 318.9,1327.4 319.6,1330 320.3,1324.8 321,1325.4 321.8,1323.3 322.5,1324 323.2,1330.8 324,1324.9 324.7,1330.7 325.4,1330.3 326.2,1327 326.9,1323.7 327.6,1331 328.4,1326 329.1,1325.2 329.8,1324.3 330.6,1331 331.3,1326 332,1323.9 332.7,1325.9 333.5,1322.3 334.2,1327.3 334.9,1325.5 335.7,1324 336.4,1329 337.1,1329.4 337.9,1321.2 338.6,1326.4 339.3,1323.8 340.1,1330.6 340.8,1329 341.5,1323.5 342.3,1323.8 343,1322.6 343.7,1331.1 344.4,1324 345.2,1327.2 345.9,1325.9 346.6,1327.6 347.4,1327.2 348.1,1328.6 348.8,1322.2 349.6,1328.8 350.3,1324.1 351,1326.5 351.8,1324.5 352.5,1324.1 353.2,1326.5 354,1325.8 354.7,1324.7 355.4,1328.7 356.2,1327.1 356.9,1321.4 357.6,1323.6 358.3,1325.7 359.1,1330.5 359.8,1330.2 360.5,1326.7 361.3,1321.2 362,1329 362.7,1325.4 363.5,1327 364.2,1328.3 364.9,1327.6 365.7,1326 366.4,1330.4 367.1,1325 367.9,1325.1 368.6,1329.8 369.3,1323.1 370,1324.1 370.8,1329.6 371.5,1321.7 372.2,1329.7 373,1328.2 373.7,1325.5 374.4,1324 375.2,1329.1 375.9,1330.5 376.6,1322.5 377.4,1326 378.1,1326.7 378.8,1326.2 379.6,1324.5 380.3,1322.7 381,1327.1 381.8,1321.9 382.5,1321.8 383.2,1319 383.9,1329.6 384.7,1329.3 385.4,1328 386.1,1321.3 386.9,1328.6 387.6,1331.2 388.3,1331.4 389.1,1328.4 389.8,1321.6 390.5,1329.8 391.3,1323.4 392,1327.8 392.7,1331 393.5,1328.5 394.2,1322.5 394.9,1324.1 395.6,1330.6 396.4,1322.6 397.1,1327.4 397.8,1325.4 398.6,1322.8 399.3,1324.4 400,1321.5 400.8,1322.2 401.5,1325 402.2,1321.8 403,1321.7 403.7,1327.1 404.4,1328.9 405.2,1330.3 405.9,1322.5 406.6,1325.6 407.3,1324.4 408.1,1327.4 408.8,1326.2 409.5,1330.9 410.3,1325 411,1321.7 411.7,1328.4 412.5,1322.7 413.2,1327.7 413.9,1326.4 414.7,1330.7 415.4,1326.9 416.1,1327.6 416.9,1323.9 417.6,1326.9 418.3,1323.8 419.1,1329 419.8,1326.5 420.5,1314.5 421.2,1323.6 422,1325 422.7,1328.9 423.4,1323 424.2,1328.6 424.9,1328 425.6,1317.9 426.4,1328.2 427.1,1322.1 427.8,1322.4 428.6,1327.4 429.3,1323.6 430,1330.4 430.8,1326.2 431.5,1324.5 432.2,1329.5 432.9,1321.4 433.7,1328.8 434.4,1321.7 435.1,1322.7 435.9,1331.2 436.6,1328.3 437.3,1323.5 438.1,1322.4 438.8,1331.4 439.5,1328.2 440.3,1329.8 441,1322.6 441.7,1327.8 442.5,1324.9 443.2,1323.6 443.9,1324.7 444.7,1320 445.4,1324.8 446.1,1325.2 446.8,1322.6 447.6,1330 448.3,1328 449,1329.7 449.8,1320.4 450.5,1330.2 451.2,1321.9 452,1327.4 452.7,1327.2 453.4,1329 454.2,1325.4 454.9,1322.2 455.6,1321.5 456.4,1323.3 457.1,1321.6 457.8,1330.6 458.5,1326.3 459.3,1329.3 460,1321.1 460.7,1326.2 461.5,1330.7 462.2,1327.8 462.9,1325.7 463.7,1326.1 464.4,1322.2 465.1,1322.8 465.9,1322.8 466.6,1325.2 467.3,1325.3 468.1,1330.6 468.8,1322.8 469.5,1323.9 470.2,1324.1 471,1322.9 471.7,1324.2 472.4,1323.7 473.2,1326.3 473.9,1321.5 474.6,1331.1 475.4,1325.1 476.1,1331.3 476.8,1328.6 477.6,1328.4 478.3,1326.2 479,1331.3 479.8,1322.4 480.5,1328.4 481.2,1324.3 482,1328.4 482.7,1329 483.4,1322.9 484.1,1323.3 484.9,1321.4 485.6,1323.7 486.3,1322 487.1,1325.5 487.8,1331.7 488.5,1325.1 489.3,1321.3 490,1326.2 490.7,1324.2 491.5,1329.1 492.2,1322.4 492.9,1322.9 493.7,1323.8 494.4,1328.5 495.1,1331.4 495.8,1328.2 496.6,1325.8 497.3,1331.8 498,1321.2 498.8,1321.8 499.5,1329.6 500.2,1325.6 501,1321.7 501.7,1327.1 502.4,1331.9 503.2,1326.8 503.9,1325 504.6,1322.2 505.4,1322 506.1,1331 506.8,1326.5 507.6,1331.4 508.3,1321.8 509,1316.3 509.7,1321.7 510.5,1325.5 511.2,1321.8 511.9,1324 512.7,1325.6 513.4,1324.5 514.1,1321.7 514.9,1321.6 515.6,1331.8 516.3,1323.2 517.1,1326.8 517.8,1325.6 518.5,1327 519.3,1322.1 520,1324.6 520.7,1322.4 521.4,1327.1 522.2,1331.3 522.9,1327.8 523.6,1330.6 524.4,1323.5 525.1,1321.4 525.8,1327.1 526.6,1326.5 527.3,1327.5 528,1325.3 528.8,1328.1 529.5,1329.2 530.2,1331.2 531,1324.6 531.7,1326.2 532.4,1330.3 533.2,1323.7 533.9,1322.5 534.6,1324.7 535.3,1322.2 536.1,1329.7 536.8,1330.3 537.5,1324.7 538.3,1322.7 539,1322.2 539.7,1324 540.5,1322.2 541.2,1326 541.9,1327.6 542.7,1324 543.4,1322 544.1,1320.2 544.9,1321.8 545.6,1323.5 546.3,1324.5 547,1325.4 547.8,1322.4 548.5,1325.9 549.2,1324.8 550,1329.6 550.7,1327.4 551.4,1331.2 552.2,1328.5 552.9,1329.7 553.6,1327.7 554.4,1326.2 555.1,1330.3 555.8,1328.6 556.6,1331.9 557.3,1329.4 558,1329.1 558.7,1324.3 559.5,1330.3 560.2,1319.2 560.9,1322.8 561.7,1322.1 562.4,1323.3 563.1,1324.3 563.9,1328.9 564.6,1324.6 565.3,1322.1 566.1,1329.8 566.8,1327.6 567.5,1321.7 568.3,1322 569,1322.9 569.7,1325.4 570.5,1330.9 571.2,1331.9 571.9,1328.2 572.6,1324 573.4,1326.2 574.1,1325.5 574.8,1325.1 575.6,1321.6 576.3,1327.9 577,1330.6 577.8,1310 578.5,1322.2 579.2,1326.9 580,1322.7 580.7,1328.5 581.4,1325.4 582.2,1330.8 582.9,1329 583.6,1321.3 584.3,1323.3 585.1,1330 585.8,1324.6 586.5,1324.2 587.3,1324.1 588,1327.7 588.7,1329.5 589.5,1324.7 590.2,1329.6 590.9,1325.1 591.7,1319.2 592.4,1327.3 593.1,1322.6 593.9,1318.1 594.6,1328.8 595.3,1317.5 596.1,1323.8 596.8,1322.5 597.5,1327.1 598.2,1321.1 599,1318.8 599.7,1319.4 600.4,1318.6 601.2,1322.9 601.9,1320.8 602.6,1325.2 603.4,1320 604.1,1321.4 604.8,1320.6 605.6,1327.8 606.3,1326.6 607,1326.9 607.8,1324.4 608.5,1321.8 609.2,1318.3 609.9,1327.6 610.7,1323.7 611.4,1318.9 612.1,1321.7 612.9,1322.1 613.6,1329.4 614.3,1331.8 615.1,1326.1 615.8,1332.2 616.5,1328.8 617.3,1332.6 618,1334.8 618.7,1332.6 619.5,1325.4 620.2,1329.8 620.9,1325.6 621.6,1328.9 622.4,1327.8 623.1,1319.8 623.8,1320.5 624.6,1318.5 625.3,1312.5 626,1317.6 626.8,1318.8 627.5,1286 628.2,1327.7 629,1323.5 629.7,1335.3 630.4,1331.5 631.2,1330.6 631.9,1323.9 632.6,1320.7 633.4,1317.1 634.1,1323.1 634.8,1315.4 635.5,1320.9 636.3,1323.3 637,1320.5 637.7,1316.9 638.5,1314.5 639.2,1315.8 639.9,1320.1 640.7,1323.5 641.4,1326.5 642.1,1326.8 642.9,1322.9 643.6,1331 644.3,1323.9 645.1,1329 645.8,1321.5 646.5,1329.4 647.2,1328.5 648,1331.8 648.7,1331.1 649.4,1328.8 650.2,1330.5 650.9,1329.4 651.6,1328.1 652.4,1322.6 653.1,1324.1 653.8,1328.2 654.6,1314.8 655.3,1327.8 656,1319.1 656.8,1316 657.5,1268 658.2,1316.8 659,1314 659.7,1323.6 660.4,1328.6 661.1,1329.5 661.9,1325.6 662.6,1323.2 663.3,1320.7 664.1,1329.4 664.8,1328.8 665.5,1331.4 666.3,1328.6 667,1333.4 667.7,1325.2 668.5,1325.6 668.5,1457.5 667.7,1476.3 667,1459.7 666.3,1462.4 665.5,1480.5 664.8,1481.2 664.1,1462.3 663.3,1488.9 662.6,1496 661.9,1489.5 661.1,1465 660.4,1493.9 659.7,1472.4 659,1476.2 658.2,1497.8 657.5,1498.4 656.8,1478.6 656,1534 655.3,1476.5 654.6,1504.5 653.8,1473 653.1,1481.1 652.4,1472.3 651.6,1488.5 650.9,1483.4 650.2,1463.6 649.4,1449.8 648.7,1446.6 648,1460.8 647.2,1459.8 646.5,1484.2 645.8,1453.3 645.1,1458.8 644.3,1599 643.6,1466.2 642.9,1530 642.1,1473.2 641.4,1463.8 640.7,1484.8 639.9,1489.8 639.2,1477.6 638.5,1470 637.7,1507.6 637,1474.4 636.3,1482.3 635.5,1500.4 634.8,1496 634.1,1505.8 633.4,1525.5 632.6,1492.2 631.9,1522.9 631.2,1522.5 630.4,1521.7 629.7,1591 629,1524.4 628.2,1520.3 627.5,1568 626.8,1523.7 626,1505 625.3,1516 624.6,1493.9 623.8,1461.5 623.1,1466.9 622.4,1487.6 621.6,1475.6 620.9,1467.5 620.2,1481.6 619.5,1448 618.7,1493.4 618,1500 617.3,1454.7 616.5,1486.6 615.8,1470.4 615.1,1456.1 614.3,1457.5 613.6,1453.3 612.9,1445.6 612.1,1433.3 611.4,1448 610.7,1430.8 609.9,1422.2 609.2,1425.8 608.5,1421.1 607.8,1420.9 607,1418.7 606.3,1424.4 605.6,1415.8 604.8,1420.5 604.1,1436.1 603.4,1415.8 602.6,1423.5 601.9,1440.2 601.2,1460 600.4,1416.9 599.7,1416.6 599,1425.8 598.2,1428.1 597.5,1402.1 596.8,1398.9 596.1,1405.9 595.3,1401.5 594.6,1409.8 593.9,1405.9 593.1,1392 592.4,1403.2 591.7,1389.2 590.9,1390.7 590.2,1399.4 589.5,1400.1 588.7,1392.7 588,1400.4 587.3,1403.4 586.5,1403.5 585.8,1402.5 585.1,1403.8 584.3,1399.8 583.6,1392.1 582.9,1394.3 582.2,1401.4 581.4,1398.1 580.7,1408.9 580,1395.5 579.2,1411.9 578.5,1416.4 577.8,1392.9 577,1401.8 576.3,1405.2 575.6,1408.4 574.8,1400.1 574.1,1408.3 573.4,1401.2 572.6,1405.2 571.9,1420.8 571.2,1415.8 570.5,1401.8 569.7,1421.6 569,1403.9 568.3,1401.5 567.5,1417.3 566.8,1398.8 566.1,1416.4 565.3,1410.8 564.6,1410.3 563.9,1392.4 563.1,1407.7 562.4,1388.1 561.7,1389.1 560.9,1385.8 560.2,1394.1 559.5,1393.2 558.7,1377.7 558,1390 557.3,1386.7 556.6,1376.1 555.8,1377.3 555.1,1383.9 554.4,1378.7 553.6,1377.5 552.9,1383 552.2,1377.2 551.4,1384.8 550.7,1370.6 550,1381.8 549.2,1369.1 548.5,1373.9 547.8,1375.6 547,1375.7 546.3,1362.7 545.6,1370.5 544.9,1369.4 544.1,1360.8 543.4,1361.6 542.7,1371.7 541.9,1365.8 541.2,1361.7 540.5,1371.8 539.7,1370.6 539,1359 538.3,1362.1 537.5,1365 536.8,1360.4 536.1,1368.5 535.3,1361.8 534.6,1355 533.9,1365.1 533.2,1361.7 532.4,1362.2 531.7,1356.6 531,1359 530.2,1357.1 529.5,1363.4 528.8,1362.5 528,1354.7 527.3,1357.5 526.6,1357.2 525.8,1372 525.1,1353.2 524.4,1359.3 523.6,1356.2 522.9,1362.1 522.2,1360.7 521.4,1357.2 520.7,1359.5 520,1358.2 519.3,1363.8 518.5,1362.8 517.8,1362.2 517.1,1363.9 516.3,1361.3 515.6,1357 514.9,1355.5 514.1,1353.1 513.4,1362.1 512.7,1364.3 511.9,1356.5 511.2,1354.4 510.5,1360.1 509.7,1359 509,1353.3 508.3,1360.3 507.6,1361.7 506.8,1361.6 506.1,1366.3 505.4,1357.7 504.6,1359.4 503.9,1354.4 503.2,1364.4 502.4,1358.9 501.7,1352.5 501,1356.8 500.2,1353.5 499.5,1355 498.8,1363.6 498,1357.3 497.3,1360.6 496.6,1364 495.8,1363.7 495.1,1361.6 494.4,1359.9 493.7,1353.2 492.9,1352.5 492.2,1359.7 491.5,1360.9 490.7,1359.2 490,1353 489.3,1361.5 488.5,1361.9 487.8,1356.4 487.1,1359.8 486.3,1360.6 485.6,1357.2 484.9,1357.1 484.1,1354.8 483.4,1359 482.7,1352.7 482,1360.6 481.2,1352.7 480.5,1357.7 479.8,1362 479,1356.8 478.3,1358.7 477.6,1362.4 476.8,1353.9 476.1,1361.6 475.4,1358.9 474.6,1361.2 473.9,1366.2 473.2,1353.4 472.4,1360.1 471.7,1355.5 471,1353.8 470.2,1362.4 469.5,1358.4 468.8,1353.6 468.1,1363 467.3,1354.4 466.6,1362.6 465.9,1364.1 465.1,1362.6 464.4,1362.2 463.7,1362.1 462.9,1354.3 462.2,1353.7 461.5,1353.8 460.7,1354.4 460,1355.8 459.3,1356.5 458.5,1361.7 457.8,1360 457.1,1362.9 456.4,1354.3 455.6,1364.3 454.9,1353.3 454.2,1363.7 453.4,1363.8 452.7,1357.8 452,1361.2 451.2,1363 450.5,1360.6 449.8,1359.8 449,1363.3 448.3,1359.4 447.6,1358.1 446.8,1360.9 446.1,1360.1 445.4,1353.6 444.7,1358.6 443.9,1358 443.2,1357.7 442.5,1363.6 441.7,1364.4 441,1357.6 440.3,1360.4 439.5,1364 438.8,1360.8 438.1,1363.9 437.3,1356.4 436.6,1353.6 435.9,1353.9 435.1,1360.4 434.4,1359.5 433.7,1353.2 432.9,1363.6 432.2,1360.5 431.5,1357.2 430.8,1355.9 430,1363.6 429.3,1355.9 428.6,1354.8 427.8,1359 427.1,1352.6 426.4,1357.1 425.6,1362.1 424.9,1362.7 424.2,1357.7 423.4,1355.4 422.7,1354.3 422,1352.7 421.2,1361.1 420.5,1360 419.8,1353.3 419.1,1361.2 418.3,1354.6 417.6,1354 416.9,1358.3 416.1,1363.4 415.4,1363 414.7,1355.5 413.9,1361.3 413.2,1360.3 412.5,1358.9 411.7,1354.1 411,1354.8 410.3,1355 409.5,1361.3 408.8,1362.8 408.1,1354.7 407.3,1358.8 406.6,1359.5 405.9,1356.9 405.2,1356.8 404.4,1354.6 403.7,1353.4 403,1365 402.2,1355 401.5,1356.5 400.8,1361 400,1357.1 399.3,1359.2 398.6,1356.2 397.8,1360.8 397.1,1363.7 396.4,1358.5 395.6,1353.3 394.9,1355.5 394.2,1362.6 393.5,1356.1 392.7,1362.9 392,1362.1 391.3,1359.8 390.5,1356.2 389.8,1365.5 389.1,1360.4 388.3,1356.8 387.6,1363.3 386.9,1356.6 386.1,1363.3 385.4,1364.2 384.7,1364.1 383.9,1359 383.2,1357.6 382.5,1354.6 381.8,1356.1 381,1360.9 380.3,1358.3 379.6,1354.9 378.8,1355.5 378.1,1355.4 377.4,1356.5 376.6,1362.2 375.9,1365.2 375.2,1360.3 374.4,1362.9 373.7,1365.3 373,1365.1 372.2,1357.5 371.5,1358.4 370.8,1360.2 370,1359.4 369.3,1354.3 368.6,1362.7 367.9,1354.4 367.1,1354 366.4,1354.3 365.7,1359.2 364.9,1362.9 364.2,1364.5 363.5,1357.5 362.7,1360.9 362,1360.1 361.3,1361.3 360.5,1365.3 359.8,1355.6 359.1,1356.4 358.3,1356.5 357.6,1356.7 356.9,1355.9 356.2,1354.7 355.4,1360.7 354.7,1358.8 354,1366.1 353.2,1360.3 352.5,1361.7 351.8,1362 351,1355.9 350.3,1359.5 349.6,1363.5 348.8,1362.6 348.1,1359 347.4,1356 346.6,1358.9 345.9,1362.4 345.2,1354.9 344.4,1359.3 343.7,1359.7 343,1360.4 342.3,1361 341.5,1358.6 340.8,1355.1 340.1,1362.5 339.3,1358.8 338.6,1366.9 337.9,1356.8 337.1,1362.6 336.4,1363 335.7,1365.7 334.9,1365.7 334.2,1364.5 333.5,1356.6 332.7,1358.2 332,1363.2 331.3,1365.3 330.6,1366.9 329.8,1356.9 329.1,1361.6 328.4,1366.1 327.6,1357.1 326.9,1366.5 326.2,1357.8 325.4,1362.9 324.7,1359.8 324,1364.1 323.2,1365.9 322.5,1360.7 321.8,1362.6 321,1360.2 320.3,1366.1 319.6,1355.8 318.9,1355.7 318.1,1357.5 317.4,1362.6 316.7,1362.4 315.9,1371.3 315.2,1366 314.5,1358.6 313.7,1367.3 313,1363.4 312.3,1366.9 311.5,1363.6 310.8,1361.9 310.1,1371.4 309.3,1364.9 308.6,1360 307.9,1357.9 307.1,1360.3 306.4,1364.4 305.7,1360.6 305,1363.9 304.2,1363.1 303.5,1367.1 302.8,1357.9 302,1361.7 301.3,1361.8 300.6,1366 299.8,1362.2 299.1,1358.8 298.4,1367.3 297.6,1358.3 296.9,1359.6 296.2,1364.4 295.4,1367 294.7,1362 294,1360.9 293.3,1371.4 292.5,1361.9 291.8,1371.1 291.1,1363.2 290.3,1367.4 289.6,1363.9 288.9,1371.9 288.1,1370.5 287.4,1372.8 286.7,1374 285.9,1373 285.2,1375.3 284.5,1370.1 283.7,1372 283,1369.9 282.3,1378.9 281.5,1368.7 280.8,1368.5 280.1,1368.1 279.4,1374.4 278.6,1375.7 277.9,1377.2 277.2,1387.8 276.4,1379.2 275.7,1383.2 275,1390.2 274.2,1397.8 273.5,1411.2 272.8,1427.7 272,1399.5 271.3,1433.1 270.6,1424.8 269.8,1413.2 269.1,1394.6 268.4,1385.9 267.7,1409.1 266.9,1416.5 266.2,1389.7 265.5,1414.6 264.7,1409.3 264,1392.1 263.3,1436.6 262.5,1441.8 261.8,1441.3 261.1,1415.6 260.3,1423.6 259.6,1425.8 258.9,1430.9 258.1,1447.6 257.4,1409.5 256.7,1447.1 255.9,1446.6 255.2,1459.6 254.5,1421.7 253.8,1466.7 253,1427.7 252.3,1445.5 251.6,1439.3 250.8,1458.6 250.1,1434.6 249.4,1468.1 248.6,1416.6 247.9,1423 247.2,1420.9 246.4,1425.8 245.7,1419.1 245,1434.2 244.2,1453.3 243.5,1428.9 242.8,1468.1 242.1,1452.7 241.3,1458.9 240.6,1440 239.9,1433.1 239.1,1445.4 238.4,1462.3 237.7,1465.9 236.9,1433.3 236.2,1465 235.5,1428.6 234.7,1456.6 234,1452.2 233.3,1418.5 232.5,1432.5 231.8,1443.4 231.1,1441.4 230.4,1443.4 229.6,1566 228.9,1428.6 228.2,1473.2 227.4,1454.3 226.7,1464.2 226,1446.9 225.2,1434.3 224.5,1422.6 223.8,1429.9 223,1456.5 222.3,1424.7 221.6,1460.7 220.8,1446.9 220.1,1452.4 219.4,1579 218.6,1461.9 217.9,1499.2 217.2,1454.9 216.5,1458.7 215.7,1515.8 215,1524.6 214.3,1486.1 213.5,1486.8 212.8,1511.8 212.1,1511.1 211.3,1526.8 210.6,1584 209.9,1533.7 209.1,1531 208.4,1490.6 207.7,1484 206.9,1472.6 206.2,1501.9 205.5,1488.7 204.8,1492.7 204,1463.9 203.3,1496 202.6,1488.7 201.8,1487.5 201.1,1471.9 200.4,1502.4 199.6,1484.5 198.9,1487 198.2,1506 197.4,1483.8 196.7,1524 196,1491.8 195.2,1489.1 194.5,1489.3 193.8,1491.1 193,1495.1 192.3,1497.7 191.6,1484 190.9,1486.8 190.1,1503.2 189.4,1466.3 188.7,1507.3 187.9,1480.1 187.2,1497.5 186.5,1480.4 185.7,1523.3 185,1528.6 184.3,1527.3 183.5,1512.6 182.8,1514.8 182.1,1554 181.3,1521.5 180.6,1529.6 179.9,1496.7 179.2,1511.3 178.4,1512 177.7,1493.5 177,1510.5 176.2,1519.8 175.5,1528.8 174.8,1486.5 174,1536 173.3,1518.9 172.6,1487.9 171.8,1488.4 171.1,1532.6 170.4,1523.5 169.6,1496.6 168.9,1527.7 168.2,1526.8 167.5,1521.4 166.7,1477.6 166,1505.2 165.3,1490 164.5,1506.7 163.8,1482.4 163.1,1489.7 162.3,1480.1 161.6,1473.9 160.9,1489.9 160.1,1485.9 159.4,1484 158.7,1475.2 157.9,1491.6 157.2,1494.3 156.5,1487.7 155.7,1488.4 155,1479.2 154.3,1479.9 153.6,1469.1 152.8,1477.7 152.1,1480.2 151.4,1476.8 150.6,1488.7 149.9,1489.1 149.2,1477.5 148.4,1500.3 147.7,1476.7 147,1546 146.2,1492.4 145.5,1514.5 144.8,1516.9 144,1523.8 143.3,1504.4 142.6,1532.3 141.9,1512.9 141.1,1546 140.4,1525.8 139.7,1484.5 138.9,1508 138.2,1497.7 137.5,1529.1 136.7,1533.8 136,1488Z" fill="#e8e0d6" stroke="none"/>
<path d="M136,1331.6 136.7,1331.7 137.5,1330.9 138.2,1332.2 138.9,1325.9 139.7,1328.5 140.4,1304.4 141.1,1314.2 141.9,1324.7 142.6,1316.1 143.3,1322.1 144,1305.7 144.8,1315.7 145.5,1313 146.2,1320 147,1319.7 147.7,1305 148.4,1308.3 149.2,1309.1 149.9,1327.7 150.6,1324.5 151.4,1309.7 152.1,1327.1 152.8,1311.1 153.6,1323.5 154.3,1312.1 155,1309.8 155.7,1329.9 156.5,1315.9 157.2,1316.5 157.9,1329.5 158.7,1325.5 159.4,1312.5 160.1,1322.7 160.9,1311.6 161.6,1315.6 162.3,1307.4 163.1,1325.2 163.8,1321.7 164.5,1324.2 165.3,1317 166,1298.8 166.7,1292.9 167.5,1280.7 168.2,1272.5 168.9,1264.5 169.6,1267.9 170.4,1273.4 171.1,1254.8 171.8,1271.9 172.6,1260.5 173.3,1250 174,1280.8 174.8,1278.1 175.5,1278.8 176.2,1287.3 177,1297.9 177.7,1285 178.4,1315.9 179.2,1294.7 179.9,1318.5 180.6,1324.5 181.3,1311.8 182.1,1329.8 182.8,1322.9 183.5,1323.4 184.3,1310.2 185,1308.3 185.7,1308 186.5,1318.5 187.2,1300.9 187.9,1308.7 188.7,1309.6 189.4,1307.1 190.1,1287.8 190.9,1286.3 191.6,1288.8 192.3,1294.4 193,1268.1 193.8,1227 194.5,1301.9 195.2,1308.3 196,1281.4 196.7,1316.7 197.4,1292.7 198.2,1302.3 198.9,1309.8 199.6,1316.7 200.4,1306.9 201.1,1319.7 201.8,1314.1 202.6,1311.3 203.3,1313.1 204,1311.5 204.8,1310.6 205.5,1314 206.2,1326 206.9,1331.9 207.7,1314.6 208.4,1307.9 209.1,1326.1 209.9,1318.2 210.6,1318.8 211.3,1315.5 212.1,1315.5 212.8,1317 213.5,1305.7 214.3,1304.9 215,1262 215.7,1313.3 216.5,1302.4 217.2,1310.1 217.9,1315.7 218.6,1306.5 219.4,1314.8 220.1,1317.1 220.8,1311.3 221.6,1312.9 222.3,1299.4 223,1304.2 223.8,1299.7 224.5,1313.8 225.2,1304.9 226,1309 226.7,1317.2 227.4,1315.2 228.2,1316.8 228.9,1305.8 229.6,1308.2 230.4,1314.3 231.1,1312 231.8,1306.2 232.5,1304.8 233.3,1298.2 234,1303.5 234.7,1322.7 235.5,1322.4 236.2,1311.4 236.9,1307 237.7,1303.7 238.4,1298 239.1,1303.7 239.9,1313.5 240.6,1311 241.3,1298.6 242.1,1310.4 242.8,1312.5 243.5,1310.2 244.2,1308.3 245,1310.5 245.7,1295.6 246.4,1307.1 247.2,1291.3 247.9,1298.2 248.6,1308 249.4,1305.4 250.1,1292.2 250.8,1316.7 251.6,1307.1 252.3,1305.2 253,1284.1 253.8,1303.2 254.5,1292 255.2,1307.6 255.9,1301.8 256.7,1313.9 257.4,1310.1 258.1,1314.6 258.9,1304.7 259.6,1312.2 260.3,1314.9 261.1,1317.6 261.8,1309.2 262.5,1320.9 263.3,1322.9 264,1321.6 264.7,1326.8 265.5,1327.2 266.2,1320.2 266.9,1320.8 267.7,1314.8 268.4,1327.5 269.1,1329.9 269.8,1322.3 270.6,1326.2 271.3,1326.7 272,1326.8 272.8,1320.7 273.5,1327.6 274.2,1326 275,1327.4 275.7,1325.4 276.4,1327.6 277.2,1328.9 277.9,1327.5 278.6,1328 279.4,1322.1 280.1,1321.2 280.8,1322.4 281.5,1323.5 282.3,1317.1 283,1323 283.7,1322.2 284.5,1314.7 285.2,1319.8 285.9,1315.9 286.7,1312.6 287.4,1312.9 288.1,1315.4 288.9,1315.6 289.6,1318 290.3,1318.8 291.1,1324.1 291.8,1322.3 292.5,1323.5 293.3,1322.4 294,1316.7 294.7,1326.3 295.4,1316.7 296.2,1322.4 296.9,1322.5 297.6,1324 298.4,1321.7 299.1,1328.6 299.8,1324.7 300.6,1321.4 301.3,1327.1 302,1322 302.8,1326.5 303.5,1324.4 304.2,1326.8 305,1330.6 305.7,1329.2 306.4,1325.2 307.1,1329.2 307.9,1327.5 308.6,1324.7 309.3,1322.4 310.1,1327 310.8,1326.7 311.5,1330.6 312.3,1330.7 313,1327.1 313.7,1324.5 314.5,1330 315.2,1321 315.9,1318.4 316.7,1326.7 317.4,1327.2 318.1,1322.4 318.9,1327.4 319.6,1330 320.3,1324.8 321,1325.4 321.8,1323.3 322.5,1324 323.2,1330.8 324,1324.9 324.7,1330.7 325.4,1330.3 326.2,1327 326.9,1323.7 327.6,1331 328.4,1326 329.1,1325.2 329.8,1324.3 330.6,1331 331.3,1326 332,1323.9 332.7,1325.9 333.5,1322.3 334.2,1327.3 334.9,1325.5 335.7,1324 336.4,1329 337.1,1329.4 337.9,1321.2 338.6,1326.4 339.3,1323.8 340.1,1330.6 340.8,1329 341.5,1323.5 342.3,1323.8 343,1322.6 343.7,1331.1 344.4,1324 345.2,1327.2 345.9,1325.9 346.6,1327.6 347.4,1327.2 348.1,1328.6 348.8,1322.2 349.6,1328.8 350.3,1324.1 351,1326.5 351.8,1324.5 352.5,1324.1 353.2,1326.5 354,1325.8 354.7,1324.7 355.4,1328.7 356.2,1327.1 356.9,1321.4 357.6,1323.6 358.3,1325.7 359.1,1330.5 359.8,1330.2 360.5,1326.7 361.3,1321.2 362,1329 362.7,1325.4 363.5,1327 364.2,1328.3 364.9,1327.6 365.7,1326 366.4,1330.4 367.1,1325 367.9,1325.1 368.6,1329.8 369.3,1323.1 370,1324.1 370.8,1329.6 371.5,1321.7 372.2,1329.7 373,1328.2 373.7,1325.5 374.4,1324 375.2,1329.1 375.9,1330.5 376.6,1322.5 377.4,1326 378.1,1326.7 378.8,1326.2 379.6,1324.5 380.3,1322.7 381,1327.1 381.8,1321.9 382.5,1321.8 383.2,1319 383.9,1329.6 384.7,1329.3 385.4,1328 386.1,1321.3 386.9,1328.6 387.6,1331.2 388.3,1331.4 389.1,1328.4 389.8,1321.6 390.5,1329.8 391.3,1323.4 392,1327.8 392.7,1331 393.5,1328.5 394.2,1322.5 394.9,1324.1 395.6,1330.6 396.4,1322.6 397.1,1327.4 397.8,1325.4 398.6,1322.8 399.3,1324.4 400,1321.5 400.8,1322.2 401.5,1325 402.2,1321.8 403,1321.7 403.7,1327.1 404.4,1328.9 405.2,1330.3 405.9,1322.5 406.6,1325.6 407.3,1324.4 408.1,1327.4 408.8,1326.2 409.5,1330.9 410.3,1325 411,1321.7 411.7,1328.4 412.5,1322.7 413.2,1327.7 413.9,1326.4 414.7,1330.7 415.4,1326.9 416.1,1327.6 416.9,1323.9 417.6,1326.9 418.3,1323.8 419.1,1329 419.8,1326.5 420.5,1314.5 421.2,1323.6 422,1325 422.7,1328.9 423.4,1323 424.2,1328.6 424.9,1328 425.6,1317.9 426.4,1328.2 427.1,1322.1 427.8,1322.4 428.6,1327.4 429.3,1323.6 430,1330.4 430.8,1326.2 431.5,1324.5 432.2,1329.5 432.9,1321.4 433.7,1328.8 434.4,1321.7 435.1,1322.7 435.9,1331.2 436.6,1328.3 437.3,1323.5 438.1,1322.4 438.8,1331.4 439.5,1328.2 440.3,1329.8 441,1322.6 441.7,1327.8 442.5,1324.9 443.2,1323.6 443.9,1324.7 444.7,1320 445.4,1324.8 446.1,1325.2 446.8,1322.6 447.6,1330 448.3,1328 449,1329.7 449.8,1320.4 450.5,1330.2 451.2,1321.9 452,1327.4 452.7,1327.2 453.4,1329 454.2,1325.4 454.9,1322.2 455.6,1321.5 456.4,1323.3 457.1,1321.6 457.8,1330.6 458.5,1326.3 459.3,1329.3 460,1321.1 460.7,1326.2 461.5,1330.7 462.2,1327.8 462.9,1325.7 463.7,1326.1 464.4,1322.2 465.1,1322.8 465.9,1322.8 466.6,1325.2 467.3,1325.3 468.1,1330.6 468.8,1322.8 469.5,1323.9 470.2,1324.1 471,1322.9 471.7,1324.2 472.4,1323.7 473.2,1326.3 473.9,1321.5 474.6,1331.1 475.4,1325.1 476.1,1331.3 476.8,1328.6 477.6,1328.4 478.3,1326.2 479,1331.3 479.8,1322.4 480.5,1328.4 481.2,1324.3 482,1328.4 482.7,1329 483.4,1322.9 484.1,1323.3 484.9,1321.4 485.6,1323.7 486.3,1322 487.1,1325.5 487.8,1331.7 488.5,1325.1 489.3,1321.3 490,1326.2 490.7,1324.2 491.5,1329.1 492.2,1322.4 492.9,1322.9 493.7,1323.8 494.4,1328.5 495.1,1331.4 495.8,1328.2 496.6,1325.8 497.3,1331.8 498,1321.2 498.8,1321.8 499.5,1329.6 500.2,1325.6 501,1321.7 501.7,1327.1 502.4,1331.9 503.2,1326.8 503.9,1325 504.6,1322.2 505.4,1322 506.1,1331 506.8,1326.5 507.6,1331.4 508.3,1321.8 509,1316.3 509.7,1321.7 510.5,1325.5 511.2,1321.8 511.9,1324 512.7,1325.6 513.4,1324.5 514.1,1321.7 514.9,1321.6 515.6,1331.8 516.3,1323.2 517.1,1326.8 517.8,1325.6 518.5,1327 519.3,1322.1 520,1324.6 520.7,1322.4 521.4,1327.1 522.2,1331.3 522.9,1327.8 523.6,1330.6 524.4,1323.5 525.1,1321.4 525.8,1327.1 526.6,1326.5 527.3,1327.5 528,1325.3 528.8,1328.1 529.5,1329.2 530.2,1331.2 531,1324.6 531.7,1326.2 532.4,1330.3 533.2,1323.7 533.9,1322.5 534.6,1324.7 535.3,1322.2 536.1,1329.7 536.8,1330.3 537.5,1324.7 538.3,1322.7 539,1322.2 539.7,1324 540.5,1322.2 541.2,1326 541.9,1327.6 542.7,1324 543.4,1322 544.1,1320.2 544.9,1321.8 545.6,1323.5 546.3,1324.5 547,1325.4 547.8,1322.4 548.5,1325.9 549.2,1324.8 550,1329.6 550.7,1327.4 551.4,1331.2 552.2,1328.5 552.9,1329.7 553.6,1327.7 554.4,1326.2 555.1,1330.3 555.8,1328.6 556.6,1331.9 557.3,1329.4 558,1329.1 558.7,1324.3 559.5,1330.3 560.2,1319.2 560.9,1322.8 561.7,1322.1 562.4,1323.3 563.1,1324.3 563.9,1328.9 564.6,1324.6 565.3,1322.1 566.1,1329.8 566.8,1327.6 567.5,1321.7 568.3,1322 569,1322.9 569.7,1325.4 570.5,1330.9 571.2,1331.9 571.9,1328.2 572.6,1324 573.4,1326.2 574.1,1325.5 574.8,1325.1 575.6,1321.6 576.3,1327.9 577,1330.6 577.8,1310 578.5,1322.2 579.2,1326.9 580,1322.7 580.7,1328.5 581.4,1325.4 582.2,1330.8 582.9,1329 583.6,1321.3 584.3,1323.3 585.1,1330 585.8,1324.6 586.5,1324.2 587.3,1324.1 588,1327.7 588.7,1329.5 589.5,1324.7 590.2,1329.6 590.9,1325.1 591.7,1319.2 592.4,1327.3 593.1,1322.6 593.9,1318.1 594.6,1328.8 595.3,1317.5 596.1,1323.8 596.8,1322.5 597.5,1327.1 598.2,1321.1 599,1318.8 599.7,1319.4 600.4,1318.6 601.2,1322.9 601.9,1320.8 602.6,1325.2 603.4,1320 604.1,1321.4 604.8,1320.6 605.6,1327.8 606.3,1326.6 607,1326.9 607.8,1324.4 608.5,1321.8 609.2,1318.3 609.9,1327.6 610.7,1323.7 611.4,1318.9 612.1,1321.7 612.9,1322.1 613.6,1329.4 614.3,1331.8 615.1,1326.1 615.8,1332.2 616.5,1328.8 617.3,1332.6 618,1334.8 618.7,1332.6 619.5,1325.4 620.2,1329.8 620.9,1325.6 621.6,1328.9 622.4,1327.8 623.1,1319.8 623.8,1320.5 624.6,1318.5 625.3,1312.5 626,1317.6 626.8,1318.8 627.5,1286 628.2,1327.7 629,1323.5 629.7,1335.3 630.4,1331.5 631.2,1330.6 631.9,1323.9 632.6,1320.7 633.4,1317.1 634.1,1323.1 634.8,1315.4 635.5,1320.9 636.3,1323.3 637,1320.5 637.7,1316.9 638.5,1314.5 639.2,1315.8 639.9,1320.1 640.7,1323.5 641.4,1326.5 642.1,1326.8 642.9,1322.9 643.6,1331 644.3,1323.9 645.1,1329 645.8,1321.5 646.5,1329.4 647.2,1328.5 648,1331.8 648.7,1331.1 649.4,1328.8 650.2,1330.5 650.9,1329.4 651.6,1328.1 652.4,1322.6 653.1,1324.1 653.8,1328.2 654.6,1314.8 655.3,1327.8 656,1319.1 656.8,1316 657.5,1268 658.2,1316.8 659,1314 659.7,1323.6 660.4,1328.6 661.1,1329.5 661.9,1325.6 662.6,1323.2 663.3,1320.7 664.1,1329.4 664.8,1328.8 665.5,1331.4 666.3,1328.6 667,1333.4 667.7,1325.2 668.5,1325.6" fill="none" stroke="#2b2118" stroke-width="1.4" stroke-linejoin="round"/>
<path d="M136,1488 136.7,1533.8 137.5,1529.1 138.2,1497.7 138.9,1508 139.7,1484.5 140.4,1525.8 141.1,1546 141.9,1512.9 142.6,1532.3 143.3,1504.4 144,1523.8 144.8,1516.9 145.5,1514.5 146.2,1492.4 147,1546 147.7,1476.7 148.4,1500.3 149.2,1477.5 149.9,1489.1 150.6,1488.7 151.4,1476.8 152.1,1480.2 152.8,1477.7 153.6,1469.1 154.3,1479.9 155,1479.2 155.7,1488.4 156.5,1487.7 157.2,1494.3 157.9,1491.6 158.7,1475.2 159.4,1484 160.1,1485.9 160.9,1489.9 161.6,1473.9 162.3,1480.1 163.1,1489.7 163.8,1482.4 164.5,1506.7 165.3,1490 166,1505.2 166.7,1477.6 167.5,1521.4 168.2,1526.8 168.9,1527.7 169.6,1496.6 170.4,1523.5 171.1,1532.6 171.8,1488.4 172.6,1487.9 173.3,1518.9 174,1536 174.8,1486.5 175.5,1528.8 176.2,1519.8 177,1510.5 177.7,1493.5 178.4,1512 179.2,1511.3 179.9,1496.7 180.6,1529.6 181.3,1521.5 182.1,1554 182.8,1514.8 183.5,1512.6 184.3,1527.3 185,1528.6 185.7,1523.3 186.5,1480.4 187.2,1497.5 187.9,1480.1 188.7,1507.3 189.4,1466.3 190.1,1503.2 190.9,1486.8 191.6,1484 192.3,1497.7 193,1495.1 193.8,1491.1 194.5,1489.3 195.2,1489.1 196,1491.8 196.7,1524 197.4,1483.8 198.2,1506 198.9,1487 199.6,1484.5 200.4,1502.4 201.1,1471.9 201.8,1487.5 202.6,1488.7 203.3,1496 204,1463.9 204.8,1492.7 205.5,1488.7 206.2,1501.9 206.9,1472.6 207.7,1484 208.4,1490.6 209.1,1531 209.9,1533.7 210.6,1584 211.3,1526.8 212.1,1511.1 212.8,1511.8 213.5,1486.8 214.3,1486.1 215,1524.6 215.7,1515.8 216.5,1458.7 217.2,1454.9 217.9,1499.2 218.6,1461.9 219.4,1579 220.1,1452.4 220.8,1446.9 221.6,1460.7 222.3,1424.7 223,1456.5 223.8,1429.9 224.5,1422.6 225.2,1434.3 226,1446.9 226.7,1464.2 227.4,1454.3 228.2,1473.2 228.9,1428.6 229.6,1566 230.4,1443.4 231.1,1441.4 231.8,1443.4 232.5,1432.5 233.3,1418.5 234,1452.2 234.7,1456.6 235.5,1428.6 236.2,1465 236.9,1433.3 237.7,1465.9 238.4,1462.3 239.1,1445.4 239.9,1433.1 240.6,1440 241.3,1458.9 242.1,1452.7 242.8,1468.1 243.5,1428.9 244.2,1453.3 245,1434.2 245.7,1419.1 246.4,1425.8 247.2,1420.9 247.9,1423 248.6,1416.6 249.4,1468.1 250.1,1434.6 250.8,1458.6 251.6,1439.3 252.3,1445.5 253,1427.7 253.8,1466.7 254.5,1421.7 255.2,1459.6 255.9,1446.6 256.7,1447.1 257.4,1409.5 258.1,1447.6 258.9,1430.9 259.6,1425.8 260.3,1423.6 261.1,1415.6 261.8,1441.3 262.5,1441.8 263.3,1436.6 264,1392.1 264.7,1409.3 265.5,1414.6 266.2,1389.7 266.9,1416.5 267.7,1409.1 268.4,1385.9 269.1,1394.6 269.8,1413.2 270.6,1424.8 271.3,1433.1 272,1399.5 272.8,1427.7 273.5,1411.2 274.2,1397.8 275,1390.2 275.7,1383.2 276.4,1379.2 277.2,1387.8 277.9,1377.2 278.6,1375.7 279.4,1374.4 280.1,1368.1 280.8,1368.5 281.5,1368.7 282.3,1378.9 283,1369.9 283.7,1372 284.5,1370.1 285.2,1375.3 285.9,1373 286.7,1374 287.4,1372.8 288.1,1370.5 288.9,1371.9 289.6,1363.9 290.3,1367.4 291.1,1363.2 291.8,1371.1 292.5,1361.9 293.3,1371.4 294,1360.9 294.7,1362 295.4,1367 296.2,1364.4 296.9,1359.6 297.6,1358.3 298.4,1367.3 299.1,1358.8 299.8,1362.2 300.6,1366 301.3,1361.8 302,1361.7 302.8,1357.9 303.5,1367.1 304.2,1363.1 305,1363.9 305.7,1360.6 306.4,1364.4 307.1,1360.3 307.9,1357.9 308.6,1360 309.3,1364.9 310.1,1371.4 310.8,1361.9 311.5,1363.6 312.3,1366.9 313,1363.4 313.7,1367.3 314.5,1358.6 315.2,1366 315.9,1371.3 316.7,1362.4 317.4,1362.6 318.1,1357.5 318.9,1355.7 319.6,1355.8 320.3,1366.1 321,1360.2 321.8,1362.6 322.5,1360.7 323.2,1365.9 324,1364.1 324.7,1359.8 325.4,1362.9 326.2,1357.8 326.9,1366.5 327.6,1357.1 328.4,1366.1 329.1,1361.6 329.8,1356.9 330.6,1366.9 331.3,1365.3 332,1363.2 332.7,1358.2 333.5,1356.6 334.2,1364.5 334.9,1365.7 335.7,1365.7 336.4,1363 337.1,1362.6 337.9,1356.8 338.6,1366.9 339.3,1358.8 340.1,1362.5 340.8,1355.1 341.5,1358.6 342.3,1361 343,1360.4 343.7,1359.7 344.4,1359.3 345.2,1354.9 345.9,1362.4 346.6,1358.9 347.4,1356 348.1,1359 348.8,1362.6 349.6,1363.5 350.3,1359.5 351,1355.9 351.8,1362 352.5,1361.7 353.2,1360.3 354,1366.1 354.7,1358.8 355.4,1360.7 356.2,1354.7 356.9,1355.9 357.6,1356.7 358.3,1356.5 359.1,1356.4 359.8,1355.6 360.5,1365.3 361.3,1361.3 362,1360.1 362.7,1360.9 363.5,1357.5 364.2,1364.5 364.9,1362.9 365.7,1359.2 366.4,1354.3 367.1,1354 367.9,1354.4 368.6,1362.7 369.3,1354.3 370,1359.4 370.8,1360.2 371.5,1358.4 372.2,1357.5 373,1365.1 373.7,1365.3 374.4,1362.9 375.2,1360.3 375.9,1365.2 376.6,1362.2 377.4,1356.5 378.1,1355.4 378.8,1355.5 379.6,1354.9 380.3,1358.3 381,1360.9 381.8,1356.1 382.5,1354.6 383.2,1357.6 383.9,1359 384.7,1364.1 385.4,1364.2 386.1,1363.3 386.9,1356.6 387.6,1363.3 388.3,1356.8 389.1,1360.4 389.8,1365.5 390.5,1356.2 391.3,1359.8 392,1362.1 392.7,1362.9 393.5,1356.1 394.2,1362.6 394.9,1355.5 395.6,1353.3 396.4,1358.5 397.1,1363.7 397.8,1360.8 398.6,1356.2 399.3,1359.2 400,1357.1 400.8,1361 401.5,1356.5 402.2,1355 403,1365 403.7,1353.4 404.4,1354.6 405.2,1356.8 405.9,1356.9 406.6,1359.5 407.3,1358.8 408.1,1354.7 408.8,1362.8 409.5,1361.3 410.3,1355 411,1354.8 411.7,1354.1 412.5,1358.9 413.2,1360.3 413.9,1361.3 414.7,1355.5 415.4,1363 416.1,1363.4 416.9,1358.3 417.6,1354 418.3,1354.6 419.1,1361.2 419.8,1353.3 420.5,1360 421.2,1361.1 422,1352.7 422.7,1354.3 423.4,1355.4 424.2,1357.7 424.9,1362.7 425.6,1362.1 426.4,1357.1 427.1,1352.6 427.8,1359 428.6,1354.8 429.3,1355.9 430,1363.6 430.8,1355.9 431.5,1357.2 432.2,1360.5 432.9,1363.6 433.7,1353.2 434.4,1359.5 435.1,1360.4 435.9,1353.9 436.6,1353.6 437.3,1356.4 438.1,1363.9 438.8,1360.8 439.5,1364 440.3,1360.4 441,1357.6 441.7,1364.4 442.5,1363.6 443.2,1357.7 443.9,1358 444.7,1358.6 445.4,1353.6 446.1,1360.1 446.8,1360.9 447.6,1358.1 448.3,1359.4 449,1363.3 449.8,1359.8 450.5,1360.6 451.2,1363 452,1361.2 452.7,1357.8 453.4,1363.8 454.2,1363.7 454.9,1353.3 455.6,1364.3 456.4,1354.3 457.1,1362.9 457.8,1360 458.5,1361.7 459.3,1356.5 460,1355.8 460.7,1354.4 461.5,1353.8 462.2,1353.7 462.9,1354.3 463.7,1362.1 464.4,1362.2 465.1,1362.6 465.9,1364.1 466.6,1362.6 467.3,1354.4 468.1,1363 468.8,1353.6 469.5,1358.4 470.2,1362.4 471,1353.8 471.7,1355.5 472.4,1360.1 473.2,1353.4 473.9,1366.2 474.6,1361.2 475.4,1358.9 476.1,1361.6 476.8,1353.9 477.6,1362.4 478.3,1358.7 479,1356.8 479.8,1362 480.5,1357.7 481.2,1352.7 482,1360.6 482.7,1352.7 483.4,1359 484.1,1354.8 484.9,1357.1 485.6,1357.2 486.3,1360.6 487.1,1359.8 487.8,1356.4 488.5,1361.9 489.3,1361.5 490,1353 490.7,1359.2 491.5,1360.9 492.2,1359.7 492.9,1352.5 493.7,1353.2 494.4,1359.9 495.1,1361.6 495.8,1363.7 496.6,1364 497.3,1360.6 498,1357.3 498.8,1363.6 499.5,1355 500.2,1353.5 501,1356.8 501.7,1352.5 502.4,1358.9 503.2,1364.4 503.9,1354.4 504.6,1359.4 505.4,1357.7 506.1,1366.3 506.8,1361.6 507.6,1361.7 508.3,1360.3 509,1353.3 509.7,1359 510.5,1360.1 511.2,1354.4 511.9,1356.5 512.7,1364.3 513.4,1362.1 514.1,1353.1 514.9,1355.5 515.6,1357 516.3,1361.3 517.1,1363.9 517.8,1362.2 518.5,1362.8 519.3,1363.8 520,1358.2 520.7,1359.5 521.4,1357.2 522.2,1360.7 522.9,1362.1 523.6,1356.2 524.4,1359.3 525.1,1353.2 525.8,1372 526.6,1357.2 527.3,1357.5 528,1354.7 528.8,1362.5 529.5,1363.4 530.2,1357.1 531,1359 531.7,1356.6 532.4,1362.2 533.2,1361.7 533.9,1365.1 534.6,1355 535.3,1361.8 536.1,1368.5 536.8,1360.4 537.5,1365 538.3,1362.1 539,1359 539.7,1370.6 540.5,1371.8 541.2,1361.7 541.9,1365.8 542.7,1371.7 543.4,1361.6 544.1,1360.8 544.9,1369.4 545.6,1370.5 546.3,1362.7 547,1375.7 547.8,1375.6 548.5,1373.9 549.2,1369.1 550,1381.8 550.7,1370.6 551.4,1384.8 552.2,1377.2 552.9,1383 553.6,1377.5 554.4,1378.7 555.1,1383.9 555.8,1377.3 556.6,1376.1 557.3,1386.7 558,1390 558.7,1377.7 559.5,1393.2 560.2,1394.1 560.9,1385.8 561.7,1389.1 562.4,1388.1 563.1,1407.7 563.9,1392.4 564.6,1410.3 565.3,1410.8 566.1,1416.4 566.8,1398.8 567.5,1417.3 568.3,1401.5 569,1403.9 569.7,1421.6 570.5,1401.8 571.2,1415.8 571.9,1420.8 572.6,1405.2 573.4,1401.2 574.1,1408.3 574.8,1400.1 575.6,1408.4 576.3,1405.2 577,1401.8 577.8,1392.9 578.5,1416.4 579.2,1411.9 580,1395.5 580.7,1408.9 581.4,1398.1 582.2,1401.4 582.9,1394.3 583.6,1392.1 584.3,1399.8 585.1,1403.8 585.8,1402.5 586.5,1403.5 587.3,1403.4 588,1400.4 588.7,1392.7 589.5,1400.1 590.2,1399.4 590.9,1390.7 591.7,1389.2 592.4,1403.2 593.1,1392 593.9,1405.9 594.6,1409.8 595.3,1401.5 596.1,1405.9 596.8,1398.9 597.5,1402.1 598.2,1428.1 599,1425.8 599.7,1416.6 600.4,1416.9 601.2,1460 601.9,1440.2 602.6,1423.5 603.4,1415.8 604.1,1436.1 604.8,1420.5 605.6,1415.8 606.3,1424.4 607,1418.7 607.8,1420.9 608.5,1421.1 609.2,1425.8 609.9,1422.2 610.7,1430.8 611.4,1448 612.1,1433.3 612.9,1445.6 613.6,1453.3 614.3,1457.5 615.1,1456.1 615.8,1470.4 616.5,1486.6 617.3,1454.7 618,1500 618.7,1493.4 619.5,1448 620.2,1481.6 620.9,1467.5 621.6,1475.6 622.4,1487.6 623.1,1466.9 623.8,1461.5 624.6,1493.9 625.3,1516 626,1505 626.8,1523.7 627.5,1568 628.2,1520.3 629,1524.4 629.7,1591 630.4,1521.7 631.2,1522.5 631.9,1522.9 632.6,1492.2 633.4,1525.5 634.1,1505.8 634.8,1496 635.5,1500.4 636.3,1482.3 637,1474.4 637.7,1507.6 638.5,1470 639.2,1477.6 639.9,1489.8 640.7,1484.8 641.4,1463.8 642.1,1473.2 642.9,1530 643.6,1466.2 644.3,1599 645.1,1458.8 645.8,1453.3 646.5,1484.2 647.2,1459.8 648,1460.8 648.7,1446.6 649.4,1449.8 650.2,1463.6 650.9,1483.4 651.6,1488.5 652.4,1472.3 653.1,1481.1 653.8,1473 654.6,1504.5 655.3,1476.5 656,1534 656.8,1478.6 657.5,1498.4 658.2,1497.8 659,1476.2 659.7,1472.4 660.4,1493.9 661.1,1465 661.9,1489.5 662.6,1496 663.3,1488.9 664.1,1462.3 664.8,1481.2 665.5,1480.5 666.3,1462.4 667,1459.7 667.7,1476.3 668.5,1457.5" fill="none" stroke="#2b2118" stroke-width="1.4" stroke-linejoin="round"/>
<path d="M136,1339.9 136.3,1358.2 136.6,1356.9 136.9,1354.7 137.2,1368.7 137.5,1368.6 137.8,1363.3 138,1374 138.3,1371.3 138.6,1377.5 138.9,1377.7 139.2,1382.1 139.5,1370.6 139.8,1377.7 140.1,1368.9 140.4,1384.6 140.7,1384.8 141,1386.7 141.3,1372.3 141.6,1382.3 141.9,1381.8 142.1,1375.6 142.4,1378.1 142.7,1394 143,1392.7 143.3,1381.6 143.6,1394.4 143.9,1391.8 144.2,1387.4 144.5,1393.7 144.8,1386.1 145.1,1388 145.4,1383.6 145.7,1398.3 145.9,1397.9 146.2,1402.4 146.5,1398.5 146.8,1398.2 147.1,1396.7 147.4,1406.8 147.7,1400.9 148,1408.3 148.3,1414.2 148.6,1410.8 148.9,1418.2 149.2,1409.1 149.5,1415.7 149.8,1429 150,1419.5 150.3,1420.8 150.6,1423.6 150.9,1440.3 151.2,1432.5 151.5,1442.5 151.8,1445.8 152.1,1456.4 152.4,1454.1 152.7,1459.4 153,1454.9 153.3,1474.5 153.6,1478.9 153.8,1480 154.1,1481.9 154.4,1475.7 154.7,1475.5 155,1476 155.3,1464.4 155.6,1438.3 155.9,1437.1 156.2,1426.1 156.5,1409.7 156.8,1403 157.1,1402.9 157.4,1394.4 157.6,1392.4 157.9,1378.1 158.2,1371.8 158.5,1357.7 158.8,1359.3 159.1,1350.5 159.4,1361.9 159.7,1352.5 160,1346.3 160.3,1367.3 160.6,1366.6 160.9,1362.9 161.2,1352.3 161.5,1359 161.7,1362 162,1362.2 162.3,1353.6 162.6,1365.4 162.9,1374.2 163.2,1370.6 163.5,1371.8 163.8,1364.7 164.1,1363.7 164.4,1361.2 164.7,1355.9 165,1347.1 165.3,1333.3 165.5,1332.1 165.8,1327.4 166.1,1327.2 166.4,1319.5 166.7,1310 167,1300.8 167.3,1300.4 167.6,1295.8 167.9,1301.5 168.2,1300.4 168.5,1285.5 168.8,1290.3 169.1,1294.4 169.4,1282 169.6,1273.9 169.9,1284 170.2,1278.5 170.5,1273.6 170.8,1276.4 171.1,1270.2 171.4,1276.4 171.7,1285.5 172,1282 172.3,1283.2 172.6,1298.1 172.9,1310.8 173.2,1312.4 173.4,1305.9 173.7,1322.7 174,1309.1 174.3,1314.4 174.6,1315.1 174.9,1320 175.2,1336.2 175.5,1342.9 175.8,1339.1 176.1,1349.3 176.4,1343.9 176.7,1357.3 177,1352.3 177.3,1352.8 177.5,1346 177.8,1354.2 178.1,1356.6 178.4,1368 178.7,1354.9 179,1358.3 179.3,1373.1 179.6,1356.2 179.9,1369.1 180.2,1362.4 180.5,1374.7 180.8,1374.2 181.1,1362.9 181.3,1380.1 181.6,1373.4 181.9,1372.6 182.2,1387.3 182.5,1386.8 182.8,1376.5 183.1,1387.2 183.4,1374.8 183.7,1386.2 184,1376.3 184.3,1391.8 184.6,1400.5 184.9,1394.1 185.2,1378.3 185.4,1392.8 185.7,1392.5 186,1392.6 186.3,1383.9 186.6,1388.8 186.9,1395.4 187.2,1382.4 187.5,1402.6 187.8,1387.9 188.1,1389.2 188.4,1382.7 188.7,1389 189,1407 189.2,1387.9 189.5,1381.8 189.8,1388.4 190.1,1404.5 190.4,1380.1 190.7,1386.6 191,1382.4 191.3,1394.8 191.6,1388.5 191.9,1378.4 192.2,1398.6 192.5,1383.8 192.8,1393.1 193,1386.4 193.3,1397.7 193.6,1374 193.9,1378.3 194.2,1379.3 194.5,1378 194.8,1395.4 195.1,1384.6 195.4,1379.1 195.7,1383.5 196,1392.4 196.3,1384 196.6,1380.3 196.9,1384.6 197.1,1383.1 197.4,1377.6 197.7,1377.6 198,1369.1 198.3,1376.9 198.6,1389.3 198.9,1371.8 199.2,1373.4 199.5,1381.2 199.8,1381.1 200.1,1366.7 200.4,1376.3 200.7,1387.2 200.9,1360.8 201.2,1362.9 201.5,1387.3 201.8,1392.4 202.1,1359.9 202.4,1360 202.7,1379.8 203,1366.5 203.3,1379.7 203.6,1357.6 203.9,1372 204.2,1362.1 204.5,1367.4 204.8,1378.1 205,1372.4 205.3,1384 205.6,1385.2 205.9,1379.2 206.2,1388.4 206.5,1365.5 206.8,1377.3 207.1,1372.1 207.4,1383.8 207.7,1365.8 208,1392.3 208.3,1375.6 208.6,1388.2 208.8,1392.3 209.1,1392.2 209.4,1378.4 209.7,1391.2 210,1395.3 210.3,1374.7 210.6,1390.5 210.9,1390.7 211.2,1385.4 211.5,1382.2 211.8,1380.8 212.1,1387.5 212.4,1401.2 212.7,1389.3 212.9,1386.7 213.2,1396.9 213.5,1393.4 213.8,1399 214.1,1396 214.4,1392.6 214.7,1387 215,1409.1 215.3,1405.3 215.6,1395.3 215.9,1402.4 216.2,1405 216.5,1403.9 216.7,1413.2 217,1410.9 217.3,1401.5 217.6,1402.7 217.9,1408.6 218.2,1400.1 218.5,1415.7 218.8,1399 219.1,1407.7 219.4,1402.3 219.7,1406.5 220,1395.2 220.3,1397.9 220.5,1414.9 220.8,1409.5 221.1,1393.3 221.4,1395.2 221.7,1381.3 222,1379.6 222.3,1377.5 222.6,1391 222.9,1372.5 223.2,1367.6 223.5,1360.6 223.8,1358.3 224.1,1372.7 224.4,1364.2 224.6,1364.2 224.9,1359.1 225.2,1355.2 225.5,1341.9 225.8,1337 226.1,1336 226.4,1328.5 226.7,1327.8 227,1337.2 227.3,1330 227.6,1316.7 227.9,1321.6 228.2,1332.8 228.4,1331 228.7,1326.2 229,1324.5 229.3,1328.3 229.6,1318.9 229.9,1314.1 230.2,1318.1 230.5,1310.6 230.8,1304.4 231.1,1309.8 231.4,1316.8 231.7,1310.6 232,1311.5 232.3,1318.1 232.5,1323.8 232.8,1344 233.1,1332 233.4,1344.5 233.7,1343.5 234,1340.9 234.3,1335.1 234.6,1339.1 234.9,1339.1 235.2,1349.1 235.5,1355.6 235.8,1354.9 236.1,1344.9 236.3,1343.6 236.6,1342.7 236.9,1354.7 237.2,1348.6 237.5,1343.8 237.8,1349.6 238.1,1347.7 238.4,1346.8 238.7,1358.9 239,1357 239.3,1348.7 239.6,1361.8 239.9,1347.4 240.2,1367.7 240.4,1345.8 240.7,1359.2 241,1362.6 241.3,1363.8 241.6,1357.9 241.9,1368.2 242.2,1362.6 242.5,1364.6 242.8,1350.7 243.1,1353.8 243.4,1360.2 243.7,1362 244,1352.5 244.2,1366.5 244.5,1358.9 244.8,1362.1 245.1,1363.6 245.4,1370.3 245.7,1360.4 246,1365.9 246.3,1366.1 246.6,1366.6 246.9,1357.7 247.2,1355.6 247.5,1359.7 247.8,1362.7 248.1,1363.4 248.3,1347 248.6,1356.3 248.9,1359.5 249.2,1347.3 249.5,1343.8 249.8,1370.4 250.1,1339.8 250.4,1355 250.7,1347.2 251,1337.2 251.3,1344.7 251.6,1339.9 251.9,1347.7 252.1,1366.4 252.4,1337.3 252.7,1348 253,1360.7 253.3,1359.1 253.6,1340.4 253.9,1348.2 254.2,1352.3 254.5,1373.8 254.8,1363.3 255.1,1361 255.4,1370.4 255.7,1373.6 255.9,1367.5 256.2,1383.2 256.5,1386.2 256.8,1380.7 257.1,1383.8 257.4,1392.1 257.7,1399.3 258,1390.3 258.3,1373.5 258.6,1388.3 258.9,1393.7 259.2,1384.4 259.5,1395.5 259.8,1386.9 260,1394.6 260.3,1394.1 260.6,1395.3 260.9,1403 261.2,1395.7 261.5,1395.3 261.8,1394.7 262.1,1377.2 262.4,1387.8 262.7,1385.4 263,1365.9 263.3,1383.9 263.6,1366.7 263.8,1371.5 264.1,1370.4 264.4,1374.1 264.7,1373.9 265,1365.5 265.3,1375.4 265.6,1362.5 265.9,1364.2 266.2,1373 266.5,1356.9 266.8,1365.1 267.1,1369.9 267.4,1349.1 267.7,1364.3 267.9,1360.6 268.2,1358 268.5,1364.1 268.8,1366.1 269.1,1348.4 269.4,1357.1 269.7,1360.6 270,1363 270.3,1368.9 270.6,1364 270.9,1363.8 271.2,1345.8 271.5,1353.4 271.7,1362.7 272,1362.7 272.3,1360.1 272.6,1351.8 272.9,1362.5 273.2,1357.6 273.5,1361.9 273.8,1362 274.1,1369.4 274.4,1365.8 274.7,1374 275,1360.9 275.3,1361.7 275.6,1367.2 275.8,1365.2 276.1,1350.2 276.4,1375.9 276.7,1356 277,1360.3 277.3,1345.5 277.6,1348.9 277.9,1370.6 278.2,1349.3 278.5,1348.8 278.8,1364.3 279.1,1344.5 279.4,1357.6 279.6,1353.2 279.9,1363.6 280.2,1348.3 280.5,1342.6 280.8,1339.8 281.1,1342.8 281.4,1330.1 281.7,1333.7 282,1334.2 282.3,1339.6 282.6,1353.6 282.9,1358.4 283.2,1340.3 283.5,1337.2 283.7,1338.3 284,1347.3 284.3,1343.1 284.6,1333.4 284.9,1344 285.2,1337.2 285.5,1334 285.8,1350.1 286.1,1332.9 286.4,1341.3 286.7,1349.6 287,1343.9 287.3,1352.4 287.5,1338.2 287.8,1354.5 288.1,1331 288.4,1353.3 288.7,1340.9 289,1329.8 289.3,1336.6 289.6,1356.1 289.9,1348.8 290.2,1349.4 290.5,1351.5 290.8,1329.6 291.1,1337.8 291.3,1342.2 291.6,1354.5 291.9,1354.5 292.2,1333.4 292.5,1356.9 292.8,1344.8 293.1,1337.8 293.4,1331.5 293.7,1341.3 294,1344 294.3,1342.1 294.6,1338 294.9,1356.4 295.2,1342.8 295.4,1337.9 295.7,1351.7 296,1336.1 296.3,1341.4 296.6,1331.9 296.9,1335.9 297.2,1358.6 297.5,1347.4 297.8,1344.5 298.1,1349 298.4,1349.1 298.7,1344.5 299,1339.8 299.2,1333.1 299.5,1329.5 299.8,1332.3 300.1,1341.1 300.4,1328.8 300.7,1349.4 301,1339 301.3,1335.7 301.6,1338.2 301.9,1343.8 302.2,1335 302.5,1355 302.8,1343.5 303.1,1330.6 303.3,1331.1 303.6,1356.1 303.9,1346.4 304.2,1337.5 304.5,1350.6 304.8,1329.9 305.1,1356.1 305.4,1357.6 305.7,1349.1 306,1330 306.3,1341.7 306.6,1354.5 306.9,1346.9 307.1,1335 307.4,1335.8 307.7,1330.4 308,1344.7 308.3,1334.1 308.6,1342.3 308.9,1356.4 309.2,1356.5 309.5,1343.8 309.8,1352.9 310.1,1332.6 310.4,1358 310.7,1355.5 311,1343.5 311.2,1356.1 311.5,1337.7 311.8,1359.1 312.1,1338.5 312.4,1357.3 312.7,1354.6 313,1357.6 313.3,1351.2 313.6,1330.7 313.9,1337.2 314.2,1348.9 314.5,1356.9 314.8,1349.7 315,1329.6 315.3,1339.3 315.6,1339.2 315.9,1333.8 316.2,1335.5 316.5,1344.6 316.8,1340.1 317.1,1336.8 317.4,1341.3 317.7,1358.1 318,1347.1 318.3,1352 318.6,1357.7 318.8,1329.4 319.1,1356 319.4,1331.4 319.7,1334.6 320,1351.6 320.3,1352 320.6,1347.7 320.9,1343.4 321.2,1351.1 321.5,1341.8 321.8,1334.5 322.1,1335.3 322.4,1331.9 322.7,1329.5 322.9,1358.3 323.2,1358.3 323.5,1339.4 323.8,1341.4 324.1,1337.2 324.4,1353 324.7,1343.9 325,1333.7 325.3,1356.2 325.6,1357.6 325.9,1329.8 326.2,1342.8 326.5,1335.3 326.7,1348.5 327,1339.7 327.3,1337.8 327.6,1337.9 327.9,1347.5 328.2,1344.2 328.5,1343.8 328.8,1349.8 329.1,1343.3 329.4,1358.3 329.7,1342.2 330,1353.4 330.3,1357.8 330.6,1348 330.8,1347 331.1,1353.3 331.4,1350.9 331.7,1334.5 332,1341.5 332.3,1333.3 332.6,1329 332.9,1350.1 333.2,1338.7 333.5,1336.4 333.8,1329.2 334.1,1329 334.4,1349.6 334.6,1339.7 334.9,1342.1 335.2,1349.8 335.5,1357.1 335.8,1350.6 336.1,1335.3 336.4,1359.7 336.7,1334.1 337,1346.7 337.3,1348.8 337.6,1337.4 337.9,1356.5 338.2,1347.7 338.5,1350.9 338.7,1332.7 339,1354.8 339.3,1337.4 339.6,1348 339.9,1351.7 340.2,1338.5 340.5,1336.7 340.8,1338.8 341.1,1359.4 341.4,1349.2 341.7,1343.3 342,1346.2 342.3,1349.2 342.5,1336.6 342.8,1330.7 343.1,1331.8 343.4,1346.8 343.7,1347.4 344,1359.5 344.3,1348.1 344.6,1355.5 344.9,1359.8 345.2,1344.1 345.5,1341.7 345.8,1343.3 346.1,1340.1 346.4,1352.5 346.6,1346.6 346.9,1332.2 347.2,1358.8 347.5,1345.1 347.8,1352.2 348.1,1345.8 348.4,1347.1 348.7,1346.7 349,1331.9 349.3,1332.4 349.6,1351.6 349.9,1339.4 350.2,1332.4 350.4,1354.4 350.7,1352.2 351,1352.7 351.3,1340.6 351.6,1332.5 351.9,1352.6 352.2,1335.1 352.5,1349.7 352.8,1350.6 353.1,1337 353.4,1328.3 353.7,1347.2 354,1353.6 354.2,1347.1 354.5,1359.8 354.8,1335.6 355.1,1351.7 355.4,1342.2 355.7,1346.9 356,1337.9 356.3,1335.6 356.6,1345.8 356.9,1347.7 357.2,1357.5 357.5,1347.6 357.8,1344.3 358.1,1349.1 358.3,1348.4 358.6,1341.3 358.9,1336.8 359.2,1350.2 359.5,1340.7 359.8,1329.4 360.1,1333.7 360.4,1339.8 360.7,1350.3 361,1349.3 361.3,1344 361.6,1354.5 361.9,1338.7 362.1,1339.5 362.4,1352.4 362.7,1350.1 363,1341.9 363.3,1356.9 363.6,1329 363.9,1345.5 364.2,1355.9 364.5,1356.6 364.8,1334.4 365.1,1354.3 365.4,1345.4 365.7,1358.4 366,1338.8 366.2,1349.6 366.5,1348.9 366.8,1360.2 367.1,1339.1 367.4,1340.8 367.7,1332.2 368,1350.3 368.3,1330.4 368.6,1355.6 368.9,1332.9 369.2,1334.3 369.5,1358.9 369.8,1344.3 370,1352.6 370.3,1339.3 370.6,1336 370.9,1340.1 371.2,1360 371.5,1334.4 371.8,1357.5 372.1,1356.8 372.4,1350.2 372.7,1336.8 373,1351.8 373.3,1357.5 373.6,1347.4 373.9,1335.3 374.1,1347.9 374.4,1359.2 374.7,1347.3 375,1333 375.3,1334.7 375.6,1348.6 375.9,1329.7 376.2,1328.2 376.5,1340.3 376.8,1336.5 377.1,1344.2 377.4,1330.5 377.7,1346.3 377.9,1350.1 378.2,1338.4 378.5,1347.1 378.8,1345.3 379.1,1353.8 379.4,1346.9 379.7,1348.9 380,1346.5 380.3,1354.9 380.6,1331.2 380.9,1331.8 381.2,1356.3 381.5,1355.3 381.8,1328.4 382,1357.3 382.3,1348 382.6,1356 382.9,1351 383.2,1340.4 383.5,1331.8 383.8,1353.1 384.1,1351.3 384.4,1343.4 384.7,1336.9 385,1340 385.3,1358.7 385.6,1343.2 385.8,1334.9 386.1,1360.3 386.4,1360.1 386.7,1333.9 387,1334.5 387.3,1352 387.6,1340.7 387.9,1343.6 388.2,1350.5 388.5,1337 388.8,1347.5 389.1,1334.7 389.4,1335.3 389.6,1345.9 389.9,1342.1 390.2,1357.4 390.5,1332.7 390.8,1358.1 391.1,1336.6 391.4,1339.3 391.7,1331.5 392,1338.4 392.3,1360.3 392.6,1339.9 392.9,1355.5 393.2,1360.1 393.5,1350.9 393.7,1334.1 394,1342.2 394.3,1333.5 394.6,1336.2 394.9,1339 395.2,1333.5 395.5,1350.4 395.8,1345.2 396.1,1337.6 396.4,1336.4 396.7,1332.7 397,1331.8 397.3,1342.5 397.5,1330.5 397.8,1345.2 398.1,1336.4 398.4,1353.5 398.7,1336.8 399,1356.2 399.3,1359.2 399.6,1358.7 399.9,1335.5 400.2,1358.7 400.5,1343.6 400.8,1357.2 401.1,1343.3 401.4,1345.8 401.6,1336.5 401.9,1352.9 402.2,1340.1 402.5,1357.1 402.8,1351.3 403.1,1342.1 403.4,1329 403.7,1336.8 404,1341.7 404.3,1340.2 404.6,1347.1 404.9,1328.2 405.2,1343.4 405.4,1357.3 405.7,1359.2 406,1350.6 406.3,1350.5 406.6,1347.8 406.9,1360.7 407.2,1353.9 407.5,1343.1 407.8,1344.2 408.1,1358.7 408.4,1346.1 408.7,1347.6 409,1338.1 409.3,1349.7 409.5,1344 409.8,1358.8 410.1,1360.6 410.4,1360.5 410.7,1359 411,1329.5 411.3,1330.5 411.6,1339.1 411.9,1354.9 412.2,1346.2 412.5,1336.4 412.8,1331.4 413.1,1336.2 413.3,1332.2 413.6,1332.8 413.9,1352.2 414.2,1334.4 414.5,1333.5 414.8,1348.1 415.1,1332.3 415.4,1355 415.7,1349.1 416,1356.4 416.3,1351.5 416.6,1351.7 416.9,1336.7 417.2,1341.7 417.4,1340.4 417.7,1340.8 418,1357.5 418.3,1342.2 418.6,1353.8 418.9,1348.4 419.2,1330.8 419.5,1334.9 419.8,1346.7 420.1,1353.5 420.4,1335.6 420.7,1336.2 421,1340.2 421.2,1342.9 421.5,1341.6 421.8,1357.8 422.1,1347.6 422.4,1337.1 422.7,1339.2 423,1344.4 423.3,1333.3 423.6,1340.7 423.9,1330.3 424.2,1349.1 424.5,1355.8 424.8,1356.8 425,1347.2 425.3,1340.4 425.6,1346 425.9,1345.9 426.2,1333.8 426.5,1345.4 426.8,1344 427.1,1334.5 427.4,1342.3 427.7,1354.7 428,1348.6 428.3,1338.6 428.6,1335.8 428.9,1348.2 429.1,1345.7 429.4,1337.7 429.7,1343.1 430,1341.1 430.3,1348.1 430.6,1356 430.9,1340 431.2,1345.2 431.5,1346 431.8,1349.3 432.1,1335.9 432.4,1336 432.7,1357.3 432.9,1332.8 433.2,1349.7 433.5,1336.4 433.8,1343.7 434.1,1342.4 434.4,1335.8 434.7,1333.8 435,1358.3 435.3,1329.5 435.6,1332.7 435.9,1351.4 436.2,1339.9 436.5,1334.4 436.8,1352.6 437,1359 437.3,1334.8 437.6,1350.4 437.9,1340.7 438.2,1359.5 438.5,1346.9 438.8,1356.2 439.1,1349 439.4,1332.4 439.7,1342.1 440,1350.3 440.3,1333.1 440.6,1331.1 440.8,1359.1 441.1,1357 441.4,1348.6 441.7,1330.3 442,1350.1 442.3,1359 442.6,1352.6 442.9,1350.5 443.2,1342 443.5,1347.9 443.8,1357 444.1,1343.8 444.4,1330.6 444.7,1332.8 444.9,1357.8 445.2,1350.3 445.5,1357.2 445.8,1332.9 446.1,1331.6 446.4,1349.4 446.7,1341.6 447,1342.6 447.3,1335.5 447.6,1351.9 447.9,1352.4 448.2,1350.7 448.5,1341.6 448.7,1343.5 449,1340.5 449.3,1342.7 449.6,1338.4 449.9,1342.8 450.2,1357.9 450.5,1353 450.8,1332.5 451.1,1348.9 451.4,1353.5 451.7,1339 452,1355.6 452.3,1357.2 452.5,1330.6 452.8,1347.5 453.1,1340 453.4,1342.7 453.7,1345.1 454,1354.6 454.3,1347.7 454.6,1355.5 454.9,1336 455.2,1352.7 455.5,1340.4 455.8,1334 456.1,1352.9 456.4,1346 456.6,1335.3 456.9,1355.6 457.2,1343.4 457.5,1348.9 457.8,1358.3 458.1,1338.4 458.4,1344.9 458.7,1345 459,1337.1 459.3,1344.6 459.6,1357.7 459.9,1349.5 460.2,1336.5 460.4,1349.1 460.7,1347.1 461,1339.6 461.3,1348.7 461.6,1339.8 461.9,1352 462.2,1340.2 462.5,1353.3 462.8,1337.4 463.1,1333.7 463.4,1338.4 463.7,1332.3 464,1354.8 464.3,1358.4 464.5,1341 464.8,1335.7 465.1,1355 465.4,1354 465.7,1335.8 466,1337.7 466.3,1343.4 466.6,1332.5 466.9,1334.8 467.2,1340.4 467.5,1332.1 467.8,1332.8 468.1,1346.6 468.3,1337.5 468.6,1355.8 468.9,1357.2 469.2,1348.5 469.5,1336.7 469.8,1351.2 470.1,1338.6 470.4,1354.4 470.7,1341.1 471,1349.1 471.3,1350.9 471.6,1349.4 471.9,1350.9 472.2,1338.7 472.4,1333.1 472.7,1339.5 473,1357 473.3,1329.7 473.6,1336.9 473.9,1337.7 474.2,1341.6 474.5,1354.3 474.8,1333.7 475.1,1331.7 475.4,1329.1 475.7,1338.6 476,1350 476.2,1341.9 476.5,1347.6 476.8,1343.7 477.1,1339.2 477.4,1340.6 477.7,1329.8 478,1356.6 478.3,1350.1 478.6,1331.5 478.9,1334.6 479.2,1351.6 479.5,1343.5 479.8,1350.6 480.1,1350.6 480.3,1332.9 480.6,1352.7 480.9,1334.5 481.2,1332.7 481.5,1350.5 481.8,1352.5 482.1,1337.5 482.4,1339.9 482.7,1350.1 483,1337.2 483.3,1341.6 483.6,1357.6 483.9,1332.4 484.1,1356.1 484.4,1354.5 484.7,1357.6 485,1335.8 485.3,1334.4 485.6,1341.4 485.9,1333.6 486.2,1355.5 486.5,1345.2 486.8,1353.1 487.1,1342.9 487.4,1343.1 487.7,1356.4 487.9,1332.3 488.2,1335.2 488.5,1353.4 488.8,1345.7 489.1,1351.3 489.4,1357.4 489.7,1351 490,1346.3 490.3,1350.4 490.6,1344 490.9,1335 491.2,1338.1 491.5,1355.3 491.8,1343.9 492,1329.6 492.3,1347.1 492.6,1357.3 492.9,1346.7 493.2,1342.8 493.5,1341.8 493.8,1346.8 494.1,1346.3 494.4,1342.7 494.7,1354.6 495,1354.1 495.3,1351.1 495.6,1349.5 495.8,1349.3 496.1,1334.4 496.4,1342.7 496.7,1336.4 497,1334.6 497.3,1355.8 497.6,1335.3 497.9,1352 498.2,1352.5 498.5,1340.3 498.8,1329.5 499.1,1333.8 499.4,1347.1 499.7,1348.9 499.9,1338.8 500.2,1345.8 500.5,1333.4 500.8,1347.4 501.1,1350.9 501.4,1350.9 501.7,1344.7 502,1345 502.3,1328.8 502.6,1336.3 502.9,1340.3 503.2,1330.8 503.5,1330.9 503.7,1355.8 504,1348.1 504.3,1344.7 504.6,1348.2 504.9,1353.3 505.2,1346.7 505.5,1340.8 505.8,1339.8 506.1,1356.1 506.4,1355.6 506.7,1333.1 507,1351.8 507.3,1346.9 507.6,1338.5 507.8,1348.3 508.1,1336.5 508.4,1349.7 508.7,1344.5 509,1345.2 509.3,1330.4 509.6,1354.1 509.9,1355.5 510.2,1350.1 510.5,1337 510.8,1349 511.1,1332.1 511.4,1344.1 511.6,1338.5 511.9,1342 512.2,1336.9 512.5,1330.8 512.8,1341 513.1,1335.5 513.4,1333.7 513.7,1338.1 514,1332.3 514.3,1329.5 514.6,1355.9 514.9,1330.4 515.2,1353.6 515.5,1340.5 515.7,1332.2 516,1340.8 516.3,1342.9 516.6,1330.4 516.9,1343.9 517.2,1329.1 517.5,1337.1 517.8,1348.5 518.1,1352.2 518.4,1333.8 518.7,1340.1 519,1355 519.3,1337.6 519.5,1332.2 519.8,1335.7 520.1,1352.7 520.4,1338.4 520.7,1347.2 521,1354.6 521.3,1346 521.6,1334.3 521.9,1342.1 522.2,1337.8 522.5,1342.1 522.8,1345.8 523.1,1355.6 523.3,1347.8 523.6,1342.8 523.9,1351.1 524.2,1342.8 524.5,1334.2 524.8,1347.2 525.1,1336.3 525.4,1334.7 525.7,1339.5 526,1342.1 526.3,1329.8 526.6,1338.8 526.9,1355.1 527.2,1342.8 527.4,1339 527.7,1341.4 528,1347.9 528.3,1342.6 528.6,1339.9 528.9,1344.7 529.2,1336.4 529.5,1347.4 529.8,1340.4 530.1,1348 530.4,1338.4 530.7,1346.2 531,1334.5 531.2,1342.1 531.5,1342.3 531.8,1330.1 532.1,1333 532.4,1341.5 532.7,1349.1 533,1350.2 533.3,1350.9 533.6,1349.9 533.9,1353.7 534.2,1335.3 534.5,1334.3 534.8,1334.1 535.1,1349.3 535.3,1335.4 535.6,1338.5 535.9,1334.4 536.2,1352.5 536.5,1336.2 536.8,1336.9 537.1,1345.5 537.4,1348.2 537.7,1332.4 538,1345.5 538.3,1344.4 538.6,1345.1 538.9,1344.3 539.1,1351.3 539.4,1352.1 539.7,1353.2 540,1340.1 540.3,1332.9 540.6,1343.8 540.9,1332.7 541.2,1348.3 541.5,1344.5 541.8,1351.5 542.1,1353.9 542.4,1351.4 542.7,1350.6 543,1341.3 543.2,1351.7 543.5,1349.6 543.8,1338.6 544.1,1356 544.4,1345.6 544.7,1347.3 545,1338.4 545.3,1355.1 545.6,1345.1 545.9,1351.9 546.2,1354.2 546.5,1345.1 546.8,1346.4 547,1342.7 547.3,1336.2 547.6,1351 547.9,1353.9 548.2,1329.5 548.5,1329.1 548.8,1340.5 549.1,1329.5 549.4,1338.8 549.7,1335.8 550,1332.6 550.3,1346.9 550.6,1341.5 550.9,1350.6 551.1,1330.8 551.4,1335.7 551.7,1341.9 552,1346 552.3,1336.5 552.6,1329.9 552.9,1335.1 553.2,1339.9 553.5,1350.5 553.8,1341.9 554.1,1346.9 554.4,1346.5 554.7,1335.4 554.9,1337.4 555.2,1346.5 555.5,1343.8 555.8,1335 556.1,1329.2 556.4,1345 556.7,1332.5 557,1331.8 557.3,1331.5 557.6,1344.9 557.9,1344 558.2,1353.5 558.5,1343.3 558.7,1340.5 559,1353.5 559.3,1331 559.6,1345.5 559.9,1358.4 560.2,1338.7 560.5,1333.7 560.8,1333 561.1,1331 561.4,1353.2 561.7,1344.1 562,1356.8 562.3,1357.7 562.6,1334.7 562.8,1343.4 563.1,1342.9 563.4,1343.5 563.7,1337.8 564,1344.6 564.3,1347.5 564.6,1351.1 564.9,1353.8 565.2,1365.9 565.5,1344.3 565.8,1345.7 566.1,1365 566.4,1350.8 566.6,1357.3 566.9,1352.5 567.2,1366.6 567.5,1368.1 567.8,1360.3 568.1,1349.9 568.4,1356.9 568.7,1365.1 569,1362.5 569.3,1356.5 569.6,1359.7 569.9,1352.6 570.2,1361.2 570.5,1372 570.7,1362.5 571,1365.3 571.3,1358.8 571.6,1373.3 571.9,1366.8 572.2,1366.8 572.5,1377.9 572.8,1366.2 573.1,1361 573.4,1376.6 573.7,1379.5 574,1361.3 574.3,1369.6 574.5,1384.5 574.8,1374.7 575.1,1371.6 575.4,1363 575.7,1366.2 576,1373.1 576.3,1380.9 576.6,1372.9 576.9,1380.1 577.2,1363.9 577.5,1353.9 577.8,1360.3 578.1,1360 578.4,1351 578.6,1350.7 578.9,1371.2 579.2,1369.7 579.5,1349.4 579.8,1347.2 580.1,1368.9 580.4,1348.1 580.7,1351.1 581,1348.7 581.3,1347.8 581.6,1342.9 581.9,1353.2 582.2,1360.6 582.4,1342.5 582.7,1352.6 583,1343.2 583.3,1359.2 583.6,1361.9 583.9,1360.8 584.2,1351.7 584.5,1341.1 584.8,1355.7 585.1,1338.3 585.4,1356.6 585.7,1343.5 586,1359 586.2,1342.5 586.5,1354.4 586.8,1347.8 587.1,1341.1 587.4,1347.3 587.7,1345.7 588,1338.8 588.3,1348.1 588.6,1347.6 588.9,1351.3 589.2,1343.2 589.5,1350 589.8,1340.9 590.1,1348.8 590.3,1342.7 590.6,1355.7 590.9,1342.5 591.2,1345.3 591.5,1340.6 591.8,1346.4 592.1,1352.1 592.4,1344.2 592.7,1341 593,1359.1 593.3,1344.4 593.6,1341.4 593.9,1345.5 594.1,1356.3 594.4,1353.5 594.7,1357.2 595,1347.2 595.3,1341.1 595.6,1345.2 595.9,1332.8 596.2,1349.3 596.5,1353.1 596.8,1354.8 597.1,1352.1 597.4,1346.7 597.7,1350.6 598,1336.3 598.2,1343.4 598.5,1332.4 598.8,1353 599.1,1341.4 599.4,1332.1 599.7,1353.7 600,1343.6 600.3,1332.4 600.6,1349.3 600.9,1343.1 601.2,1342.8 601.5,1349.5 601.8,1334.2 602,1333 602.3,1340.7 602.6,1330.6 602.9,1343.8 603.2,1337.6 603.5,1330 603.8,1327.8 604.1,1328.8 604.4,1340.4 604.7,1350 605,1347.3 605.3,1349.1 605.6,1342 605.9,1348.8 606.1,1336.5 606.4,1338 606.7,1352.9 607,1335.9 607.3,1345.6 607.6,1343.9 607.9,1330.2 608.2,1343.6 608.5,1349.4 608.8,1351.6 609.1,1339.3 609.4,1351.4 609.7,1329.5 609.9,1351.2 610.2,1346.8 610.5,1351.8 610.8,1343.2 611.1,1348.5 611.4,1357.2 611.7,1339.8 612,1339.4 612.3,1358.5 612.6,1362.8 612.9,1341.3 613.2,1352.2 613.5,1351 613.8,1344.5 614,1362.9 614.3,1343.8 614.6,1361.2 614.9,1348.6 615.2,1339.6 615.5,1367.3 615.8,1340.3 616.1,1339.1 616.4,1337.2 616.7,1347.5 617,1338 617.3,1342.2 617.6,1364.6 617.8,1345.5 618.1,1358.2 618.4,1344.9 618.7,1339.7 619,1339.8 619.3,1343.1 619.6,1365.8 619.9,1352.6 620.2,1347.2 620.5,1342 620.8,1358.2 621.1,1350 621.4,1348.1 621.6,1356.6 621.9,1365.3 622.2,1357.5 622.5,1364.7 622.8,1357.2 623.1,1367.9 623.4,1357.3 623.7,1379.7 624,1381.3 624.3,1374.1 624.6,1372.4 624.9,1371.3 625.2,1381 625.5,1377.5 625.7,1381.8 626,1375.5 626.3,1375.1 626.6,1385 626.9,1370.3 627.2,1376.5 627.5,1375.4 627.8,1376.2 628.1,1398.1 628.4,1383.2 628.7,1398.4 629,1378.7 629.3,1408.6 629.5,1395.9 629.8,1406.9 630.1,1386.8 630.4,1402.4 630.7,1408.2 631,1391.2 631.3,1384.7 631.6,1392.9 631.9,1403.6 632.2,1401.2 632.5,1379.5 632.8,1383.9 633.1,1395.4 633.4,1378.2 633.6,1371.5 633.9,1384.5 634.2,1377.5 634.5,1363.5 634.8,1361.5 635.1,1355.7 635.4,1350.4 635.7,1331.3 636,1334.7 636.3,1335.1 636.6,1329.3 636.9,1320.7 637.2,1314.6 637.4,1324.1 637.7,1321.3 638,1314.4 638.3,1308.6 638.6,1318.3 638.9,1318.8 639.2,1311.6 639.5,1304.6 639.8,1315.9 640.1,1307 640.4,1312.4 640.7,1318.5 641,1318.3 641.3,1322.5 641.5,1327.4 641.8,1331.2 642.1,1319 642.4,1333.6 642.7,1321.5 643,1323.1 643.3,1332.8 643.6,1338.5 643.9,1329.7 644.2,1337.7 644.5,1340.7 644.8,1332 645.1,1340.9 645.3,1350.4 645.6,1332.1 645.9,1336.6 646.2,1356 646.5,1350.8 646.8,1349.4 647.1,1360.3 647.4,1353.8 647.7,1348.3 648,1355.4 648.3,1367.4 648.6,1366.1 648.9,1364.2 649.2,1353.8 649.4,1380.2 649.7,1358.9 650,1365.6 650.3,1379.8 650.6,1384.9 650.9,1380.3 651.2,1374.5 651.5,1384.6 651.8,1384.3 652.1,1382.9 652.4,1386.3 652.7,1379.3 653,1377.4 653.2,1368.8 653.5,1380.7 653.8,1361.4 654.1,1359.3 654.4,1372.1 654.7,1354.6 655,1375.3 655.3,1355.1 655.6,1360.8 655.9,1353.5 656.2,1357.1 656.5,1357.9 656.8,1343.7 657,1350.3 657.3,1359 657.6,1337.1 657.9,1342.9 658.2,1346.3 658.5,1347.8 658.8,1349.3 659.1,1379.4 659.4,1385.2 659.7,1367.2 660,1393.4 660.3,1393 660.6,1390 660.9,1411.9 661.1,1397.8 661.4,1412 661.7,1414.7 662,1417.4 662.3,1406.3 662.6,1405.1 662.9,1421.1 663.2,1409.5 663.5,1416.5 663.8,1418 664.1,1392.7 664.4,1412.3 664.7,1417.9 664.9,1396.3 665.2,1402.3 665.5,1395.3 665.8,1414.1 666.1,1394.1 666.4,1391.3 666.7,1405.1 667,1404.3 667.3,1410.4 667.6,1402.3 667.9,1424.9 668.2,1416.4 668.5,1415.1 668.8,1426.2" fill="none" stroke="#ec1c24" stroke-width="3.0" stroke-linejoin="round"/>
<path d="M135,15.9V532.5H662.5" fill="none" stroke="#2f2f2f" stroke-width="1.9"/>
<path d="M135,16.8H145.7" stroke="#2f2f2f" stroke-width="1.9"/>
<path d="M135,188.7H145.7" stroke="#2f2f2f" stroke-width="1.9"/>
<path d="M135,360.6H145.7" stroke="#2f2f2f" stroke-width="1.9"/>
<path d="M135,532.5H145.7" stroke="#2f2f2f" stroke-width="1.9"/>
<path d="M222.8,532.5V522" stroke="#2f2f2f" stroke-width="1.9"/>
<path d="M310.5,532.5V522" stroke="#2f2f2f" stroke-width="1.9"/>
<path d="M398.3,532.5V522" stroke="#2f2f2f" stroke-width="1.9"/>
<path d="M486.1,532.5V522" stroke="#2f2f2f" stroke-width="1.9"/>
<path d="M573.8,532.5V522" stroke="#2f2f2f" stroke-width="1.9"/>
<path d="M661.6,532.5V522" stroke="#2f2f2f" stroke-width="1.9"/>
<path d="M135,592.4V1109.8H662.5" fill="none" stroke="#2f2f2f" stroke-width="1.9"/>
<path d="M135,593.3H145.7" stroke="#2f2f2f" stroke-width="1.9"/>
<path d="M135,696.6H145.7" stroke="#2f2f2f" stroke-width="1.9"/>
<path d="M135,799.9H145.7" stroke="#2f2f2f" stroke-width="1.9"/>
<path d="M135,903.2H145.7" stroke="#2f2f2f" stroke-width="1.9"/>
<path d="M135,1006.5H145.7" stroke="#2f2f2f" stroke-width="1.9"/>
<path d="M135,1109.8H145.7" stroke="#2f2f2f" stroke-width="1.9"/>
<path d="M222.8,1109.8V1099.3" stroke="#2f2f2f" stroke-width="1.9"/>
<path d="M310.5,1109.8V1099.3" stroke="#2f2f2f" stroke-width="1.9"/>
<path d="M398.3,1109.8V1099.3" stroke="#2f2f2f" stroke-width="1.9"/>
<path d="M486.1,1109.8V1099.3" stroke="#2f2f2f" stroke-width="1.9"/>
<path d="M573.8,1109.8V1099.3" stroke="#2f2f2f" stroke-width="1.9"/>
<path d="M661.6,1109.8V1099.3" stroke="#2f2f2f" stroke-width="1.9"/>
<path d="M135,1170V1683.9H662.5" fill="none" stroke="#2f2f2f" stroke-width="1.9"/>
<path d="M135,1170.9H145.7" stroke="#2f2f2f" stroke-width="1.9"/>
<path d="M135,1256.4H145.7" stroke="#2f2f2f" stroke-width="1.9"/>
<path d="M135,1341.9H145.7" stroke="#2f2f2f" stroke-width="1.9"/>
<path d="M135,1427.4H145.7" stroke="#2f2f2f" stroke-width="1.9"/>
<path d="M135,1512.9H145.7" stroke="#2f2f2f" stroke-width="1.9"/>
<path d="M135,1598.4H145.7" stroke="#2f2f2f" stroke-width="1.9"/>
<path d="M135,1683.9H145.7" stroke="#2f2f2f" stroke-width="1.9"/>
<path d="M222.8,1683.9V1673.4" stroke="#2f2f2f" stroke-width="1.9"/>
<path d="M310.5,1683.9V1673.4" stroke="#2f2f2f" stroke-width="1.9"/>
<path d="M398.3,1683.9V1673.4" stroke="#2f2f2f" stroke-width="1.9"/>
<path d="M486.1,1683.9V1673.4" stroke="#2f2f2f" stroke-width="1.9"/>
<path d="M573.8,1683.9V1673.4" stroke="#2f2f2f" stroke-width="1.9"/>
<path d="M661.6,1683.9V1673.4" stroke="#2f2f2f" stroke-width="1.9"/>
<text id="y_a_80" x="122.5" y="26" text-anchor="end" textLength="30.67" lengthAdjust="spacingAndGlyphs">80</text>
<text id="y_a_40" x="122.5" y="197.9" text-anchor="end" textLength="30.04" lengthAdjust="spacingAndGlyphs">40</text>
<text id="y_a_0" x="122.5" y="369.8" text-anchor="end" textLength="16.45" lengthAdjust="spacingAndGlyphs">0</text>
<text id="y_a_−40" x="122.5" y="541.7" text-anchor="end" textLength="52.58" lengthAdjust="spacingAndGlyphs">−40</text>
<text id="y_b_4" x="122.5" y="602.5" text-anchor="end" textLength="14.50" lengthAdjust="spacingAndGlyphs">4</text>
<text id="y_b_2" x="122.5" y="705.8" text-anchor="end" textLength="15.86" lengthAdjust="spacingAndGlyphs">2</text>
<text id="y_b_0" x="122.5" y="809.1" text-anchor="end" textLength="15.86" lengthAdjust="spacingAndGlyphs">0</text>
<text id="y_b_−2" x="122.5" y="912.4" text-anchor="end" textLength="37.60" lengthAdjust="spacingAndGlyphs">−2</text>
<text id="y_b_−4" x="122.5" y="1015.7" text-anchor="end" textLength="37.03" lengthAdjust="spacingAndGlyphs">−4</text>
<text id="y_b_−6" x="122.5" y="1119" text-anchor="end" textLength="36.39" lengthAdjust="spacingAndGlyphs">−6</text>
<text id="y_c_0.004" x="122.5" y="1180.1" text-anchor="end" textLength="70.67" lengthAdjust="spacingAndGlyphs">0.004</text>
<text id="y_c_0.002" x="122.5" y="1265.6" text-anchor="end" textLength="69.23" lengthAdjust="spacingAndGlyphs">0.002</text>
<text id="y_c_0" x="122.5" y="1351.1" text-anchor="end" textLength="16.45" lengthAdjust="spacingAndGlyphs">0</text>
<text id="y_c_−0.002" x="122.5" y="1436.6" text-anchor="end" textLength="90.87" lengthAdjust="spacingAndGlyphs">−0.002</text>
<text id="y_c_−0.004" x="122.5" y="1522.1" text-anchor="end" textLength="89.80" lengthAdjust="spacingAndGlyphs">−0.004</text>
<text id="y_c_−0.006" x="122.5" y="1607.6" text-anchor="end" textLength="91.80" lengthAdjust="spacingAndGlyphs">−0.006</text>
<text id="y_c_−0.008" x="122.5" y="1693.1" text-anchor="end" textLength="90.04" lengthAdjust="spacingAndGlyphs">−0.008</text>
<text id="x_a_0" x="135" y="567.5" text-anchor="middle" textLength="14.84" lengthAdjust="spacingAndGlyphs">0</text>
<text id="x_a_60" x="222.8" y="567.5" text-anchor="middle" textLength="31.55" lengthAdjust="spacingAndGlyphs">60</text>
<text id="x_a_120" x="310.5" y="567.5" text-anchor="middle" textLength="45.85" lengthAdjust="spacingAndGlyphs">120</text>
<text id="x_a_180" x="398.3" y="567.5" text-anchor="middle" textLength="44.29" lengthAdjust="spacingAndGlyphs">180</text>
<text id="x_a_240" x="486.1" y="567.5" text-anchor="middle" textLength="46.08" lengthAdjust="spacingAndGlyphs">240</text>
<text id="x_a_300" x="573.8" y="567.5" text-anchor="middle" textLength="45.34" lengthAdjust="spacingAndGlyphs">300</text>
<text id="x_a_360" x="661.6" y="567.5" text-anchor="middle" textLength="44.17" lengthAdjust="spacingAndGlyphs">360</text>
<text id="x_b_0" x="135" y="1146" text-anchor="middle" textLength="14.84" lengthAdjust="spacingAndGlyphs">0</text>
<text id="x_b_60" x="222.8" y="1146" text-anchor="middle" textLength="31.55" lengthAdjust="spacingAndGlyphs">60</text>
<text id="x_b_120" x="310.5" y="1146" text-anchor="middle" textLength="45.85" lengthAdjust="spacingAndGlyphs">120</text>
<text id="x_b_180" x="398.3" y="1146" text-anchor="middle" textLength="44.29" lengthAdjust="spacingAndGlyphs">180</text>
<text id="x_b_240" x="486.1" y="1146" text-anchor="middle" textLength="46.08" lengthAdjust="spacingAndGlyphs">240</text>
<text id="x_b_300" x="573.8" y="1146" text-anchor="middle" textLength="45.34" lengthAdjust="spacingAndGlyphs">300</text>
<text id="x_b_360" x="661.6" y="1146" text-anchor="middle" textLength="44.17" lengthAdjust="spacingAndGlyphs">360</text>
<text id="x_c_0" x="135" y="1719.3" text-anchor="middle" textLength="14.84" lengthAdjust="spacingAndGlyphs">0</text>
<text id="x_c_60" x="222.8" y="1719.3" text-anchor="middle" textLength="31.55" lengthAdjust="spacingAndGlyphs">60</text>
<text id="x_c_120" x="310.5" y="1719.3" text-anchor="middle" textLength="45.85" lengthAdjust="spacingAndGlyphs">120</text>
<text id="x_c_180" x="398.3" y="1719.3" text-anchor="middle" textLength="44.29" lengthAdjust="spacingAndGlyphs">180</text>
<text id="x_c_240" x="486.1" y="1719.3" text-anchor="middle" textLength="46.08" lengthAdjust="spacingAndGlyphs">240</text>
<text id="x_c_300" x="573.8" y="1719.3" text-anchor="middle" textLength="45.34" lengthAdjust="spacingAndGlyphs">300</text>
<text id="x_c_360" x="661.6" y="1719.3" text-anchor="middle" textLength="44.17" lengthAdjust="spacingAndGlyphs">360</text>
<text id="t_a" x="361.3" y="25.1" text-anchor="middle" textLength="36.13" lengthAdjust="spacingAndGlyphs">(a)</text>
<text id="t_b" x="361.3" y="601" text-anchor="middle" textLength="37.58" lengthAdjust="spacingAndGlyphs">(b)</text>
<text id="t_c" x="361.3" y="1178" text-anchor="middle" textLength="36.13" lengthAdjust="spacingAndGlyphs">(c)</text>
<text id="dayofyear" x="399.3" y="1752" text-anchor="middle" textLength="142.68" lengthAdjust="spacingAndGlyphs">Day of year</text>
<text id="ylab_a" transform="translate(62.7,272.9) rotate(-90)" text-anchor="middle" textLength="87.46" lengthAdjust="spacingAndGlyphs"><tspan font-style="italic">U</tspan>, m/s</text>
<text id="ylab_b" transform="translate(70.8,850.4) rotate(-90)" text-anchor="middle" textLength="82.67" lengthAdjust="spacingAndGlyphs"><tspan font-style="italic">V</tspan>, m/s</text>
<text id="ylab_c" transform="translate(26.3,1425.8) rotate(-90)" text-anchor="middle" textLength="99.22" lengthAdjust="spacingAndGlyphs"><tspan font-style="italic">W</tspan>, Pa/s</text>
</svg>
</body></html>
